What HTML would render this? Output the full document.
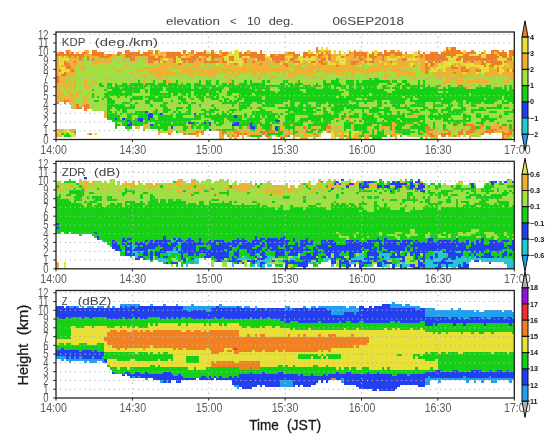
<!DOCTYPE html>
<html><head><meta charset="utf-8"><title>radar</title>
<style>html,body{margin:0;padding:0;background:#fff;}svg{display:block;}</style>
</head><body>
<svg width="550" height="439" viewBox="0 0 550 439">
<rect width="550" height="439" fill="#fff"/>
<defs><filter id="sf" x="0" y="0" width="1" height="1"><feGaussianBlur stdDeviation="0.45"/></filter></defs>
<g shape-rendering="crispEdges" filter="url(#sf)">
<path fill="#f0b030" d="M219.0 137.31H224.0V139.50H219.0zM229.1 137.31H231.7V139.50H229.1zM234.2 137.31H236.8V139.50H234.2zM241.9 137.31H244.4V139.50H241.9zM257.1 137.31H259.7V139.50H257.1zM292.8 137.31H295.3V139.50H292.8zM300.4 137.31H308.1V139.50H300.4zM313.2 137.31H315.7V139.50H313.2zM341.2 137.31H343.7V139.50H341.2zM346.3 137.31H348.8V139.50H346.3zM351.3 137.31H361.5V139.50H351.3zM364.1 137.31H369.2V139.50H364.1zM425.2 137.31H427.7V139.50H425.2zM435.4 137.31H437.9V139.50H435.4zM468.5 137.31H471.0V139.50H468.5zM504.1 137.31H506.7V139.50H504.1zM56.0 135.12H61.1V137.31H56.0zM196.0 135.12H198.6V137.31H196.0zM219.0 135.12H224.0V137.31H219.0zM234.2 135.12H236.8V137.31H234.2zM241.9 135.12H244.4V137.31H241.9zM247.0 135.12H249.5V137.31H247.0zM275.0 135.12H277.5V137.31H275.0zM280.1 135.12H285.1V137.31H280.1zM292.8 135.12H297.9V137.31H292.8zM303.0 135.12H310.6V137.31H303.0zM333.5 135.12H343.7V137.31H333.5zM346.3 135.12H348.8V137.31H346.3zM353.9 135.12H359.0V137.31H353.9zM364.1 135.12H369.2V137.31H364.1zM392.1 135.12H397.2V137.31H392.1zM422.6 135.12H427.7V137.31H422.6zM435.4 135.12H437.9V137.31H435.4zM448.1 135.12H450.6V137.31H448.1zM458.3 135.12H460.8V137.31H458.3zM468.5 135.12H476.1V137.31H468.5zM504.1 135.12H506.7V137.31H504.1zM56.0 132.92H58.5V135.12H56.0zM73.8 132.92H76.4V135.12H73.8zM157.8 132.92H160.4V135.12H157.8zM196.0 132.92H198.6V135.12H196.0zM201.1 132.92H203.7V135.12H201.1zM219.0 132.92H221.5V135.12H219.0zM229.1 132.92H236.8V135.12H229.1zM241.9 132.92H244.4V135.12H241.9zM247.0 132.92H262.2V135.12H247.0zM282.6 132.92H292.8V135.12H282.6zM295.3 132.92H300.4V135.12H295.3zM303.0 132.92H310.6V135.12H303.0zM315.7 132.92H320.8V135.12H315.7zM341.2 132.92H343.7V135.12H341.2zM356.4 132.92H359.0V135.12H356.4zM364.1 132.92H371.7V135.12H364.1zM387.0 132.92H402.3V135.12H387.0zM425.2 132.92H427.7V135.12H425.2zM435.4 132.92H440.5V135.12H435.4zM58.5 130.73H61.1V132.92H58.5zM71.3 130.73H73.8V132.92H71.3zM157.8 130.73H162.9V132.92H157.8zM168.0 130.73H173.1V132.92H168.0zM180.8 130.73H185.9V132.92H180.8zM193.5 130.73H196.0V132.92H193.5zM198.6 130.73H201.1V132.92H198.6zM219.0 130.73H221.5V132.92H219.0zM229.1 130.73H234.2V132.92H229.1zM239.3 130.73H259.7V132.92H239.3zM275.0 130.73H277.5V132.92H275.0zM282.6 130.73H292.8V132.92H282.6zM297.9 130.73H305.5V132.92H297.9zM320.8 130.73H323.3V132.92H320.8zM325.9 130.73H328.4V132.92H325.9zM333.5 130.73H346.3V132.92H333.5zM359.0 130.73H361.5V132.92H359.0zM369.2 130.73H371.7V132.92H369.2zM392.1 130.73H394.6V132.92H392.1zM420.1 130.73H422.6V132.92H420.1zM427.7 130.73H437.9V132.92H427.7zM440.5 130.73H443.0V132.92H440.5zM473.6 130.73H483.7V132.92H473.6zM493.9 130.73H501.6V132.92H493.9zM504.1 130.73H509.2V132.92H504.1zM56.0 128.54H63.6V130.73H56.0zM68.7 128.54H76.4V130.73H68.7zM168.0 128.54H173.1V130.73H168.0zM196.0 128.54H203.7V130.73H196.0zM211.3 128.54H213.9V130.73H211.3zM239.3 128.54H247.0V130.73H239.3zM254.6 128.54H264.8V130.73H254.6zM272.4 128.54H275.0V130.73H272.4zM280.1 128.54H287.7V130.73H280.1zM295.3 128.54H300.4V130.73H295.3zM303.0 128.54H305.5V130.73H303.0zM308.1 128.54H310.6V130.73H308.1zM315.7 128.54H318.2V130.73H315.7zM325.9 128.54H331.0V130.73H325.9zM333.5 128.54H336.1V130.73H333.5zM338.6 128.54H341.2V130.73H338.6zM374.3 128.54H376.8V130.73H374.3zM387.0 128.54H389.5V130.73H387.0zM392.1 128.54H394.6V130.73H392.1zM432.8 128.54H437.9V130.73H432.8zM450.6 128.54H455.7V130.73H450.6zM463.4 128.54H468.5V130.73H463.4zM476.1 128.54H483.7V130.73H476.1zM496.5 128.54H509.2V130.73H496.5zM134.9 126.34H137.5V128.54H134.9zM142.6 126.34H147.7V128.54H142.6zM188.4 126.34H190.9V128.54H188.4zM241.9 126.34H244.4V128.54H241.9zM257.1 126.34H262.2V128.54H257.1zM280.1 126.34H282.6V128.54H280.1zM297.9 126.34H300.4V128.54H297.9zM305.5 126.34H308.1V128.54H305.5zM310.6 126.34H313.2V128.54H310.6zM315.7 126.34H318.2V128.54H315.7zM333.5 126.34H338.6V128.54H333.5zM351.3 126.34H353.9V128.54H351.3zM366.6 126.34H369.2V128.54H366.6zM379.4 126.34H389.5V128.54H379.4zM392.1 126.34H394.6V128.54H392.1zM435.4 126.34H437.9V128.54H435.4zM453.2 126.34H455.7V128.54H453.2zM463.4 126.34H465.9V128.54H463.4zM468.5 126.34H471.0V128.54H468.5zM481.2 126.34H483.7V128.54H481.2zM491.4 126.34H499.0V128.54H491.4zM501.6 126.34H509.2V128.54H501.6zM119.7 124.15H122.2V126.34H119.7zM142.6 124.15H147.7V126.34H142.6zM290.2 124.15H292.8V126.34H290.2zM328.4 124.15H331.0V126.34H328.4zM351.3 124.15H353.9V126.34H351.3zM392.1 124.15H397.2V126.34H392.1zM407.4 124.15H412.5V126.34H407.4zM417.5 124.15H420.1V126.34H417.5zM473.6 124.15H476.1V126.34H473.6zM478.7 124.15H481.2V126.34H478.7zM493.9 124.15H499.0V126.34H493.9zM506.7 124.15H509.2V126.34H506.7zM359.0 121.96H364.1V124.15H359.0zM392.1 121.96H394.6V124.15H392.1zM415.0 121.96H417.5V124.15H415.0zM348.8 119.77H351.3V121.96H348.8zM336.1 117.58H341.2V119.77H336.1zM346.3 117.58H351.3V119.77H346.3zM353.9 117.58H356.4V119.77H353.9zM359.0 117.58H361.5V119.77H359.0zM104.4 115.38H106.9V117.58H104.4zM300.4 115.38H305.5V117.58H300.4zM346.3 115.38H348.8V117.58H346.3zM407.4 115.38H417.5V117.58H407.4zM104.4 113.19H106.9V115.38H104.4zM366.6 113.19H369.2V115.38H366.6zM412.5 113.19H417.5V115.38H412.5zM104.4 111.00H106.9V113.19H104.4zM71.3 106.61H76.4V108.81H71.3zM73.8 104.42H76.4V106.61H73.8zM81.5 104.42H84.0V106.61H81.5zM68.7 102.23H76.4V104.42H68.7zM84.0 102.23H86.6V104.42H84.0zM56.0 100.03H63.6V102.23H56.0zM68.7 100.03H76.4V102.23H68.7zM84.0 100.03H86.6V102.23H84.0zM56.0 97.84H73.8V100.03H56.0zM84.0 97.84H89.1V100.03H84.0zM56.0 95.65H61.1V97.84H56.0zM63.6 95.65H78.9V97.84H63.6zM81.5 95.65H84.0V97.84H81.5zM56.0 93.46H63.6V95.65H56.0zM68.7 93.46H73.8V95.65H68.7zM76.4 93.46H78.9V95.65H76.4zM86.6 93.46H89.1V95.65H86.6zM56.0 91.27H63.6V93.46H56.0zM66.2 91.27H71.3V93.46H66.2zM76.4 91.27H81.5V93.46H76.4zM56.0 89.07H61.1V91.27H56.0zM66.2 89.07H68.7V91.27H66.2zM73.8 89.07H76.4V91.27H73.8zM56.0 86.88H58.5V89.07H56.0zM71.3 86.88H76.4V89.07H71.3zM84.0 86.88H89.1V89.07H84.0zM465.9 86.88H468.5V89.07H465.9zM56.0 84.69H58.5V86.88H56.0zM61.1 84.69H76.4V86.88H61.1zM84.0 84.69H91.6V86.88H84.0zM465.9 84.69H468.5V86.88H465.9zM483.7 84.69H486.3V86.88H483.7zM56.0 82.50H71.3V84.69H56.0zM73.8 82.50H76.4V84.69H73.8zM84.0 82.50H86.6V84.69H84.0zM94.2 82.50H96.7V84.69H94.2zM127.3 82.50H129.8V84.69H127.3zM142.6 82.50H145.1V84.69H142.6zM236.8 82.50H239.3V84.69H236.8zM269.9 82.50H272.4V84.69H269.9zM308.1 82.50H310.6V84.69H308.1zM437.9 82.50H440.5V84.69H437.9zM443.0 82.50H445.6V84.69H443.0zM455.7 82.50H465.9V84.69H455.7zM483.7 82.50H486.3V84.69H483.7zM493.9 82.50H496.5V84.69H493.9zM58.5 80.30H66.2V82.50H58.5zM68.7 80.30H71.3V82.50H68.7zM73.8 80.30H76.4V82.50H73.8zM84.0 80.30H86.6V82.50H84.0zM91.6 80.30H94.2V82.50H91.6zM142.6 80.30H145.1V82.50H142.6zM165.5 80.30H170.6V82.50H165.5zM203.7 80.30H206.2V82.50H203.7zM226.6 80.30H231.7V82.50H226.6zM295.3 80.30H297.9V82.50H295.3zM389.5 80.30H392.1V82.50H389.5zM443.0 80.30H450.6V82.50H443.0zM455.7 80.30H463.4V82.50H455.7zM465.9 80.30H488.8V82.50H465.9zM504.1 80.30H509.2V82.50H504.1zM58.5 78.11H71.3V80.30H58.5zM73.8 78.11H76.4V80.30H73.8zM106.9 78.11H109.5V80.30H106.9zM134.9 78.11H137.5V80.30H134.9zM157.8 78.11H162.9V80.30H157.8zM165.5 78.11H168.0V80.30H165.5zM226.6 78.11H231.7V80.30H226.6zM257.1 78.11H259.7V80.30H257.1zM269.9 78.11H272.4V80.30H269.9zM285.1 78.11H290.2V80.30H285.1zM320.8 78.11H323.3V80.30H320.8zM338.6 78.11H341.2V80.30H338.6zM346.3 78.11H348.8V80.30H346.3zM366.6 78.11H369.2V80.30H366.6zM384.4 78.11H387.0V80.30H384.4zM392.1 78.11H394.6V80.30H392.1zM412.5 78.11H417.5V80.30H412.5zM425.2 78.11H430.3V80.30H425.2zM437.9 78.11H440.5V80.30H437.9zM445.6 78.11H458.3V80.30H445.6zM460.8 78.11H463.4V80.30H460.8zM473.6 78.11H483.7V80.30H473.6zM491.4 78.11H493.9V80.30H491.4zM506.7 78.11H514.3V80.30H506.7zM58.5 75.92H66.2V78.11H58.5zM68.7 75.92H71.3V78.11H68.7zM73.8 75.92H76.4V78.11H73.8zM84.0 75.92H89.1V78.11H84.0zM142.6 75.92H147.7V78.11H142.6zM155.3 75.92H162.9V78.11H155.3zM190.9 75.92H193.5V78.11H190.9zM208.8 75.92H211.3V78.11H208.8zM213.9 75.92H216.4V78.11H213.9zM224.0 75.92H226.6V78.11H224.0zM234.2 75.92H236.8V78.11H234.2zM257.1 75.92H262.2V78.11H257.1zM269.9 75.92H275.0V78.11H269.9zM290.2 75.92H295.3V78.11H290.2zM303.0 75.92H305.5V78.11H303.0zM308.1 75.92H318.2V78.11H308.1zM320.8 75.92H323.3V78.11H320.8zM351.3 75.92H353.9V78.11H351.3zM366.6 75.92H369.2V78.11H366.6zM374.3 75.92H376.8V78.11H374.3zM384.4 75.92H387.0V78.11H384.4zM397.2 75.92H399.7V78.11H397.2zM407.4 75.92H409.9V78.11H407.4zM412.5 75.92H415.0V78.11H412.5zM420.1 75.92H422.6V78.11H420.1zM432.8 75.92H435.4V78.11H432.8zM437.9 75.92H443.0V78.11H437.9zM445.6 75.92H465.9V78.11H445.6zM471.0 75.92H473.6V78.11H471.0zM486.3 75.92H488.8V78.11H486.3zM496.5 75.92H499.0V78.11H496.5zM501.6 75.92H504.1V78.11H501.6zM506.7 75.92H514.3V78.11H506.7zM56.0 73.73H58.5V75.92H56.0zM66.2 73.73H73.8V75.92H66.2zM140.0 73.73H145.1V75.92H140.0zM150.2 73.73H183.3V75.92H150.2zM188.4 73.73H193.5V75.92H188.4zM196.0 73.73H216.4V75.92H196.0zM226.6 73.73H229.1V75.92H226.6zM231.7 73.73H239.3V75.92H231.7zM252.1 73.73H257.1V75.92H252.1zM259.7 73.73H262.2V75.92H259.7zM282.6 73.73H285.1V75.92H282.6zM287.7 73.73H297.9V75.92H287.7zM305.5 73.73H310.6V75.92H305.5zM336.1 73.73H338.6V75.92H336.1zM341.2 73.73H343.7V75.92H341.2zM346.3 73.73H348.8V75.92H346.3zM351.3 73.73H353.9V75.92H351.3zM384.4 73.73H389.5V75.92H384.4zM394.6 73.73H399.7V75.92H394.6zM402.3 73.73H404.8V75.92H402.3zM407.4 73.73H415.0V75.92H407.4zM432.8 73.73H450.6V75.92H432.8zM458.3 73.73H473.6V75.92H458.3zM476.1 73.73H478.7V75.92H476.1zM483.7 73.73H514.3V75.92H483.7zM56.0 71.53H58.5V73.73H56.0zM66.2 71.53H76.4V73.73H66.2zM117.1 71.53H119.7V73.73H117.1zM129.8 71.53H134.9V73.73H129.8zM150.2 71.53H175.7V73.73H150.2zM180.8 71.53H193.5V73.73H180.8zM198.6 71.53H221.5V73.73H198.6zM224.0 71.53H229.1V73.73H224.0zM231.7 71.53H234.2V73.73H231.7zM236.8 71.53H247.0V73.73H236.8zM252.1 71.53H257.1V73.73H252.1zM259.7 71.53H267.3V73.73H259.7zM269.9 71.53H272.4V73.73H269.9zM275.0 71.53H280.1V73.73H275.0zM282.6 71.53H285.1V73.73H282.6zM287.7 71.53H315.7V73.73H287.7zM323.3 71.53H333.5V73.73H323.3zM336.1 71.53H343.7V73.73H336.1zM351.3 71.53H356.4V73.73H351.3zM361.5 71.53H374.3V73.73H361.5zM376.8 71.53H379.4V73.73H376.8zM394.6 71.53H415.0V73.73H394.6zM422.6 71.53H425.2V73.73H422.6zM427.7 71.53H430.3V73.73H427.7zM432.8 71.53H453.2V73.73H432.8zM455.7 71.53H463.4V73.73H455.7zM465.9 71.53H476.1V73.73H465.9zM483.7 71.53H499.0V73.73H483.7zM501.6 71.53H514.3V73.73H501.6zM56.0 69.34H58.5V71.53H56.0zM68.7 69.34H71.3V71.53H68.7zM73.8 69.34H76.4V71.53H73.8zM81.5 69.34H84.0V71.53H81.5zM117.1 69.34H119.7V71.53H117.1zM137.5 69.34H142.6V71.53H137.5zM147.7 69.34H170.6V71.53H147.7zM180.8 69.34H203.7V71.53H180.8zM206.2 69.34H219.0V71.53H206.2zM221.5 69.34H290.2V71.53H221.5zM292.8 69.34H313.2V71.53H292.8zM315.7 69.34H320.8V71.53H315.7zM323.3 69.34H381.9V71.53H323.3zM384.4 69.34H387.0V71.53H384.4zM389.5 69.34H409.9V71.53H389.5zM420.1 69.34H425.2V71.53H420.1zM427.7 69.34H430.3V71.53H427.7zM437.9 69.34H440.5V71.53H437.9zM445.6 69.34H460.8V71.53H445.6zM468.5 69.34H476.1V71.53H468.5zM488.8 69.34H496.5V71.53H488.8zM504.1 69.34H506.7V71.53H504.1zM56.0 67.15H58.5V69.34H56.0zM71.3 67.15H76.4V69.34H71.3zM78.9 67.15H86.6V69.34H78.9zM112.0 67.15H114.6V69.34H112.0zM122.2 67.15H124.7V69.34H122.2zM142.6 67.15H168.0V69.34H142.6zM173.1 67.15H190.9V69.34H173.1zM196.0 67.15H203.7V69.34H196.0zM208.8 67.15H224.0V69.34H208.8zM226.6 67.15H290.2V69.34H226.6zM292.8 67.15H325.9V69.34H292.8zM328.4 67.15H364.1V69.34H328.4zM366.6 67.15H389.5V69.34H366.6zM392.1 67.15H402.3V69.34H392.1zM409.9 67.15H412.5V69.34H409.9zM420.1 67.15H425.2V69.34H420.1zM432.8 67.15H435.4V69.34H432.8zM445.6 67.15H450.6V69.34H445.6zM458.3 67.15H460.8V69.34H458.3zM468.5 67.15H478.7V69.34H468.5zM488.8 67.15H493.9V69.34H488.8zM501.6 67.15H514.3V69.34H501.6zM56.0 64.95H58.5V67.15H56.0zM61.1 64.95H66.2V67.15H61.1zM71.3 64.95H76.4V67.15H71.3zM78.9 64.95H84.0V67.15H78.9zM104.4 64.95H106.9V67.15H104.4zM124.7 64.95H129.8V67.15H124.7zM157.8 64.95H183.3V67.15H157.8zM185.9 64.95H198.6V67.15H185.9zM203.7 64.95H208.8V67.15H203.7zM224.0 64.95H234.2V67.15H224.0zM236.8 64.95H239.3V67.15H236.8zM241.9 64.95H247.0V67.15H241.9zM252.1 64.95H272.4V67.15H252.1zM277.5 64.95H285.1V67.15H277.5zM287.7 64.95H300.4V67.15H287.7zM308.1 64.95H336.1V67.15H308.1zM338.6 64.95H353.9V67.15H338.6zM361.5 64.95H364.1V67.15H361.5zM371.7 64.95H409.9V67.15H371.7zM420.1 64.95H425.2V67.15H420.1zM432.8 64.95H437.9V67.15H432.8zM453.2 64.95H455.7V67.15H453.2zM458.3 64.95H465.9V67.15H458.3zM496.5 64.95H499.0V67.15H496.5zM504.1 64.95H506.7V67.15H504.1zM509.2 64.95H514.3V67.15H509.2zM56.0 62.76H58.5V64.95H56.0zM68.7 62.76H78.9V64.95H68.7zM81.5 62.76H84.0V64.95H81.5zM91.6 62.76H99.3V64.95H91.6zM124.7 62.76H127.3V64.95H124.7zM147.7 62.76H157.8V64.95H147.7zM160.4 62.76H175.7V64.95H160.4zM180.8 62.76H185.9V64.95H180.8zM190.9 62.76H201.1V64.95H190.9zM203.7 62.76H206.2V64.95H203.7zM208.8 62.76H213.9V64.95H208.8zM219.0 62.76H221.5V64.95H219.0zM224.0 62.76H226.6V64.95H224.0zM229.1 62.76H234.2V64.95H229.1zM236.8 62.76H239.3V64.95H236.8zM244.4 62.76H259.7V64.95H244.4zM262.2 62.76H269.9V64.95H262.2zM272.4 62.76H280.1V64.95H272.4zM287.7 62.76H290.2V64.95H287.7zM297.9 62.76H305.5V64.95H297.9zM308.1 62.76H313.2V64.95H308.1zM315.7 62.76H320.8V64.95H315.7zM325.9 62.76H328.4V64.95H325.9zM336.1 62.76H338.6V64.95H336.1zM346.3 62.76H351.3V64.95H346.3zM356.4 62.76H361.5V64.95H356.4zM371.7 62.76H374.3V64.95H371.7zM376.8 62.76H384.4V64.95H376.8zM387.0 62.76H392.1V64.95H387.0zM397.2 62.76H409.9V64.95H397.2zM415.0 62.76H417.5V64.95H415.0zM420.1 62.76H425.2V64.95H420.1zM435.4 62.76H437.9V64.95H435.4zM440.5 62.76H443.0V64.95H440.5zM453.2 62.76H460.8V64.95H453.2zM473.6 62.76H481.2V64.95H473.6zM506.7 62.76H514.3V64.95H506.7zM56.0 60.57H58.5V62.76H56.0zM66.2 60.57H73.8V62.76H66.2zM76.4 60.57H78.9V62.76H76.4zM81.5 60.57H84.0V62.76H81.5zM94.2 60.57H112.0V62.76H94.2zM117.1 60.57H119.7V62.76H117.1zM132.4 60.57H134.9V62.76H132.4zM145.1 60.57H147.7V62.76H145.1zM152.8 60.57H155.3V62.76H152.8zM165.5 60.57H173.1V62.76H165.5zM193.5 60.57H203.7V62.76H193.5zM219.0 60.57H221.5V62.76H219.0zM247.0 60.57H252.1V62.76H247.0zM254.6 60.57H275.0V62.76H254.6zM280.1 60.57H285.1V62.76H280.1zM287.7 60.57H292.8V62.76H287.7zM303.0 60.57H308.1V62.76H303.0zM323.3 60.57H328.4V62.76H323.3zM331.0 60.57H338.6V62.76H331.0zM346.3 60.57H351.3V62.76H346.3zM359.0 60.57H361.5V62.76H359.0zM366.6 60.57H369.2V62.76H366.6zM374.3 60.57H379.4V62.76H374.3zM381.9 60.57H389.5V62.76H381.9zM392.1 60.57H425.2V62.76H392.1zM440.5 60.57H443.0V62.76H440.5zM465.9 60.57H471.0V62.76H465.9zM473.6 60.57H481.2V62.76H473.6zM506.7 60.57H514.3V62.76H506.7zM56.0 58.38H58.5V60.57H56.0zM68.7 58.38H78.9V60.57H68.7zM81.5 58.38H84.0V60.57H81.5zM94.2 58.38H101.8V60.57H94.2zM104.4 58.38H112.0V60.57H104.4zM122.2 58.38H124.7V60.57H122.2zM134.9 58.38H137.5V60.57H134.9zM145.1 58.38H147.7V60.57H145.1zM160.4 58.38H162.9V60.57H160.4zM168.0 58.38H173.1V60.57H168.0zM196.0 58.38H198.6V60.57H196.0zM201.1 58.38H203.7V60.57H201.1zM213.9 58.38H221.5V60.57H213.9zM241.9 58.38H244.4V60.57H241.9zM247.0 58.38H254.6V60.57H247.0zM264.8 58.38H269.9V60.57H264.8zM285.1 58.38H287.7V60.57H285.1zM295.3 58.38H297.9V60.57H295.3zM315.7 58.38H320.8V60.57H315.7zM331.0 58.38H336.1V60.57H331.0zM346.3 58.38H359.0V60.57H346.3zM364.1 58.38H366.6V60.57H364.1zM374.3 58.38H381.9V60.57H374.3zM384.4 58.38H387.0V60.57H384.4zM397.2 58.38H402.3V60.57H397.2zM417.5 58.38H425.2V60.57H417.5zM56.0 56.19H58.5V58.38H56.0zM61.1 56.19H63.6V58.38H61.1zM66.2 56.19H68.7V58.38H66.2zM71.3 56.19H73.8V58.38H71.3zM76.4 56.19H78.9V58.38H76.4zM89.1 56.19H99.3V58.38H89.1zM109.5 56.19H114.6V58.38H109.5zM134.9 56.19H137.5V58.38H134.9zM140.0 56.19H147.7V58.38H140.0zM162.9 56.19H165.5V58.38H162.9zM185.9 56.19H190.9V58.38H185.9zM201.1 56.19H206.2V58.38H201.1zM221.5 56.19H224.0V58.38H221.5zM315.7 56.19H318.2V58.38H315.7zM320.8 56.19H325.9V58.38H320.8zM331.0 56.19H336.1V58.38H331.0zM343.7 56.19H353.9V58.38H343.7zM356.4 56.19H359.0V58.38H356.4zM361.5 56.19H364.1V58.38H361.5zM376.8 56.19H381.9V58.38H376.8zM384.4 56.19H387.0V58.38H384.4zM389.5 56.19H397.2V58.38H389.5zM399.7 56.19H402.3V58.38H399.7zM404.8 56.19H412.5V58.38H404.8zM417.5 56.19H420.1V58.38H417.5zM422.6 56.19H425.2V58.38H422.6zM84.0 53.99H91.6V56.19H84.0zM104.4 53.99H106.9V56.19H104.4zM112.0 53.99H117.1V56.19H112.0zM119.7 53.99H124.7V56.19H119.7zM150.2 53.99H162.9V56.19H150.2zM183.3 53.99H185.9V56.19H183.3zM188.4 53.99H193.5V56.19H188.4zM219.0 53.99H221.5V56.19H219.0zM275.0 53.99H277.5V56.19H275.0zM285.1 53.99H292.8V56.19H285.1zM323.3 53.99H328.4V56.19H323.3zM331.0 53.99H341.2V56.19H331.0zM348.8 53.99H353.9V56.19H348.8zM389.5 53.99H394.6V56.19H389.5zM402.3 53.99H412.5V56.19H402.3zM417.5 53.99H420.1V56.19H417.5zM422.6 53.99H425.2V56.19H422.6zM56.0 51.80H58.5V53.99H56.0zM68.7 51.80H71.3V53.99H68.7zM76.4 51.80H78.9V53.99H76.4zM86.6 51.80H89.1V53.99H86.6zM160.4 51.80H165.5V53.99H160.4zM188.4 51.80H190.9V53.99H188.4zM219.0 51.80H221.5V53.99H219.0zM247.0 51.80H249.5V53.99H247.0zM285.1 51.80H287.7V53.99H285.1zM310.6 51.80H313.2V53.99H310.6zM315.7 51.80H318.2V53.99H315.7zM328.4 51.80H331.0V53.99H328.4zM338.6 51.80H341.2V53.99H338.6zM351.3 51.80H353.9V53.99H351.3zM376.8 51.80H379.4V53.99H376.8zM68.7 49.61H71.3V51.80H68.7zM84.0 49.61H89.1V51.80H84.0zM137.5 49.61H140.0V51.80H137.5zM150.2 49.61H152.8V51.80H150.2zM219.0 49.61H221.5V51.80H219.0zM247.0 49.61H249.5V51.80H247.0zM318.2 49.61H320.8V51.80H318.2zM323.3 49.61H331.0V51.80H323.3zM397.2 49.61H399.7V51.80H397.2zM417.5 49.61H420.1V51.80H417.5z"/>
<path fill="#a0e040" d="M267.3 137.31H272.4V139.50H267.3zM338.6 137.31H341.2V139.50H338.6zM394.6 137.31H397.2V139.50H394.6zM430.3 137.31H435.4V139.50H430.3zM506.7 137.31H511.8V139.50H506.7zM229.1 135.12H231.7V137.31H229.1zM269.9 135.12H272.4V137.31H269.9zM297.9 135.12H303.0V137.31H297.9zM310.6 135.12H315.7V137.31H310.6zM318.2 135.12H320.8V137.31H318.2zM407.4 135.12H422.6V137.31H407.4zM427.7 135.12H430.3V137.31H427.7zM450.6 135.12H453.2V137.31H450.6zM455.7 135.12H458.3V137.31H455.7zM463.4 135.12H465.9V137.31H463.4zM476.1 135.12H481.2V137.31H476.1zM509.2 135.12H514.3V137.31H509.2zM63.6 132.92H66.2V135.12H63.6zM185.9 132.92H188.4V135.12H185.9zM224.0 132.92H229.1V135.12H224.0zM264.8 132.92H267.3V135.12H264.8zM300.4 132.92H303.0V135.12H300.4zM310.6 132.92H313.2V135.12H310.6zM333.5 132.92H338.6V135.12H333.5zM353.9 132.92H356.4V135.12H353.9zM359.0 132.92H361.5V135.12H359.0zM374.3 132.92H376.8V135.12H374.3zM384.4 132.92H387.0V135.12H384.4zM409.9 132.92H417.5V135.12H409.9zM422.6 132.92H425.2V135.12H422.6zM432.8 132.92H435.4V135.12H432.8zM450.6 132.92H458.3V135.12H450.6zM463.4 132.92H465.9V135.12H463.4zM468.5 132.92H481.2V135.12H468.5zM488.8 132.92H491.4V135.12H488.8zM511.8 132.92H514.3V135.12H511.8zM61.1 130.73H66.2V132.92H61.1zM162.9 130.73H168.0V132.92H162.9zM178.2 130.73H180.8V132.92H178.2zM185.9 130.73H193.5V132.92H185.9zM226.6 130.73H229.1V132.92H226.6zM313.2 130.73H318.2V132.92H313.2zM346.3 130.73H348.8V132.92H346.3zM374.3 130.73H376.8V132.92H374.3zM384.4 130.73H392.1V132.92H384.4zM415.0 130.73H417.5V132.92H415.0zM437.9 130.73H440.5V132.92H437.9zM443.0 130.73H448.1V132.92H443.0zM450.6 130.73H458.3V132.92H450.6zM463.4 130.73H465.9V132.92H463.4zM511.8 130.73H514.3V132.92H511.8zM127.3 128.54H129.8V130.73H127.3zM160.4 128.54H162.9V130.73H160.4zM173.1 128.54H183.3V130.73H173.1zM185.9 128.54H196.0V130.73H185.9zM213.9 128.54H216.4V130.73H213.9zM236.8 128.54H239.3V130.73H236.8zM247.0 128.54H249.5V130.73H247.0zM290.2 128.54H292.8V130.73H290.2zM300.4 128.54H303.0V130.73H300.4zM331.0 128.54H333.5V130.73H331.0zM336.1 128.54H338.6V130.73H336.1zM341.2 128.54H343.7V130.73H341.2zM348.8 128.54H353.9V130.73H348.8zM366.6 128.54H371.7V130.73H366.6zM379.4 128.54H381.9V130.73H379.4zM384.4 128.54H387.0V130.73H384.4zM409.9 128.54H417.5V130.73H409.9zM437.9 128.54H443.0V130.73H437.9zM448.1 128.54H450.6V130.73H448.1zM455.7 128.54H460.8V130.73H455.7zM483.7 128.54H486.3V130.73H483.7zM137.5 126.34H140.0V128.54H137.5zM147.7 126.34H150.2V128.54H147.7zM168.0 126.34H170.6V128.54H168.0zM173.1 126.34H183.3V128.54H173.1zM193.5 126.34H196.0V128.54H193.5zM201.1 126.34H203.7V128.54H201.1zM208.8 126.34H231.7V128.54H208.8zM234.2 126.34H239.3V128.54H234.2zM244.4 126.34H247.0V128.54H244.4zM272.4 126.34H275.0V128.54H272.4zM282.6 126.34H285.1V128.54H282.6zM295.3 126.34H297.9V128.54H295.3zM300.4 126.34H303.0V128.54H300.4zM313.2 126.34H315.7V128.54H313.2zM318.2 126.34H320.8V128.54H318.2zM331.0 126.34H333.5V128.54H331.0zM338.6 126.34H343.7V128.54H338.6zM369.2 126.34H374.3V128.54H369.2zM402.3 126.34H409.9V128.54H402.3zM430.3 126.34H432.8V128.54H430.3zM437.9 126.34H443.0V128.54H437.9zM445.6 126.34H453.2V128.54H445.6zM455.7 126.34H463.4V128.54H455.7zM465.9 126.34H468.5V128.54H465.9zM483.7 126.34H486.3V128.54H483.7zM511.8 126.34H514.3V128.54H511.8zM147.7 124.15H150.2V126.34H147.7zM157.8 124.15H160.4V126.34H157.8zM185.9 124.15H190.9V126.34H185.9zM196.0 124.15H198.6V126.34H196.0zM211.3 124.15H216.4V126.34H211.3zM221.5 124.15H231.7V126.34H221.5zM257.1 124.15H259.7V126.34H257.1zM272.4 124.15H282.6V126.34H272.4zM303.0 124.15H308.1V126.34H303.0zM331.0 124.15H343.7V126.34H331.0zM371.7 124.15H376.8V126.34H371.7zM379.4 124.15H381.9V126.34H379.4zM404.8 124.15H407.4V126.34H404.8zM427.7 124.15H432.8V126.34H427.7zM435.4 124.15H443.0V126.34H435.4zM445.6 124.15H453.2V126.34H445.6zM458.3 124.15H463.4V126.34H458.3zM476.1 124.15H478.7V126.34H476.1zM483.7 124.15H493.9V126.34H483.7zM499.0 124.15H501.6V126.34H499.0zM511.8 124.15H514.3V126.34H511.8zM117.1 121.96H122.2V124.15H117.1zM147.7 121.96H155.3V124.15H147.7zM170.6 121.96H173.1V124.15H170.6zM185.9 121.96H188.4V124.15H185.9zM198.6 121.96H201.1V124.15H198.6zM211.3 121.96H213.9V124.15H211.3zM216.4 121.96H219.0V124.15H216.4zM224.0 121.96H231.7V124.15H224.0zM262.2 121.96H264.8V124.15H262.2zM269.9 121.96H272.4V124.15H269.9zM280.1 121.96H282.6V124.15H280.1zM303.0 121.96H313.2V124.15H303.0zM331.0 121.96H343.7V124.15H331.0zM353.9 121.96H359.0V124.15H353.9zM412.5 121.96H415.0V124.15H412.5zM425.2 121.96H432.8V124.15H425.2zM435.4 121.96H448.1V124.15H435.4zM450.6 121.96H453.2V124.15H450.6zM460.8 121.96H463.4V124.15H460.8zM465.9 121.96H476.1V124.15H465.9zM483.7 121.96H496.5V124.15H483.7zM499.0 121.96H514.3V124.15H499.0zM142.6 119.77H145.1V121.96H142.6zM190.9 119.77H203.7V121.96H190.9zM208.8 119.77H213.9V121.96H208.8zM224.0 119.77H229.1V121.96H224.0zM259.7 119.77H264.8V121.96H259.7zM280.1 119.77H285.1V121.96H280.1zM295.3 119.77H297.9V121.96H295.3zM308.1 119.77H310.6V121.96H308.1zM320.8 119.77H323.3V121.96H320.8zM331.0 119.77H336.1V121.96H331.0zM338.6 119.77H346.3V121.96H338.6zM351.3 119.77H353.9V121.96H351.3zM356.4 119.77H359.0V121.96H356.4zM361.5 119.77H364.1V121.96H361.5zM376.8 119.77H381.9V121.96H376.8zM384.4 119.77H387.0V121.96H384.4zM399.7 119.77H402.3V121.96H399.7zM420.1 119.77H422.6V121.96H420.1zM425.2 119.77H443.0V121.96H425.2zM471.0 119.77H481.2V121.96H471.0zM486.3 119.77H488.8V121.96H486.3zM493.9 119.77H506.7V121.96H493.9zM511.8 119.77H514.3V121.96H511.8zM119.7 117.58H122.2V119.77H119.7zM132.4 117.58H134.9V119.77H132.4zM155.3 117.58H157.8V119.77H155.3zM201.1 117.58H211.3V119.77H201.1zM224.0 117.58H226.6V119.77H224.0zM241.9 117.58H247.0V119.77H241.9zM262.2 117.58H264.8V119.77H262.2zM277.5 117.58H285.1V119.77H277.5zM295.3 117.58H300.4V119.77H295.3zM320.8 117.58H323.3V119.77H320.8zM333.5 117.58H336.1V119.77H333.5zM343.7 117.58H346.3V119.77H343.7zM351.3 117.58H353.9V119.77H351.3zM356.4 117.58H359.0V119.77H356.4zM376.8 117.58H384.4V119.77H376.8zM397.2 117.58H399.7V119.77H397.2zM425.2 117.58H430.3V119.77H425.2zM432.8 117.58H435.4V119.77H432.8zM440.5 117.58H443.0V119.77H440.5zM448.1 117.58H450.6V119.77H448.1zM453.2 117.58H463.4V119.77H453.2zM465.9 117.58H468.5V119.77H465.9zM471.0 117.58H481.2V119.77H471.0zM496.5 117.58H514.3V119.77H496.5zM119.7 115.38H127.3V117.58H119.7zM132.4 115.38H137.5V117.58H132.4zM152.8 115.38H157.8V117.58H152.8zM173.1 115.38H175.7V117.58H173.1zM183.3 115.38H193.5V117.58H183.3zM201.1 115.38H203.7V117.58H201.1zM241.9 115.38H244.4V117.58H241.9zM247.0 115.38H249.5V117.58H247.0zM252.1 115.38H254.6V117.58H252.1zM259.7 115.38H262.2V117.58H259.7zM264.8 115.38H267.3V117.58H264.8zM275.0 115.38H277.5V117.58H275.0zM280.1 115.38H285.1V117.58H280.1zM295.3 115.38H300.4V117.58H295.3zM305.5 115.38H308.1V117.58H305.5zM338.6 115.38H341.2V117.58H338.6zM359.0 115.38H361.5V117.58H359.0zM374.3 115.38H379.4V117.58H374.3zM404.8 115.38H407.4V117.58H404.8zM425.2 115.38H427.7V117.58H425.2zM450.6 115.38H463.4V117.58H450.6zM471.0 115.38H476.1V117.58H471.0zM481.2 115.38H483.7V117.58H481.2zM488.8 115.38H499.0V117.58H488.8zM501.6 115.38H514.3V117.58H501.6zM117.1 113.19H119.7V115.38H117.1zM122.2 113.19H127.3V115.38H122.2zM162.9 113.19H170.6V115.38H162.9zM173.1 113.19H175.7V115.38H173.1zM190.9 113.19H193.5V115.38H190.9zM196.0 113.19H198.6V115.38H196.0zM206.2 113.19H208.8V115.38H206.2zM211.3 113.19H216.4V115.38H211.3zM219.0 113.19H221.5V115.38H219.0zM226.6 113.19H229.1V115.38H226.6zM231.7 113.19H244.4V115.38H231.7zM247.0 113.19H252.1V115.38H247.0zM277.5 113.19H280.1V115.38H277.5zM282.6 113.19H287.7V115.38H282.6zM313.2 113.19H323.3V115.38H313.2zM331.0 113.19H333.5V115.38H331.0zM338.6 113.19H343.7V115.38H338.6zM346.3 113.19H353.9V115.38H346.3zM359.0 113.19H361.5V115.38H359.0zM369.2 113.19H371.7V115.38H369.2zM374.3 113.19H376.8V115.38H374.3zM381.9 113.19H384.4V115.38H381.9zM387.0 113.19H389.5V115.38H387.0zM392.1 113.19H397.2V115.38H392.1zM399.7 113.19H402.3V115.38H399.7zM404.8 113.19H407.4V115.38H404.8zM417.5 113.19H430.3V115.38H417.5zM432.8 113.19H437.9V115.38H432.8zM440.5 113.19H443.0V115.38H440.5zM460.8 113.19H463.4V115.38H460.8zM465.9 113.19H476.1V115.38H465.9zM481.2 113.19H504.1V115.38H481.2zM509.2 113.19H514.3V115.38H509.2zM112.0 111.00H114.6V113.19H112.0zM117.1 111.00H122.2V113.19H117.1zM127.3 111.00H134.9V113.19H127.3zM147.7 111.00H152.8V113.19H147.7zM157.8 111.00H162.9V113.19H157.8zM168.0 111.00H173.1V113.19H168.0zM175.7 111.00H178.2V113.19H175.7zM180.8 111.00H185.9V113.19H180.8zM190.9 111.00H203.7V113.19H190.9zM213.9 111.00H221.5V113.19H213.9zM224.0 111.00H226.6V113.19H224.0zM229.1 111.00H231.7V113.19H229.1zM234.2 111.00H252.1V113.19H234.2zM272.4 111.00H285.1V113.19H272.4zM290.2 111.00H292.8V113.19H290.2zM315.7 111.00H323.3V113.19H315.7zM328.4 111.00H333.5V113.19H328.4zM341.2 111.00H348.8V113.19H341.2zM351.3 111.00H361.5V113.19H351.3zM364.1 111.00H369.2V113.19H364.1zM379.4 111.00H384.4V113.19H379.4zM392.1 111.00H397.2V113.19H392.1zM399.7 111.00H409.9V113.19H399.7zM420.1 111.00H430.3V113.19H420.1zM437.9 111.00H440.5V113.19H437.9zM443.0 111.00H448.1V113.19H443.0zM463.4 111.00H471.0V113.19H463.4zM473.6 111.00H488.8V113.19H473.6zM496.5 111.00H504.1V113.19H496.5zM91.6 108.81H106.9V111.00H91.6zM109.5 108.81H117.1V111.00H109.5zM119.7 108.81H122.2V111.00H119.7zM127.3 108.81H155.3V111.00H127.3zM157.8 108.81H162.9V111.00H157.8zM170.6 108.81H175.7V111.00H170.6zM178.2 108.81H188.4V111.00H178.2zM190.9 108.81H201.1V111.00H190.9zM206.2 108.81H208.8V111.00H206.2zM219.0 108.81H229.1V111.00H219.0zM236.8 108.81H239.3V111.00H236.8zM241.9 108.81H259.7V111.00H241.9zM264.8 108.81H287.7V111.00H264.8zM303.0 108.81H305.5V111.00H303.0zM313.2 108.81H315.7V111.00H313.2zM320.8 108.81H323.3V111.00H320.8zM325.9 108.81H331.0V111.00H325.9zM343.7 108.81H351.3V111.00H343.7zM353.9 108.81H361.5V111.00H353.9zM364.1 108.81H369.2V111.00H364.1zM389.5 108.81H407.4V111.00H389.5zM412.5 108.81H415.0V111.00H412.5zM417.5 108.81H420.1V111.00H417.5zM425.2 108.81H427.7V111.00H425.2zM437.9 108.81H440.5V111.00H437.9zM450.6 108.81H453.2V111.00H450.6zM465.9 108.81H471.0V111.00H465.9zM486.3 108.81H511.8V111.00H486.3zM89.1 106.61H106.9V108.81H89.1zM112.0 106.61H114.6V108.81H112.0zM134.9 106.61H162.9V108.81H134.9zM168.0 106.61H175.7V108.81H168.0zM183.3 106.61H185.9V108.81H183.3zM190.9 106.61H213.9V108.81H190.9zM216.4 106.61H239.3V108.81H216.4zM247.0 106.61H249.5V108.81H247.0zM252.1 106.61H257.1V108.81H252.1zM262.2 106.61H277.5V108.81H262.2zM315.7 106.61H323.3V108.81H315.7zM325.9 106.61H331.0V108.81H325.9zM343.7 106.61H346.3V108.81H343.7zM369.2 106.61H371.7V108.81H369.2zM379.4 106.61H384.4V108.81H379.4zM389.5 106.61H394.6V108.81H389.5zM409.9 106.61H422.6V108.81H409.9zM427.7 106.61H432.8V108.81H427.7zM435.4 106.61H445.6V108.81H435.4zM450.6 106.61H460.8V108.81H450.6zM465.9 106.61H478.7V108.81H465.9zM483.7 106.61H486.3V108.81H483.7zM501.6 106.61H504.1V108.81H501.6zM509.2 106.61H514.3V108.81H509.2zM71.3 104.42H73.8V106.61H71.3zM78.9 104.42H81.5V106.61H78.9zM89.1 104.42H106.9V106.61H89.1zM124.7 104.42H129.8V106.61H124.7zM134.9 104.42H150.2V106.61H134.9zM152.8 104.42H160.4V106.61H152.8zM165.5 104.42H188.4V106.61H165.5zM190.9 104.42H198.6V106.61H190.9zM201.1 104.42H211.3V106.61H201.1zM213.9 104.42H231.7V106.61H213.9zM234.2 104.42H239.3V106.61H234.2zM249.5 104.42H262.2V106.61H249.5zM275.0 104.42H285.1V106.61H275.0zM287.7 104.42H290.2V106.61H287.7zM295.3 104.42H297.9V106.61H295.3zM303.0 104.42H305.5V106.61H303.0zM310.6 104.42H315.7V106.61H310.6zM320.8 104.42H328.4V106.61H320.8zM331.0 104.42H333.5V106.61H331.0zM359.0 104.42H376.8V106.61H359.0zM381.9 104.42H392.1V106.61H381.9zM399.7 104.42H404.8V106.61H399.7zM407.4 104.42H409.9V106.61H407.4zM425.2 104.42H432.8V106.61H425.2zM443.0 104.42H448.1V106.61H443.0zM453.2 104.42H458.3V106.61H453.2zM463.4 104.42H471.0V106.61H463.4zM476.1 104.42H496.5V106.61H476.1zM501.6 104.42H514.3V106.61H501.6zM76.4 102.23H84.0V104.42H76.4zM86.6 102.23H106.9V104.42H86.6zM114.6 102.23H122.2V104.42H114.6zM129.8 102.23H134.9V104.42H129.8zM137.5 102.23H145.1V104.42H137.5zM150.2 102.23H162.9V104.42H150.2zM168.0 102.23H178.2V104.42H168.0zM180.8 102.23H183.3V104.42H180.8zM188.4 102.23H190.9V104.42H188.4zM196.0 102.23H221.5V104.42H196.0zM236.8 102.23H239.3V104.42H236.8zM252.1 102.23H257.1V104.42H252.1zM262.2 102.23H264.8V104.42H262.2zM282.6 102.23H290.2V104.42H282.6zM295.3 102.23H300.4V104.42H295.3zM308.1 102.23H315.7V104.42H308.1zM325.9 102.23H328.4V104.42H325.9zM348.8 102.23H356.4V104.42H348.8zM359.0 102.23H364.1V104.42H359.0zM366.6 102.23H376.8V104.42H366.6zM381.9 102.23H384.4V104.42H381.9zM387.0 102.23H389.5V104.42H387.0zM404.8 102.23H415.0V104.42H404.8zM425.2 102.23H432.8V104.42H425.2zM435.4 102.23H440.5V104.42H435.4zM450.6 102.23H458.3V104.42H450.6zM463.4 102.23H465.9V104.42H463.4zM468.5 102.23H471.0V104.42H468.5zM481.2 102.23H483.7V104.42H481.2zM493.9 102.23H501.6V104.42H493.9zM509.2 102.23H511.8V104.42H509.2zM76.4 100.03H84.0V102.23H76.4zM86.6 100.03H94.2V102.23H86.6zM99.3 100.03H106.9V102.23H99.3zM114.6 100.03H129.8V102.23H114.6zM132.4 100.03H145.1V102.23H132.4zM150.2 100.03H152.8V102.23H150.2zM162.9 100.03H170.6V102.23H162.9zM173.1 100.03H180.8V102.23H173.1zM185.9 100.03H201.1V102.23H185.9zM203.7 100.03H219.0V102.23H203.7zM221.5 100.03H224.0V102.23H221.5zM226.6 100.03H229.1V102.23H226.6zM231.7 100.03H234.2V102.23H231.7zM239.3 100.03H244.4V102.23H239.3zM287.7 100.03H290.2V102.23H287.7zM348.8 100.03H351.3V102.23H348.8zM374.3 100.03H376.8V102.23H374.3zM381.9 100.03H389.5V102.23H381.9zM404.8 100.03H409.9V102.23H404.8zM453.2 100.03H455.7V102.23H453.2zM463.4 100.03H465.9V102.23H463.4zM496.5 100.03H501.6V102.23H496.5zM504.1 100.03H506.7V102.23H504.1zM73.8 97.84H84.0V100.03H73.8zM89.1 97.84H101.8V100.03H89.1zM104.4 97.84H106.9V100.03H104.4zM112.0 97.84H129.8V100.03H112.0zM142.6 97.84H147.7V100.03H142.6zM162.9 97.84H178.2V100.03H162.9zM185.9 97.84H190.9V100.03H185.9zM193.5 97.84H198.6V100.03H193.5zM203.7 97.84H211.3V100.03H203.7zM219.0 97.84H224.0V100.03H219.0zM229.1 97.84H236.8V100.03H229.1zM241.9 97.84H244.4V100.03H241.9zM262.2 97.84H264.8V100.03H262.2zM356.4 97.84H361.5V100.03H356.4zM364.1 97.84H366.6V100.03H364.1zM407.4 97.84H409.9V100.03H407.4zM412.5 97.84H417.5V100.03H412.5zM440.5 97.84H443.0V100.03H440.5zM483.7 97.84H486.3V100.03H483.7zM501.6 97.84H504.1V100.03H501.6zM61.1 95.65H63.6V97.84H61.1zM78.9 95.65H81.5V97.84H78.9zM84.0 95.65H91.6V97.84H84.0zM94.2 95.65H96.7V97.84H94.2zM99.3 95.65H104.4V97.84H99.3zM109.5 95.65H117.1V97.84H109.5zM119.7 95.65H124.7V97.84H119.7zM127.3 95.65H132.4V97.84H127.3zM142.6 95.65H145.1V97.84H142.6zM155.3 95.65H157.8V97.84H155.3zM170.6 95.65H178.2V97.84H170.6zM183.3 95.65H188.4V97.84H183.3zM190.9 95.65H196.0V97.84H190.9zM203.7 95.65H206.2V97.84H203.7zM213.9 95.65H216.4V97.84H213.9zM219.0 95.65H221.5V97.84H219.0zM224.0 95.65H234.2V97.84H224.0zM236.8 95.65H239.3V97.84H236.8zM262.2 95.65H264.8V97.84H262.2zM336.1 95.65H338.6V97.84H336.1zM343.7 95.65H346.3V97.84H343.7zM402.3 95.65H404.8V97.84H402.3zM412.5 95.65H415.0V97.84H412.5zM501.6 95.65H504.1V97.84H501.6zM63.6 93.46H68.7V95.65H63.6zM73.8 93.46H76.4V95.65H73.8zM78.9 93.46H86.6V95.65H78.9zM89.1 93.46H91.6V95.65H89.1zM94.2 93.46H104.4V95.65H94.2zM132.4 93.46H150.2V95.65H132.4zM170.6 93.46H173.1V95.65H170.6zM178.2 93.46H180.8V95.65H178.2zM185.9 93.46H188.4V95.65H185.9zM190.9 93.46H193.5V95.65H190.9zM206.2 93.46H208.8V95.65H206.2zM219.0 93.46H226.6V95.65H219.0zM231.7 93.46H239.3V95.65H231.7zM252.1 93.46H254.6V95.65H252.1zM341.2 93.46H348.8V95.65H341.2zM369.2 93.46H371.7V95.65H369.2zM468.5 93.46H471.0V95.65H468.5zM63.6 91.27H66.2V93.46H63.6zM71.3 91.27H76.4V93.46H71.3zM81.5 91.27H106.9V93.46H81.5zM122.2 91.27H124.7V93.46H122.2zM140.0 91.27H145.1V93.46H140.0zM147.7 91.27H150.2V93.46H147.7zM160.4 91.27H168.0V93.46H160.4zM190.9 91.27H193.5V93.46H190.9zM216.4 91.27H219.0V93.46H216.4zM221.5 91.27H226.6V93.46H221.5zM275.0 91.27H277.5V93.46H275.0zM303.0 91.27H305.5V93.46H303.0zM343.7 91.27H348.8V93.46H343.7zM387.0 91.27H392.1V93.46H387.0zM437.9 91.27H443.0V93.46H437.9zM445.6 91.27H448.1V93.46H445.6zM61.1 89.07H66.2V91.27H61.1zM68.7 89.07H73.8V91.27H68.7zM76.4 89.07H91.6V91.27H76.4zM94.2 89.07H104.4V91.27H94.2zM106.9 89.07H112.0V91.27H106.9zM140.0 89.07H145.1V91.27H140.0zM147.7 89.07H150.2V91.27H147.7zM162.9 89.07H165.5V91.27H162.9zM221.5 89.07H229.1V91.27H221.5zM254.6 89.07H257.1V91.27H254.6zM262.2 89.07H264.8V91.27H262.2zM269.9 89.07H280.1V91.27H269.9zM300.4 89.07H305.5V91.27H300.4zM338.6 89.07H346.3V91.27H338.6zM384.4 89.07H394.6V91.27H384.4zM506.7 89.07H509.2V91.27H506.7zM58.5 86.88H71.3V89.07H58.5zM76.4 86.88H84.0V89.07H76.4zM89.1 86.88H106.9V89.07H89.1zM119.7 86.88H122.2V89.07H119.7zM145.1 86.88H150.2V89.07H145.1zM162.9 86.88H165.5V89.07H162.9zM190.9 86.88H193.5V89.07H190.9zM198.6 86.88H201.1V89.07H198.6zM208.8 86.88H211.3V89.07H208.8zM224.0 86.88H229.1V89.07H224.0zM249.5 86.88H252.1V89.07H249.5zM269.9 86.88H277.5V89.07H269.9zM315.7 86.88H323.3V89.07H315.7zM331.0 86.88H333.5V89.07H331.0zM336.1 86.88H341.2V89.07H336.1zM346.3 86.88H348.8V89.07H346.3zM353.9 86.88H356.4V89.07H353.9zM361.5 86.88H364.1V89.07H361.5zM376.8 86.88H381.9V89.07H376.8zM389.5 86.88H392.1V89.07H389.5zM399.7 86.88H402.3V89.07H399.7zM407.4 86.88H409.9V89.07H407.4zM420.1 86.88H422.6V89.07H420.1zM437.9 86.88H443.0V89.07H437.9zM445.6 86.88H448.1V89.07H445.6zM468.5 86.88H476.1V89.07H468.5zM491.4 86.88H493.9V89.07H491.4zM501.6 86.88H504.1V89.07H501.6zM506.7 86.88H509.2V89.07H506.7zM511.8 86.88H514.3V89.07H511.8zM58.5 84.69H61.1V86.88H58.5zM76.4 84.69H84.0V86.88H76.4zM91.6 84.69H99.3V86.88H91.6zM104.4 84.69H106.9V86.88H104.4zM112.0 84.69H114.6V86.88H112.0zM147.7 84.69H150.2V86.88H147.7zM190.9 84.69H193.5V86.88H190.9zM216.4 84.69H219.0V86.88H216.4zM287.7 84.69H290.2V86.88H287.7zM300.4 84.69H303.0V86.88H300.4zM310.6 84.69H313.2V86.88H310.6zM320.8 84.69H323.3V86.88H320.8zM331.0 84.69H333.5V86.88H331.0zM346.3 84.69H348.8V86.88H346.3zM353.9 84.69H356.4V86.88H353.9zM376.8 84.69H381.9V86.88H376.8zM387.0 84.69H394.6V86.88H387.0zM399.7 84.69H402.3V86.88H399.7zM425.2 84.69H427.7V86.88H425.2zM430.3 84.69H435.4V86.88H430.3zM440.5 84.69H448.1V86.88H440.5zM450.6 84.69H458.3V86.88H450.6zM463.4 84.69H465.9V86.88H463.4zM468.5 84.69H478.7V86.88H468.5zM481.2 84.69H483.7V86.88H481.2zM491.4 84.69H504.1V86.88H491.4zM506.7 84.69H509.2V86.88H506.7zM511.8 84.69H514.3V86.88H511.8zM71.3 82.50H73.8V84.69H71.3zM76.4 82.50H84.0V84.69H76.4zM86.6 82.50H94.2V84.69H86.6zM96.7 82.50H99.3V84.69H96.7zM101.8 82.50H106.9V84.69H101.8zM112.0 82.50H114.6V84.69H112.0zM117.1 82.50H122.2V84.69H117.1zM155.3 82.50H157.8V84.69H155.3zM165.5 82.50H168.0V84.69H165.5zM178.2 82.50H180.8V84.69H178.2zM183.3 82.50H185.9V84.69H183.3zM190.9 82.50H193.5V84.69H190.9zM201.1 82.50H206.2V84.69H201.1zM211.3 82.50H216.4V84.69H211.3zM219.0 82.50H221.5V84.69H219.0zM226.6 82.50H229.1V84.69H226.6zM234.2 82.50H236.8V84.69H234.2zM247.0 82.50H249.5V84.69H247.0zM264.8 82.50H269.9V84.69H264.8zM272.4 82.50H280.1V84.69H272.4zM285.1 82.50H287.7V84.69H285.1zM292.8 82.50H295.3V84.69H292.8zM303.0 82.50H308.1V84.69H303.0zM310.6 82.50H315.7V84.69H310.6zM318.2 82.50H323.3V84.69H318.2zM341.2 82.50H346.3V84.69H341.2zM353.9 82.50H356.4V84.69H353.9zM379.4 82.50H387.0V84.69H379.4zM392.1 82.50H397.2V84.69H392.1zM402.3 82.50H404.8V84.69H402.3zM409.9 82.50H417.5V84.69H409.9zM420.1 82.50H422.6V84.69H420.1zM425.2 82.50H437.9V84.69H425.2zM440.5 82.50H443.0V84.69H440.5zM445.6 82.50H455.7V84.69H445.6zM465.9 82.50H483.7V84.69H465.9zM486.3 82.50H493.9V84.69H486.3zM496.5 82.50H514.3V84.69H496.5zM66.2 80.30H68.7V82.50H66.2zM71.3 80.30H73.8V82.50H71.3zM76.4 80.30H84.0V82.50H76.4zM86.6 80.30H91.6V82.50H86.6zM94.2 80.30H137.5V82.50H94.2zM140.0 80.30H142.6V82.50H140.0zM145.1 80.30H152.8V82.50H145.1zM155.3 80.30H162.9V82.50H155.3zM170.6 80.30H175.7V82.50H170.6zM178.2 80.30H198.6V82.50H178.2zM201.1 80.30H203.7V82.50H201.1zM211.3 80.30H216.4V82.50H211.3zM219.0 80.30H226.6V82.50H219.0zM234.2 80.30H244.4V82.50H234.2zM247.0 80.30H249.5V82.50H247.0zM252.1 80.30H262.2V82.50H252.1zM264.8 80.30H267.3V82.50H264.8zM269.9 80.30H282.6V82.50H269.9zM287.7 80.30H295.3V82.50H287.7zM300.4 80.30H323.3V82.50H300.4zM325.9 80.30H331.0V82.50H325.9zM338.6 80.30H346.3V82.50H338.6zM353.9 80.30H356.4V82.50H353.9zM359.0 80.30H361.5V82.50H359.0zM397.2 80.30H402.3V82.50H397.2zM407.4 80.30H417.5V82.50H407.4zM420.1 80.30H422.6V82.50H420.1zM425.2 80.30H443.0V82.50H425.2zM450.6 80.30H455.7V82.50H450.6zM463.4 80.30H465.9V82.50H463.4zM488.8 80.30H504.1V82.50H488.8zM509.2 80.30H514.3V82.50H509.2zM71.3 78.11H73.8V80.30H71.3zM76.4 78.11H106.9V80.30H76.4zM109.5 78.11H134.9V80.30H109.5zM137.5 78.11H157.8V80.30H137.5zM162.9 78.11H165.5V80.30H162.9zM168.0 78.11H226.6V80.30H168.0zM231.7 78.11H257.1V80.30H231.7zM259.7 78.11H269.9V80.30H259.7zM272.4 78.11H285.1V80.30H272.4zM290.2 78.11H320.8V80.30H290.2zM323.3 78.11H336.1V80.30H323.3zM341.2 78.11H346.3V80.30H341.2zM348.8 78.11H366.6V80.30H348.8zM371.7 78.11H374.3V80.30H371.7zM379.4 78.11H384.4V80.30H379.4zM387.0 78.11H392.1V80.30H387.0zM394.6 78.11H412.5V80.30H394.6zM417.5 78.11H425.2V80.30H417.5zM430.3 78.11H437.9V80.30H430.3zM440.5 78.11H445.6V80.30H440.5zM458.3 78.11H460.8V80.30H458.3zM463.4 78.11H473.6V80.30H463.4zM483.7 78.11H491.4V80.30H483.7zM493.9 78.11H506.7V80.30H493.9zM66.2 75.92H68.7V78.11H66.2zM71.3 75.92H73.8V78.11H71.3zM76.4 75.92H84.0V78.11H76.4zM89.1 75.92H142.6V78.11H89.1zM147.7 75.92H155.3V78.11H147.7zM162.9 75.92H190.9V78.11H162.9zM193.5 75.92H208.8V78.11H193.5zM211.3 75.92H213.9V78.11H211.3zM216.4 75.92H224.0V78.11H216.4zM226.6 75.92H234.2V78.11H226.6zM236.8 75.92H257.1V78.11H236.8zM262.2 75.92H269.9V78.11H262.2zM275.0 75.92H290.2V78.11H275.0zM295.3 75.92H303.0V78.11H295.3zM305.5 75.92H308.1V78.11H305.5zM318.2 75.92H320.8V78.11H318.2zM323.3 75.92H351.3V78.11H323.3zM353.9 75.92H366.6V78.11H353.9zM369.2 75.92H374.3V78.11H369.2zM376.8 75.92H384.4V78.11H376.8zM387.0 75.92H397.2V78.11H387.0zM399.7 75.92H407.4V78.11H399.7zM409.9 75.92H412.5V78.11H409.9zM415.0 75.92H420.1V78.11H415.0zM422.6 75.92H432.8V78.11H422.6zM435.4 75.92H437.9V78.11H435.4zM443.0 75.92H445.6V78.11H443.0zM465.9 75.92H471.0V78.11H465.9zM473.6 75.92H486.3V78.11H473.6zM488.8 75.92H496.5V78.11H488.8zM499.0 75.92H501.6V78.11H499.0zM504.1 75.92H506.7V78.11H504.1zM73.8 73.73H140.0V75.92H73.8zM145.1 73.73H150.2V75.92H145.1zM183.3 73.73H188.4V75.92H183.3zM193.5 73.73H196.0V75.92H193.5zM216.4 73.73H226.6V75.92H216.4zM229.1 73.73H231.7V75.92H229.1zM239.3 73.73H252.1V75.92H239.3zM257.1 73.73H259.7V75.92H257.1zM262.2 73.73H282.6V75.92H262.2zM285.1 73.73H287.7V75.92H285.1zM297.9 73.73H305.5V75.92H297.9zM310.6 73.73H336.1V75.92H310.6zM338.6 73.73H341.2V75.92H338.6zM343.7 73.73H346.3V75.92H343.7zM348.8 73.73H351.3V75.92H348.8zM353.9 73.73H384.4V75.92H353.9zM389.5 73.73H394.6V75.92H389.5zM399.7 73.73H402.3V75.92H399.7zM404.8 73.73H407.4V75.92H404.8zM415.0 73.73H432.8V75.92H415.0zM450.6 73.73H458.3V75.92H450.6zM473.6 73.73H476.1V75.92H473.6zM478.7 73.73H483.7V75.92H478.7zM76.4 71.53H117.1V73.73H76.4zM119.7 71.53H129.8V73.73H119.7zM134.9 71.53H150.2V73.73H134.9zM175.7 71.53H180.8V73.73H175.7zM193.5 71.53H198.6V73.73H193.5zM221.5 71.53H224.0V73.73H221.5zM229.1 71.53H231.7V73.73H229.1zM234.2 71.53H236.8V73.73H234.2zM247.0 71.53H252.1V73.73H247.0zM257.1 71.53H259.7V73.73H257.1zM267.3 71.53H269.9V73.73H267.3zM272.4 71.53H275.0V73.73H272.4zM280.1 71.53H282.6V73.73H280.1zM285.1 71.53H287.7V73.73H285.1zM315.7 71.53H323.3V73.73H315.7zM333.5 71.53H336.1V73.73H333.5zM343.7 71.53H351.3V73.73H343.7zM356.4 71.53H361.5V73.73H356.4zM374.3 71.53H376.8V73.73H374.3zM379.4 71.53H394.6V73.73H379.4zM415.0 71.53H422.6V73.73H415.0zM430.3 71.53H432.8V73.73H430.3zM478.7 71.53H481.2V73.73H478.7zM76.4 69.34H81.5V71.53H76.4zM84.0 69.34H117.1V71.53H84.0zM119.7 69.34H137.5V71.53H119.7zM142.6 69.34H147.7V71.53H142.6zM170.6 69.34H180.8V71.53H170.6zM203.7 69.34H206.2V71.53H203.7zM219.0 69.34H221.5V71.53H219.0zM290.2 69.34H292.8V71.53H290.2zM313.2 69.34H315.7V71.53H313.2zM320.8 69.34H323.3V71.53H320.8zM381.9 69.34H384.4V71.53H381.9zM387.0 69.34H389.5V71.53H387.0zM409.9 69.34H420.1V71.53H409.9zM440.5 69.34H443.0V71.53H440.5zM76.4 67.15H78.9V69.34H76.4zM86.6 67.15H112.0V69.34H86.6zM114.6 67.15H122.2V69.34H114.6zM124.7 67.15H142.6V69.34H124.7zM168.0 67.15H173.1V69.34H168.0zM190.9 67.15H196.0V69.34H190.9zM203.7 67.15H208.8V69.34H203.7zM224.0 67.15H226.6V69.34H224.0zM290.2 67.15H292.8V69.34H290.2zM325.9 67.15H328.4V69.34H325.9zM364.1 67.15H366.6V69.34H364.1zM389.5 67.15H392.1V69.34H389.5zM402.3 67.15H409.9V69.34H402.3zM412.5 67.15H420.1V69.34H412.5zM76.4 64.95H78.9V67.15H76.4zM84.0 64.95H104.4V67.15H84.0zM106.9 64.95H124.7V67.15H106.9zM129.8 64.95H157.8V67.15H129.8zM183.3 64.95H185.9V67.15H183.3zM198.6 64.95H203.7V67.15H198.6zM208.8 64.95H224.0V67.15H208.8zM234.2 64.95H236.8V67.15H234.2zM247.0 64.95H252.1V67.15H247.0zM272.4 64.95H277.5V67.15H272.4zM300.4 64.95H308.1V67.15H300.4zM353.9 64.95H359.0V67.15H353.9zM364.1 64.95H371.7V67.15H364.1zM415.0 64.95H420.1V67.15H415.0zM78.9 62.76H81.5V64.95H78.9zM84.0 62.76H91.6V64.95H84.0zM99.3 62.76H124.7V64.95H99.3zM127.3 62.76H147.7V64.95H127.3zM157.8 62.76H160.4V64.95H157.8zM175.7 62.76H178.2V64.95H175.7zM185.9 62.76H190.9V64.95H185.9zM201.1 62.76H203.7V64.95H201.1zM206.2 62.76H208.8V64.95H206.2zM213.9 62.76H216.4V64.95H213.9zM221.5 62.76H224.0V64.95H221.5zM241.9 62.76H244.4V64.95H241.9zM269.9 62.76H272.4V64.95H269.9zM290.2 62.76H295.3V64.95H290.2zM305.5 62.76H308.1V64.95H305.5zM361.5 62.76H366.6V64.95H361.5zM374.3 62.76H376.8V64.95H374.3zM78.9 60.57H81.5V62.76H78.9zM84.0 60.57H94.2V62.76H84.0zM112.0 60.57H117.1V62.76H112.0zM119.7 60.57H132.4V62.76H119.7zM134.9 60.57H145.1V62.76H134.9zM185.9 60.57H188.4V62.76H185.9zM84.0 58.38H86.6V60.57H84.0zM89.1 58.38H91.6V60.57H89.1zM101.8 58.38H104.4V60.57H101.8zM112.0 58.38H122.2V60.57H112.0zM124.7 58.38H129.8V60.57H124.7zM137.5 58.38H145.1V60.57H137.5zM84.0 56.19H86.6V58.38H84.0zM114.6 56.19H124.7V58.38H114.6zM137.5 56.19H140.0V58.38H137.5z"/>
<path fill="#f07c28" d="M280.1 137.31H282.6V139.50H280.1zM501.6 137.31H504.1V139.50H501.6zM226.6 135.12H229.1V137.31H226.6zM231.7 135.12H234.2V137.31H231.7zM236.8 135.12H239.3V137.31H236.8zM264.8 135.12H269.9V137.31H264.8zM285.1 135.12H287.7V137.31H285.1zM315.7 135.12H318.2V137.31H315.7zM430.3 135.12H435.4V137.31H430.3zM440.5 135.12H445.6V137.31H440.5zM453.2 135.12H455.7V137.31H453.2zM501.6 135.12H504.1V137.31H501.6zM506.7 135.12H509.2V137.31H506.7zM89.1 132.92H91.6V135.12H89.1zM168.0 132.92H170.6V135.12H168.0zM183.3 132.92H185.9V135.12H183.3zM188.4 132.92H196.0V135.12H188.4zM221.5 132.92H224.0V135.12H221.5zM236.8 132.92H241.9V135.12H236.8zM244.4 132.92H247.0V135.12H244.4zM262.2 132.92H264.8V135.12H262.2zM313.2 132.92H315.7V135.12H313.2zM427.7 132.92H432.8V135.12H427.7zM440.5 132.92H450.6V135.12H440.5zM458.3 132.92H463.4V135.12H458.3zM465.9 132.92H468.5V135.12H465.9zM481.2 132.92H483.7V135.12H481.2zM501.6 132.92H511.8V135.12H501.6zM196.0 130.73H198.6V132.92H196.0zM201.1 130.73H203.7V132.92H201.1zM221.5 130.73H226.6V132.92H221.5zM234.2 130.73H239.3V132.92H234.2zM262.2 130.73H275.0V132.92H262.2zM328.4 130.73H331.0V132.92H328.4zM425.2 130.73H427.7V132.92H425.2zM448.1 130.73H450.6V132.92H448.1zM458.3 130.73H463.4V132.92H458.3zM465.9 130.73H473.6V132.92H465.9zM483.7 130.73H493.9V132.92H483.7zM501.6 130.73H504.1V132.92H501.6zM509.2 130.73H511.8V132.92H509.2zM216.4 128.54H221.5V130.73H216.4zM234.2 128.54H236.8V130.73H234.2zM249.5 128.54H252.1V130.73H249.5zM269.9 128.54H272.4V130.73H269.9zM287.7 128.54H290.2V130.73H287.7zM305.5 128.54H308.1V130.73H305.5zM425.2 128.54H432.8V130.73H425.2zM443.0 128.54H448.1V130.73H443.0zM460.8 128.54H463.4V130.73H460.8zM468.5 128.54H476.1V130.73H468.5zM486.3 128.54H496.5V130.73H486.3zM509.2 128.54H514.3V130.73H509.2zM247.0 126.34H249.5V128.54H247.0zM269.9 126.34H272.4V128.54H269.9zM303.0 126.34H305.5V128.54H303.0zM325.9 126.34H331.0V128.54H325.9zM425.2 126.34H430.3V128.54H425.2zM471.0 126.34H476.1V128.54H471.0zM478.7 126.34H481.2V128.54H478.7zM488.8 126.34H491.4V128.54H488.8zM499.0 126.34H501.6V128.54H499.0zM455.7 124.15H458.3V126.34H455.7zM465.9 124.15H473.6V126.34H465.9zM481.2 124.15H483.7V126.34H481.2zM84.0 108.81H86.6V111.00H84.0zM76.4 106.61H81.5V108.81H76.4zM84.0 106.61H89.1V108.81H84.0zM76.4 104.42H78.9V106.61H76.4zM84.0 104.42H89.1V106.61H84.0zM56.0 102.23H58.5V104.42H56.0zM63.6 102.23H66.2V104.42H63.6zM63.6 100.03H68.7V102.23H63.6zM56.0 80.30H58.5V82.50H56.0zM56.0 78.11H58.5V80.30H56.0zM56.0 75.92H58.5V78.11H56.0zM61.1 73.73H66.2V75.92H61.1zM63.6 71.53H66.2V73.73H63.6zM425.2 71.53H427.7V73.73H425.2zM453.2 71.53H455.7V73.73H453.2zM58.5 69.34H61.1V71.53H58.5zM71.3 69.34H73.8V71.53H71.3zM425.2 69.34H427.7V71.53H425.2zM460.8 69.34H468.5V71.53H460.8zM476.1 69.34H481.2V71.53H476.1zM496.5 69.34H499.0V71.53H496.5zM506.7 69.34H509.2V71.53H506.7zM511.8 69.34H514.3V71.53H511.8zM66.2 67.15H71.3V69.34H66.2zM425.2 67.15H430.3V69.34H425.2zM450.6 67.15H458.3V69.34H450.6zM460.8 67.15H465.9V69.34H460.8zM496.5 67.15H499.0V69.34H496.5zM66.2 64.95H71.3V67.15H66.2zM285.1 64.95H287.7V67.15H285.1zM336.1 64.95H338.6V67.15H336.1zM412.5 64.95H415.0V67.15H412.5zM425.2 64.95H427.7V67.15H425.2zM430.3 64.95H432.8V67.15H430.3zM450.6 64.95H453.2V67.15H450.6zM483.7 64.95H486.3V67.15H483.7zM488.8 64.95H493.9V67.15H488.8zM63.6 62.76H68.7V64.95H63.6zM178.2 62.76H180.8V64.95H178.2zM234.2 62.76H236.8V64.95H234.2zM259.7 62.76H262.2V64.95H259.7zM282.6 62.76H287.7V64.95H282.6zM320.8 62.76H325.9V64.95H320.8zM351.3 62.76H356.4V64.95H351.3zM425.2 62.76H427.7V64.95H425.2zM430.3 62.76H435.4V64.95H430.3zM481.2 62.76H486.3V64.95H481.2zM491.4 62.76H501.6V64.95H491.4zM63.6 60.57H66.2V62.76H63.6zM73.8 60.57H76.4V62.76H73.8zM147.7 60.57H152.8V62.76H147.7zM157.8 60.57H160.4V62.76H157.8zM162.9 60.57H165.5V62.76H162.9zM173.1 60.57H175.7V62.76H173.1zM183.3 60.57H185.9V62.76H183.3zM188.4 60.57H193.5V62.76H188.4zM203.7 60.57H219.0V62.76H203.7zM221.5 60.57H226.6V62.76H221.5zM244.4 60.57H247.0V62.76H244.4zM252.1 60.57H254.6V62.76H252.1zM275.0 60.57H280.1V62.76H275.0zM292.8 60.57H300.4V62.76H292.8zM310.6 60.57H315.7V62.76H310.6zM318.2 60.57H323.3V62.76H318.2zM351.3 60.57H359.0V62.76H351.3zM364.1 60.57H366.6V62.76H364.1zM369.2 60.57H374.3V62.76H369.2zM389.5 60.57H392.1V62.76H389.5zM427.7 60.57H432.8V62.76H427.7zM435.4 60.57H440.5V62.76H435.4zM463.4 60.57H465.9V62.76H463.4zM471.0 60.57H473.6V62.76H471.0zM481.2 60.57H483.7V62.76H481.2zM486.3 60.57H501.6V62.76H486.3zM504.1 60.57H506.7V62.76H504.1zM78.9 58.38H81.5V60.57H78.9zM86.6 58.38H89.1V60.57H86.6zM91.6 58.38H94.2V60.57H91.6zM129.8 58.38H134.9V60.57H129.8zM147.7 58.38H160.4V60.57H147.7zM173.1 58.38H175.7V60.57H173.1zM180.8 58.38H196.0V60.57H180.8zM198.6 58.38H201.1V60.57H198.6zM203.7 58.38H206.2V60.57H203.7zM211.3 58.38H213.9V60.57H211.3zM221.5 58.38H224.0V60.57H221.5zM229.1 58.38H234.2V60.57H229.1zM244.4 58.38H247.0V60.57H244.4zM257.1 58.38H264.8V60.57H257.1zM272.4 58.38H285.1V60.57H272.4zM290.2 58.38H295.3V60.57H290.2zM320.8 58.38H325.9V60.57H320.8zM328.4 58.38H331.0V60.57H328.4zM359.0 58.38H364.1V60.57H359.0zM371.7 58.38H374.3V60.57H371.7zM381.9 58.38H384.4V60.57H381.9zM402.3 58.38H407.4V60.57H402.3zM425.2 58.38H448.1V60.57H425.2zM455.7 58.38H460.8V60.57H455.7zM463.4 58.38H496.5V60.57H463.4zM506.7 58.38H511.8V60.57H506.7zM68.7 56.19H71.3V58.38H68.7zM73.8 56.19H76.4V58.38H73.8zM78.9 56.19H84.0V58.38H78.9zM86.6 56.19H89.1V58.38H86.6zM99.3 56.19H109.5V58.38H99.3zM124.7 56.19H134.9V58.38H124.7zM147.7 56.19H155.3V58.38H147.7zM157.8 56.19H162.9V58.38H157.8zM165.5 56.19H175.7V58.38H165.5zM178.2 56.19H180.8V58.38H178.2zM190.9 56.19H198.6V58.38H190.9zM206.2 56.19H208.8V58.38H206.2zM211.3 56.19H221.5V58.38H211.3zM229.1 56.19H234.2V58.38H229.1zM239.3 56.19H241.9V58.38H239.3zM249.5 56.19H264.8V58.38H249.5zM269.9 56.19H285.1V58.38H269.9zM292.8 56.19H297.9V58.38H292.8zM303.0 56.19H305.5V58.38H303.0zM308.1 56.19H310.6V58.38H308.1zM318.2 56.19H320.8V58.38H318.2zM328.4 56.19H331.0V58.38H328.4zM341.2 56.19H343.7V58.38H341.2zM353.9 56.19H356.4V58.38H353.9zM359.0 56.19H361.5V58.38H359.0zM364.1 56.19H366.6V58.38H364.1zM369.2 56.19H376.8V58.38H369.2zM381.9 56.19H384.4V58.38H381.9zM415.0 56.19H417.5V58.38H415.0zM420.1 56.19H422.6V58.38H420.1zM425.2 56.19H445.6V58.38H425.2zM450.6 56.19H453.2V58.38H450.6zM458.3 56.19H481.2V58.38H458.3zM486.3 56.19H499.0V58.38H486.3zM501.6 56.19H506.7V58.38H501.6zM509.2 56.19H511.8V58.38H509.2zM56.0 53.99H84.0V56.19H56.0zM91.6 53.99H104.4V56.19H91.6zM106.9 53.99H112.0V56.19H106.9zM117.1 53.99H119.7V56.19H117.1zM124.7 53.99H150.2V56.19H124.7zM165.5 53.99H183.3V56.19H165.5zM185.9 53.99H188.4V56.19H185.9zM193.5 53.99H219.0V56.19H193.5zM221.5 53.99H226.6V56.19H221.5zM239.3 53.99H264.8V56.19H239.3zM269.9 53.99H275.0V56.19H269.9zM277.5 53.99H285.1V56.19H277.5zM292.8 53.99H300.4V56.19H292.8zM303.0 53.99H315.7V56.19H303.0zM318.2 53.99H323.3V56.19H318.2zM328.4 53.99H331.0V56.19H328.4zM346.3 53.99H348.8V56.19H346.3zM353.9 53.99H366.6V56.19H353.9zM369.2 53.99H374.3V56.19H369.2zM376.8 53.99H389.5V56.19H376.8zM394.6 53.99H402.3V56.19H394.6zM420.1 53.99H422.6V56.19H420.1zM425.2 53.99H455.7V56.19H425.2zM463.4 53.99H468.5V56.19H463.4zM478.7 53.99H481.2V56.19H478.7zM486.3 53.99H496.5V56.19H486.3zM499.0 53.99H506.7V56.19H499.0zM509.2 53.99H514.3V56.19H509.2zM58.5 51.80H63.6V53.99H58.5zM66.2 51.80H68.7V53.99H66.2zM71.3 51.80H73.8V53.99H71.3zM81.5 51.80H86.6V53.99H81.5zM91.6 51.80H104.4V53.99H91.6zM117.1 51.80H122.2V53.99H117.1zM124.7 51.80H140.0V53.99H124.7zM142.6 51.80H152.8V53.99H142.6zM155.3 51.80H157.8V53.99H155.3zM165.5 51.80H180.8V53.99H165.5zM183.3 51.80H185.9V53.99H183.3zM190.9 51.80H193.5V53.99H190.9zM196.0 51.80H206.2V53.99H196.0zM211.3 51.80H213.9V53.99H211.3zM221.5 51.80H229.1V53.99H221.5zM239.3 51.80H241.9V53.99H239.3zM244.4 51.80H247.0V53.99H244.4zM249.5 51.80H257.1V53.99H249.5zM259.7 51.80H262.2V53.99H259.7zM287.7 51.80H295.3V53.99H287.7zM303.0 51.80H308.1V53.99H303.0zM320.8 51.80H323.3V53.99H320.8zM325.9 51.80H328.4V53.99H325.9zM348.8 51.80H351.3V53.99H348.8zM353.9 51.80H366.6V53.99H353.9zM371.7 51.80H374.3V53.99H371.7zM379.4 51.80H381.9V53.99H379.4zM384.4 51.80H402.3V53.99H384.4zM404.8 51.80H407.4V53.99H404.8zM417.5 51.80H420.1V53.99H417.5zM422.6 51.80H425.2V53.99H422.6zM430.3 51.80H437.9V53.99H430.3zM440.5 51.80H463.4V53.99H440.5zM465.9 51.80H476.1V53.99H465.9zM481.2 51.80H483.7V53.99H481.2zM491.4 51.80H493.9V53.99H491.4zM496.5 51.80H506.7V53.99H496.5zM509.2 51.80H514.3V53.99H509.2zM66.2 49.61H68.7V51.80H66.2zM91.6 49.61H96.7V51.80H91.6zM124.7 49.61H129.8V51.80H124.7zM147.7 49.61H150.2V51.80H147.7zM155.3 49.61H157.8V51.80H155.3zM183.3 49.61H185.9V51.80H183.3zM190.9 49.61H193.5V51.80H190.9zM203.7 49.61H206.2V51.80H203.7zM211.3 49.61H213.9V51.80H211.3zM259.7 49.61H262.2V51.80H259.7zM315.7 49.61H318.2V51.80H315.7zM353.9 49.61H356.4V51.80H353.9zM384.4 49.61H387.0V51.80H384.4zM389.5 49.61H394.6V51.80H389.5zM445.6 49.61H460.8V51.80H445.6zM471.0 49.61H473.6V51.80H471.0zM491.4 49.61H499.0V51.80H491.4zM501.6 49.61H504.1V51.80H501.6zM509.2 49.61H514.3V51.80H509.2zM315.7 47.42H318.2V49.61H315.7zM445.6 47.42H448.1V49.61H445.6zM450.6 47.42H455.7V49.61H450.6z"/>
<path fill="#18d018" d="M282.6 137.31H285.1V139.50H282.6zM348.8 137.31H351.3V139.50H348.8zM371.7 137.31H381.9V139.50H371.7zM420.1 137.31H422.6V139.50H420.1zM63.6 135.12H71.3V137.31H63.6zM249.5 135.12H262.2V137.31H249.5zM277.5 135.12H280.1V137.31H277.5zM287.7 135.12H290.2V137.31H287.7zM343.7 135.12H346.3V137.31H343.7zM348.8 135.12H351.3V137.31H348.8zM359.0 135.12H364.1V137.31H359.0zM369.2 135.12H387.0V137.31H369.2zM389.5 135.12H392.1V137.31H389.5zM399.7 135.12H402.3V137.31H399.7zM61.1 132.92H63.6V135.12H61.1zM66.2 132.92H68.7V135.12H66.2zM267.3 132.92H282.6V135.12H267.3zM292.8 132.92H295.3V135.12H292.8zM348.8 132.92H351.3V135.12H348.8zM361.5 132.92H364.1V135.12H361.5zM371.7 132.92H374.3V135.12H371.7zM376.8 132.92H384.4V135.12H376.8zM402.3 132.92H409.9V135.12H402.3zM417.5 132.92H422.6V135.12H417.5zM73.8 130.73H76.4V132.92H73.8zM175.7 130.73H178.2V132.92H175.7zM259.7 130.73H262.2V132.92H259.7zM277.5 130.73H282.6V132.92H277.5zM292.8 130.73H297.9V132.92H292.8zM305.5 130.73H313.2V132.92H305.5zM318.2 130.73H320.8V132.92H318.2zM348.8 130.73H351.3V132.92H348.8zM361.5 130.73H369.2V132.92H361.5zM371.7 130.73H374.3V132.92H371.7zM376.8 130.73H384.4V132.92H376.8zM394.6 130.73H415.0V132.92H394.6zM417.5 130.73H420.1V132.92H417.5zM422.6 130.73H425.2V132.92H422.6zM142.6 128.54H145.1V130.73H142.6zM157.8 128.54H160.4V130.73H157.8zM162.9 128.54H168.0V130.73H162.9zM183.3 128.54H185.9V130.73H183.3zM203.7 128.54H206.2V130.73H203.7zM221.5 128.54H234.2V130.73H221.5zM252.1 128.54H254.6V130.73H252.1zM264.8 128.54H269.9V130.73H264.8zM277.5 128.54H280.1V130.73H277.5zM292.8 128.54H295.3V130.73H292.8zM310.6 128.54H315.7V130.73H310.6zM318.2 128.54H325.9V130.73H318.2zM343.7 128.54H346.3V130.73H343.7zM353.9 128.54H366.6V130.73H353.9zM371.7 128.54H374.3V130.73H371.7zM376.8 128.54H379.4V130.73H376.8zM381.9 128.54H384.4V130.73H381.9zM389.5 128.54H392.1V130.73H389.5zM394.6 128.54H409.9V130.73H394.6zM417.5 128.54H425.2V130.73H417.5zM114.6 126.34H117.1V128.54H114.6zM124.7 126.34H132.4V128.54H124.7zM150.2 126.34H168.0V128.54H150.2zM183.3 126.34H188.4V128.54H183.3zM190.9 126.34H193.5V128.54H190.9zM196.0 126.34H201.1V128.54H196.0zM203.7 126.34H208.8V128.54H203.7zM231.7 126.34H234.2V128.54H231.7zM239.3 126.34H241.9V128.54H239.3zM254.6 126.34H257.1V128.54H254.6zM262.2 126.34H269.9V128.54H262.2zM277.5 126.34H280.1V128.54H277.5zM285.1 126.34H295.3V128.54H285.1zM308.1 126.34H310.6V128.54H308.1zM320.8 126.34H325.9V128.54H320.8zM343.7 126.34H351.3V128.54H343.7zM353.9 126.34H366.6V128.54H353.9zM374.3 126.34H379.4V128.54H374.3zM389.5 126.34H392.1V128.54H389.5zM394.6 126.34H402.3V128.54H394.6zM409.9 126.34H425.2V128.54H409.9zM432.8 126.34H435.4V128.54H432.8zM443.0 126.34H445.6V128.54H443.0zM476.1 126.34H478.7V128.54H476.1zM486.3 126.34H488.8V128.54H486.3zM509.2 126.34H511.8V128.54H509.2zM114.6 124.15H119.7V126.34H114.6zM122.2 124.15H127.3V126.34H122.2zM132.4 124.15H142.6V126.34H132.4zM152.8 124.15H157.8V126.34H152.8zM160.4 124.15H185.9V126.34H160.4zM190.9 124.15H196.0V126.34H190.9zM198.6 124.15H208.8V126.34H198.6zM216.4 124.15H221.5V126.34H216.4zM239.3 124.15H249.5V126.34H239.3zM252.1 124.15H257.1V126.34H252.1zM259.7 124.15H272.4V126.34H259.7zM282.6 124.15H290.2V126.34H282.6zM292.8 124.15H303.0V126.34H292.8zM308.1 124.15H328.4V126.34H308.1zM343.7 124.15H351.3V126.34H343.7zM353.9 124.15H371.7V126.34H353.9zM376.8 124.15H379.4V126.34H376.8zM381.9 124.15H392.1V126.34H381.9zM397.2 124.15H404.8V126.34H397.2zM412.5 124.15H417.5V126.34H412.5zM420.1 124.15H427.7V126.34H420.1zM432.8 124.15H435.4V126.34H432.8zM443.0 124.15H445.6V126.34H443.0zM453.2 124.15H455.7V126.34H453.2zM463.4 124.15H465.9V126.34H463.4zM501.6 124.15H506.7V126.34H501.6zM509.2 124.15H511.8V126.34H509.2zM114.6 121.96H117.1V124.15H114.6zM122.2 121.96H129.8V124.15H122.2zM132.4 121.96H147.7V124.15H132.4zM155.3 121.96H170.6V124.15H155.3zM173.1 121.96H185.9V124.15H173.1zM193.5 121.96H198.6V124.15H193.5zM201.1 121.96H203.7V124.15H201.1zM206.2 121.96H208.8V124.15H206.2zM213.9 121.96H216.4V124.15H213.9zM219.0 121.96H224.0V124.15H219.0zM231.7 121.96H234.2V124.15H231.7zM239.3 121.96H249.5V124.15H239.3zM252.1 121.96H262.2V124.15H252.1zM264.8 121.96H269.9V124.15H264.8zM272.4 121.96H280.1V124.15H272.4zM282.6 121.96H303.0V124.15H282.6zM313.2 121.96H331.0V124.15H313.2zM343.7 121.96H353.9V124.15H343.7zM364.1 121.96H392.1V124.15H364.1zM394.6 121.96H412.5V124.15H394.6zM417.5 121.96H425.2V124.15H417.5zM432.8 121.96H435.4V124.15H432.8zM448.1 121.96H450.6V124.15H448.1zM453.2 121.96H460.8V124.15H453.2zM463.4 121.96H465.9V124.15H463.4zM476.1 121.96H483.7V124.15H476.1zM496.5 121.96H499.0V124.15H496.5zM112.0 119.77H127.3V121.96H112.0zM129.8 119.77H137.5V121.96H129.8zM145.1 119.77H190.9V121.96H145.1zM203.7 119.77H208.8V121.96H203.7zM213.9 119.77H224.0V121.96H213.9zM229.1 119.77H259.7V121.96H229.1zM264.8 119.77H275.0V121.96H264.8zM285.1 119.77H295.3V121.96H285.1zM297.9 119.77H308.1V121.96H297.9zM310.6 119.77H320.8V121.96H310.6zM323.3 119.77H331.0V121.96H323.3zM336.1 119.77H338.6V121.96H336.1zM346.3 119.77H348.8V121.96H346.3zM353.9 119.77H356.4V121.96H353.9zM359.0 119.77H361.5V121.96H359.0zM364.1 119.77H376.8V121.96H364.1zM381.9 119.77H384.4V121.96H381.9zM387.0 119.77H399.7V121.96H387.0zM402.3 119.77H420.1V121.96H402.3zM422.6 119.77H425.2V121.96H422.6zM443.0 119.77H471.0V121.96H443.0zM481.2 119.77H486.3V121.96H481.2zM488.8 119.77H493.9V121.96H488.8zM506.7 119.77H511.8V121.96H506.7zM106.9 117.58H114.6V119.77H106.9zM117.1 117.58H119.7V119.77H117.1zM124.7 117.58H132.4V119.77H124.7zM134.9 117.58H137.5V119.77H134.9zM142.6 117.58H147.7V119.77H142.6zM150.2 117.58H155.3V119.77H150.2zM157.8 117.58H201.1V119.77H157.8zM211.3 117.58H224.0V119.77H211.3zM226.6 117.58H241.9V119.77H226.6zM247.0 117.58H262.2V119.77H247.0zM264.8 117.58H277.5V119.77H264.8zM285.1 117.58H295.3V119.77H285.1zM300.4 117.58H320.8V119.77H300.4zM323.3 117.58H333.5V119.77H323.3zM341.2 117.58H343.7V119.77H341.2zM361.5 117.58H376.8V119.77H361.5zM384.4 117.58H397.2V119.77H384.4zM399.7 117.58H425.2V119.77H399.7zM430.3 117.58H432.8V119.77H430.3zM435.4 117.58H440.5V119.77H435.4zM443.0 117.58H448.1V119.77H443.0zM450.6 117.58H453.2V119.77H450.6zM463.4 117.58H465.9V119.77H463.4zM468.5 117.58H471.0V119.77H468.5zM481.2 117.58H496.5V119.77H481.2zM106.9 115.38H119.7V117.58H106.9zM127.3 115.38H132.4V117.58H127.3zM137.5 115.38H147.7V117.58H137.5zM157.8 115.38H173.1V117.58H157.8zM175.7 115.38H183.3V117.58H175.7zM193.5 115.38H201.1V117.58H193.5zM203.7 115.38H234.2V117.58H203.7zM236.8 115.38H241.9V117.58H236.8zM244.4 115.38H247.0V117.58H244.4zM249.5 115.38H252.1V117.58H249.5zM254.6 115.38H259.7V117.58H254.6zM262.2 115.38H264.8V117.58H262.2zM267.3 115.38H275.0V117.58H267.3zM277.5 115.38H280.1V117.58H277.5zM285.1 115.38H295.3V117.58H285.1zM308.1 115.38H338.6V117.58H308.1zM341.2 115.38H346.3V117.58H341.2zM348.8 115.38H359.0V117.58H348.8zM361.5 115.38H374.3V117.58H361.5zM379.4 115.38H404.8V117.58H379.4zM417.5 115.38H425.2V117.58H417.5zM427.7 115.38H450.6V117.58H427.7zM463.4 115.38H471.0V117.58H463.4zM476.1 115.38H481.2V117.58H476.1zM483.7 115.38H488.8V117.58H483.7zM499.0 115.38H501.6V117.58H499.0zM106.9 113.19H117.1V115.38H106.9zM119.7 113.19H122.2V115.38H119.7zM127.3 113.19H147.7V115.38H127.3zM152.8 113.19H160.4V115.38H152.8zM170.6 113.19H173.1V115.38H170.6zM175.7 113.19H190.9V115.38H175.7zM198.6 113.19H206.2V115.38H198.6zM208.8 113.19H211.3V115.38H208.8zM216.4 113.19H219.0V115.38H216.4zM221.5 113.19H226.6V115.38H221.5zM229.1 113.19H231.7V115.38H229.1zM244.4 113.19H247.0V115.38H244.4zM252.1 113.19H277.5V115.38H252.1zM280.1 113.19H282.6V115.38H280.1zM287.7 113.19H313.2V115.38H287.7zM323.3 113.19H331.0V115.38H323.3zM333.5 113.19H338.6V115.38H333.5zM343.7 113.19H346.3V115.38H343.7zM353.9 113.19H359.0V115.38H353.9zM361.5 113.19H366.6V115.38H361.5zM371.7 113.19H374.3V115.38H371.7zM376.8 113.19H381.9V115.38H376.8zM384.4 113.19H387.0V115.38H384.4zM389.5 113.19H392.1V115.38H389.5zM397.2 113.19H399.7V115.38H397.2zM402.3 113.19H404.8V115.38H402.3zM407.4 113.19H412.5V115.38H407.4zM430.3 113.19H432.8V115.38H430.3zM437.9 113.19H440.5V115.38H437.9zM443.0 113.19H460.8V115.38H443.0zM463.4 113.19H465.9V115.38H463.4zM476.1 113.19H481.2V115.38H476.1zM504.1 113.19H509.2V115.38H504.1zM106.9 111.00H112.0V113.19H106.9zM114.6 111.00H117.1V113.19H114.6zM122.2 111.00H127.3V113.19H122.2zM134.9 111.00H145.1V113.19H134.9zM152.8 111.00H157.8V113.19H152.8zM162.9 111.00H168.0V113.19H162.9zM173.1 111.00H175.7V113.19H173.1zM178.2 111.00H180.8V113.19H178.2zM185.9 111.00H190.9V113.19H185.9zM203.7 111.00H213.9V113.19H203.7zM221.5 111.00H224.0V113.19H221.5zM226.6 111.00H229.1V113.19H226.6zM231.7 111.00H234.2V113.19H231.7zM252.1 111.00H272.4V113.19H252.1zM285.1 111.00H290.2V113.19H285.1zM292.8 111.00H315.7V113.19H292.8zM323.3 111.00H328.4V113.19H323.3zM333.5 111.00H341.2V113.19H333.5zM348.8 111.00H351.3V113.19H348.8zM361.5 111.00H364.1V113.19H361.5zM369.2 111.00H379.4V113.19H369.2zM384.4 111.00H392.1V113.19H384.4zM397.2 111.00H399.7V113.19H397.2zM409.9 111.00H420.1V113.19H409.9zM430.3 111.00H437.9V113.19H430.3zM440.5 111.00H443.0V113.19H440.5zM448.1 111.00H463.4V113.19H448.1zM471.0 111.00H473.6V113.19H471.0zM488.8 111.00H496.5V113.19H488.8zM504.1 111.00H514.3V113.19H504.1zM106.9 108.81H109.5V111.00H106.9zM117.1 108.81H119.7V111.00H117.1zM122.2 108.81H127.3V111.00H122.2zM155.3 108.81H157.8V111.00H155.3zM162.9 108.81H170.6V111.00H162.9zM175.7 108.81H178.2V111.00H175.7zM188.4 108.81H190.9V111.00H188.4zM201.1 108.81H206.2V111.00H201.1zM208.8 108.81H219.0V111.00H208.8zM229.1 108.81H236.8V111.00H229.1zM239.3 108.81H241.9V111.00H239.3zM259.7 108.81H264.8V111.00H259.7zM287.7 108.81H303.0V111.00H287.7zM305.5 108.81H313.2V111.00H305.5zM315.7 108.81H320.8V111.00H315.7zM323.3 108.81H325.9V111.00H323.3zM331.0 108.81H343.7V111.00H331.0zM351.3 108.81H353.9V111.00H351.3zM361.5 108.81H364.1V111.00H361.5zM369.2 108.81H389.5V111.00H369.2zM407.4 108.81H412.5V111.00H407.4zM415.0 108.81H417.5V111.00H415.0zM420.1 108.81H425.2V111.00H420.1zM427.7 108.81H437.9V111.00H427.7zM440.5 108.81H450.6V111.00H440.5zM453.2 108.81H465.9V111.00H453.2zM471.0 108.81H486.3V111.00H471.0zM511.8 108.81H514.3V111.00H511.8zM106.9 106.61H112.0V108.81H106.9zM114.6 106.61H134.9V108.81H114.6zM162.9 106.61H168.0V108.81H162.9zM175.7 106.61H183.3V108.81H175.7zM185.9 106.61H190.9V108.81H185.9zM213.9 106.61H216.4V108.81H213.9zM239.3 106.61H247.0V108.81H239.3zM249.5 106.61H252.1V108.81H249.5zM257.1 106.61H262.2V108.81H257.1zM277.5 106.61H315.7V108.81H277.5zM323.3 106.61H325.9V108.81H323.3zM331.0 106.61H343.7V108.81H331.0zM346.3 106.61H369.2V108.81H346.3zM371.7 106.61H379.4V108.81H371.7zM384.4 106.61H389.5V108.81H384.4zM394.6 106.61H409.9V108.81H394.6zM422.6 106.61H427.7V108.81H422.6zM432.8 106.61H435.4V108.81H432.8zM445.6 106.61H450.6V108.81H445.6zM460.8 106.61H465.9V108.81H460.8zM478.7 106.61H483.7V108.81H478.7zM486.3 106.61H501.6V108.81H486.3zM504.1 106.61H509.2V108.81H504.1zM106.9 104.42H124.7V106.61H106.9zM129.8 104.42H134.9V106.61H129.8zM150.2 104.42H152.8V106.61H150.2zM160.4 104.42H165.5V106.61H160.4zM188.4 104.42H190.9V106.61H188.4zM198.6 104.42H201.1V106.61H198.6zM211.3 104.42H213.9V106.61H211.3zM231.7 104.42H234.2V106.61H231.7zM239.3 104.42H249.5V106.61H239.3zM262.2 104.42H275.0V106.61H262.2zM285.1 104.42H287.7V106.61H285.1zM290.2 104.42H295.3V106.61H290.2zM297.9 104.42H303.0V106.61H297.9zM305.5 104.42H310.6V106.61H305.5zM315.7 104.42H320.8V106.61H315.7zM328.4 104.42H331.0V106.61H328.4zM333.5 104.42H359.0V106.61H333.5zM376.8 104.42H381.9V106.61H376.8zM392.1 104.42H399.7V106.61H392.1zM404.8 104.42H407.4V106.61H404.8zM409.9 104.42H425.2V106.61H409.9zM432.8 104.42H443.0V106.61H432.8zM448.1 104.42H453.2V106.61H448.1zM458.3 104.42H463.4V106.61H458.3zM471.0 104.42H476.1V106.61H471.0zM496.5 104.42H501.6V106.61H496.5zM106.9 102.23H114.6V104.42H106.9zM122.2 102.23H129.8V104.42H122.2zM134.9 102.23H137.5V104.42H134.9zM145.1 102.23H150.2V104.42H145.1zM162.9 102.23H168.0V104.42H162.9zM178.2 102.23H180.8V104.42H178.2zM183.3 102.23H188.4V104.42H183.3zM190.9 102.23H196.0V104.42H190.9zM221.5 102.23H236.8V104.42H221.5zM239.3 102.23H252.1V104.42H239.3zM257.1 102.23H262.2V104.42H257.1zM264.8 102.23H282.6V104.42H264.8zM290.2 102.23H295.3V104.42H290.2zM300.4 102.23H308.1V104.42H300.4zM315.7 102.23H325.9V104.42H315.7zM328.4 102.23H348.8V104.42H328.4zM356.4 102.23H359.0V104.42H356.4zM364.1 102.23H366.6V104.42H364.1zM376.8 102.23H381.9V104.42H376.8zM384.4 102.23H387.0V104.42H384.4zM389.5 102.23H404.8V104.42H389.5zM415.0 102.23H425.2V104.42H415.0zM432.8 102.23H435.4V104.42H432.8zM440.5 102.23H450.6V104.42H440.5zM458.3 102.23H463.4V104.42H458.3zM465.9 102.23H468.5V104.42H465.9zM471.0 102.23H481.2V104.42H471.0zM483.7 102.23H493.9V104.42H483.7zM501.6 102.23H509.2V104.42H501.6zM511.8 102.23H514.3V104.42H511.8zM94.2 100.03H99.3V102.23H94.2zM106.9 100.03H114.6V102.23H106.9zM129.8 100.03H132.4V102.23H129.8zM145.1 100.03H150.2V102.23H145.1zM152.8 100.03H162.9V102.23H152.8zM170.6 100.03H173.1V102.23H170.6zM180.8 100.03H185.9V102.23H180.8zM201.1 100.03H203.7V102.23H201.1zM219.0 100.03H221.5V102.23H219.0zM224.0 100.03H226.6V102.23H224.0zM229.1 100.03H231.7V102.23H229.1zM234.2 100.03H239.3V102.23H234.2zM244.4 100.03H287.7V102.23H244.4zM290.2 100.03H348.8V102.23H290.2zM351.3 100.03H374.3V102.23H351.3zM376.8 100.03H381.9V102.23H376.8zM389.5 100.03H404.8V102.23H389.5zM409.9 100.03H453.2V102.23H409.9zM455.7 100.03H463.4V102.23H455.7zM465.9 100.03H496.5V102.23H465.9zM501.6 100.03H504.1V102.23H501.6zM506.7 100.03H514.3V102.23H506.7zM101.8 97.84H104.4V100.03H101.8zM106.9 97.84H112.0V100.03H106.9zM129.8 97.84H142.6V100.03H129.8zM147.7 97.84H162.9V100.03H147.7zM178.2 97.84H185.9V100.03H178.2zM190.9 97.84H193.5V100.03H190.9zM198.6 97.84H203.7V100.03H198.6zM211.3 97.84H219.0V100.03H211.3zM224.0 97.84H229.1V100.03H224.0zM236.8 97.84H241.9V100.03H236.8zM244.4 97.84H262.2V100.03H244.4zM264.8 97.84H356.4V100.03H264.8zM361.5 97.84H364.1V100.03H361.5zM366.6 97.84H407.4V100.03H366.6zM409.9 97.84H412.5V100.03H409.9zM417.5 97.84H440.5V100.03H417.5zM443.0 97.84H483.7V100.03H443.0zM486.3 97.84H501.6V100.03H486.3zM504.1 97.84H514.3V100.03H504.1zM91.6 95.65H94.2V97.84H91.6zM96.7 95.65H99.3V97.84H96.7zM104.4 95.65H109.5V97.84H104.4zM117.1 95.65H119.7V97.84H117.1zM124.7 95.65H127.3V97.84H124.7zM132.4 95.65H142.6V97.84H132.4zM145.1 95.65H155.3V97.84H145.1zM157.8 95.65H170.6V97.84H157.8zM178.2 95.65H183.3V97.84H178.2zM188.4 95.65H190.9V97.84H188.4zM196.0 95.65H203.7V97.84H196.0zM206.2 95.65H213.9V97.84H206.2zM216.4 95.65H219.0V97.84H216.4zM221.5 95.65H224.0V97.84H221.5zM234.2 95.65H236.8V97.84H234.2zM239.3 95.65H262.2V97.84H239.3zM264.8 95.65H336.1V97.84H264.8zM338.6 95.65H343.7V97.84H338.6zM346.3 95.65H402.3V97.84H346.3zM404.8 95.65H412.5V97.84H404.8zM415.0 95.65H501.6V97.84H415.0zM504.1 95.65H514.3V97.84H504.1zM91.6 93.46H94.2V95.65H91.6zM104.4 93.46H132.4V95.65H104.4zM150.2 93.46H170.6V95.65H150.2zM173.1 93.46H178.2V95.65H173.1zM180.8 93.46H185.9V95.65H180.8zM188.4 93.46H190.9V95.65H188.4zM193.5 93.46H206.2V95.65H193.5zM208.8 93.46H219.0V95.65H208.8zM226.6 93.46H231.7V95.65H226.6zM239.3 93.46H252.1V95.65H239.3zM254.6 93.46H341.2V95.65H254.6zM348.8 93.46H369.2V95.65H348.8zM371.7 93.46H468.5V95.65H371.7zM471.0 93.46H514.3V95.65H471.0zM106.9 91.27H122.2V93.46H106.9zM124.7 91.27H140.0V93.46H124.7zM145.1 91.27H147.7V93.46H145.1zM150.2 91.27H160.4V93.46H150.2zM168.0 91.27H190.9V93.46H168.0zM193.5 91.27H216.4V93.46H193.5zM219.0 91.27H221.5V93.46H219.0zM226.6 91.27H275.0V93.46H226.6zM277.5 91.27H303.0V93.46H277.5zM305.5 91.27H343.7V93.46H305.5zM348.8 91.27H387.0V93.46H348.8zM392.1 91.27H437.9V93.46H392.1zM443.0 91.27H445.6V93.46H443.0zM448.1 91.27H514.3V93.46H448.1zM91.6 89.07H94.2V91.27H91.6zM104.4 89.07H106.9V91.27H104.4zM112.0 89.07H140.0V91.27H112.0zM145.1 89.07H147.7V91.27H145.1zM150.2 89.07H162.9V91.27H150.2zM165.5 89.07H221.5V91.27H165.5zM229.1 89.07H254.6V91.27H229.1zM257.1 89.07H262.2V91.27H257.1zM264.8 89.07H269.9V91.27H264.8zM280.1 89.07H300.4V91.27H280.1zM305.5 89.07H338.6V91.27H305.5zM346.3 89.07H384.4V91.27H346.3zM394.6 89.07H506.7V91.27H394.6zM509.2 89.07H514.3V91.27H509.2zM106.9 86.88H119.7V89.07H106.9zM122.2 86.88H145.1V89.07H122.2zM150.2 86.88H162.9V89.07H150.2zM165.5 86.88H190.9V89.07H165.5zM193.5 86.88H198.6V89.07H193.5zM201.1 86.88H208.8V89.07H201.1zM211.3 86.88H224.0V89.07H211.3zM229.1 86.88H249.5V89.07H229.1zM252.1 86.88H269.9V89.07H252.1zM277.5 86.88H315.7V89.07H277.5zM323.3 86.88H331.0V89.07H323.3zM333.5 86.88H336.1V89.07H333.5zM341.2 86.88H346.3V89.07H341.2zM348.8 86.88H353.9V89.07H348.8zM356.4 86.88H361.5V89.07H356.4zM364.1 86.88H376.8V89.07H364.1zM381.9 86.88H389.5V89.07H381.9zM392.1 86.88H399.7V89.07H392.1zM402.3 86.88H407.4V89.07H402.3zM409.9 86.88H420.1V89.07H409.9zM422.6 86.88H437.9V89.07H422.6zM443.0 86.88H445.6V89.07H443.0zM448.1 86.88H465.9V89.07H448.1zM476.1 86.88H491.4V89.07H476.1zM493.9 86.88H501.6V89.07H493.9zM504.1 86.88H506.7V89.07H504.1zM509.2 86.88H511.8V89.07H509.2zM99.3 84.69H104.4V86.88H99.3zM106.9 84.69H112.0V86.88H106.9zM114.6 84.69H147.7V86.88H114.6zM150.2 84.69H190.9V86.88H150.2zM193.5 84.69H216.4V86.88H193.5zM219.0 84.69H287.7V86.88H219.0zM290.2 84.69H300.4V86.88H290.2zM303.0 84.69H310.6V86.88H303.0zM313.2 84.69H320.8V86.88H313.2zM323.3 84.69H331.0V86.88H323.3zM333.5 84.69H346.3V86.88H333.5zM348.8 84.69H353.9V86.88H348.8zM356.4 84.69H376.8V86.88H356.4zM381.9 84.69H387.0V86.88H381.9zM394.6 84.69H399.7V86.88H394.6zM402.3 84.69H425.2V86.88H402.3zM427.7 84.69H430.3V86.88H427.7zM435.4 84.69H440.5V86.88H435.4zM448.1 84.69H450.6V86.88H448.1zM458.3 84.69H463.4V86.88H458.3zM478.7 84.69H481.2V86.88H478.7zM486.3 84.69H491.4V86.88H486.3zM504.1 84.69H506.7V86.88H504.1zM509.2 84.69H511.8V86.88H509.2zM99.3 82.50H101.8V84.69H99.3zM106.9 82.50H112.0V84.69H106.9zM114.6 82.50H117.1V84.69H114.6zM122.2 82.50H127.3V84.69H122.2zM129.8 82.50H142.6V84.69H129.8zM145.1 82.50H155.3V84.69H145.1zM157.8 82.50H165.5V84.69H157.8zM168.0 82.50H178.2V84.69H168.0zM180.8 82.50H183.3V84.69H180.8zM185.9 82.50H190.9V84.69H185.9zM193.5 82.50H201.1V84.69H193.5zM206.2 82.50H211.3V84.69H206.2zM216.4 82.50H219.0V84.69H216.4zM221.5 82.50H226.6V84.69H221.5zM229.1 82.50H234.2V84.69H229.1zM239.3 82.50H247.0V84.69H239.3zM249.5 82.50H264.8V84.69H249.5zM280.1 82.50H285.1V84.69H280.1zM287.7 82.50H292.8V84.69H287.7zM295.3 82.50H303.0V84.69H295.3zM315.7 82.50H318.2V84.69H315.7zM323.3 82.50H341.2V84.69H323.3zM346.3 82.50H353.9V84.69H346.3zM356.4 82.50H379.4V84.69H356.4zM387.0 82.50H392.1V84.69H387.0zM397.2 82.50H402.3V84.69H397.2zM404.8 82.50H409.9V84.69H404.8zM417.5 82.50H420.1V84.69H417.5zM422.6 82.50H425.2V84.69H422.6zM137.5 80.30H140.0V82.50H137.5zM152.8 80.30H155.3V82.50H152.8zM162.9 80.30H165.5V82.50H162.9zM175.7 80.30H178.2V82.50H175.7zM198.6 80.30H201.1V82.50H198.6zM206.2 80.30H211.3V82.50H206.2zM216.4 80.30H219.0V82.50H216.4zM231.7 80.30H234.2V82.50H231.7zM244.4 80.30H247.0V82.50H244.4zM249.5 80.30H252.1V82.50H249.5zM262.2 80.30H264.8V82.50H262.2zM267.3 80.30H269.9V82.50H267.3zM282.6 80.30H287.7V82.50H282.6zM297.9 80.30H300.4V82.50H297.9zM323.3 80.30H325.9V82.50H323.3zM331.0 80.30H338.6V82.50H331.0zM346.3 80.30H353.9V82.50H346.3zM356.4 80.30H359.0V82.50H356.4zM361.5 80.30H389.5V82.50H361.5zM392.1 80.30H397.2V82.50H392.1zM402.3 80.30H407.4V82.50H402.3zM417.5 80.30H420.1V82.50H417.5zM422.6 80.30H425.2V82.50H422.6zM336.1 78.11H338.6V80.30H336.1zM369.2 78.11H371.7V80.30H369.2zM374.3 78.11H379.4V80.30H374.3z"/>
<path fill="#e8e034" d="M331.0 137.31H336.1V139.50H331.0zM61.1 135.12H63.6V137.31H61.1zM71.3 135.12H76.4V137.31H71.3zM331.0 135.12H333.5V137.31H331.0zM351.3 135.12H353.9V137.31H351.3zM58.5 132.92H61.1V135.12H58.5zM68.7 132.92H73.8V135.12H68.7zM86.6 132.92H89.1V135.12H86.6zM94.2 132.92H96.7V135.12H94.2zM331.0 132.92H333.5V135.12H331.0zM338.6 132.92H341.2V135.12H338.6zM343.7 132.92H348.8V135.12H343.7zM351.3 132.92H353.9V135.12H351.3zM56.0 130.73H58.5V132.92H56.0zM66.2 130.73H71.3V132.92H66.2zM331.0 130.73H333.5V132.92H331.0zM351.3 130.73H359.0V132.92H351.3zM63.6 128.54H68.7V130.73H63.6zM346.3 128.54H348.8V130.73H346.3zM58.5 73.73H61.1V75.92H58.5zM58.5 71.53H63.6V73.73H58.5zM463.4 71.53H465.9V73.73H463.4zM476.1 71.53H478.7V73.73H476.1zM481.2 71.53H483.7V73.73H481.2zM499.0 71.53H501.6V73.73H499.0zM61.1 69.34H68.7V71.53H61.1zM430.3 69.34H437.9V71.53H430.3zM443.0 69.34H445.6V71.53H443.0zM481.2 69.34H488.8V71.53H481.2zM499.0 69.34H504.1V71.53H499.0zM509.2 69.34H511.8V71.53H509.2zM58.5 67.15H66.2V69.34H58.5zM430.3 67.15H432.8V69.34H430.3zM435.4 67.15H445.6V69.34H435.4zM465.9 67.15H468.5V69.34H465.9zM478.7 67.15H488.8V69.34H478.7zM493.9 67.15H496.5V69.34H493.9zM499.0 67.15H501.6V69.34H499.0zM58.5 64.95H61.1V67.15H58.5zM239.3 64.95H241.9V67.15H239.3zM359.0 64.95H361.5V67.15H359.0zM409.9 64.95H412.5V67.15H409.9zM427.7 64.95H430.3V67.15H427.7zM437.9 64.95H450.6V67.15H437.9zM455.7 64.95H458.3V67.15H455.7zM465.9 64.95H483.7V67.15H465.9zM486.3 64.95H488.8V67.15H486.3zM493.9 64.95H496.5V67.15H493.9zM499.0 64.95H504.1V67.15H499.0zM506.7 64.95H509.2V67.15H506.7zM58.5 62.76H63.6V64.95H58.5zM216.4 62.76H219.0V64.95H216.4zM226.6 62.76H229.1V64.95H226.6zM239.3 62.76H241.9V64.95H239.3zM280.1 62.76H282.6V64.95H280.1zM295.3 62.76H297.9V64.95H295.3zM313.2 62.76H315.7V64.95H313.2zM328.4 62.76H336.1V64.95H328.4zM338.6 62.76H346.3V64.95H338.6zM366.6 62.76H371.7V64.95H366.6zM384.4 62.76H387.0V64.95H384.4zM392.1 62.76H397.2V64.95H392.1zM409.9 62.76H415.0V64.95H409.9zM417.5 62.76H420.1V64.95H417.5zM427.7 62.76H430.3V64.95H427.7zM437.9 62.76H440.5V64.95H437.9zM443.0 62.76H453.2V64.95H443.0zM460.8 62.76H473.6V64.95H460.8zM486.3 62.76H491.4V64.95H486.3zM501.6 62.76H506.7V64.95H501.6zM58.5 60.57H63.6V62.76H58.5zM155.3 60.57H157.8V62.76H155.3zM160.4 60.57H162.9V62.76H160.4zM175.7 60.57H183.3V62.76H175.7zM226.6 60.57H244.4V62.76H226.6zM285.1 60.57H287.7V62.76H285.1zM300.4 60.57H303.0V62.76H300.4zM308.1 60.57H310.6V62.76H308.1zM315.7 60.57H318.2V62.76H315.7zM328.4 60.57H331.0V62.76H328.4zM338.6 60.57H346.3V62.76H338.6zM361.5 60.57H364.1V62.76H361.5zM379.4 60.57H381.9V62.76H379.4zM425.2 60.57H427.7V62.76H425.2zM432.8 60.57H435.4V62.76H432.8zM443.0 60.57H463.4V62.76H443.0zM483.7 60.57H486.3V62.76H483.7zM501.6 60.57H504.1V62.76H501.6zM58.5 58.38H68.7V60.57H58.5zM162.9 58.38H168.0V60.57H162.9zM175.7 58.38H180.8V60.57H175.7zM206.2 58.38H211.3V60.57H206.2zM224.0 58.38H229.1V60.57H224.0zM234.2 58.38H241.9V60.57H234.2zM254.6 58.38H257.1V60.57H254.6zM269.9 58.38H272.4V60.57H269.9zM287.7 58.38H290.2V60.57H287.7zM297.9 58.38H315.7V60.57H297.9zM325.9 58.38H328.4V60.57H325.9zM336.1 58.38H346.3V60.57H336.1zM366.6 58.38H371.7V60.57H366.6zM387.0 58.38H397.2V60.57H387.0zM407.4 58.38H417.5V60.57H407.4zM448.1 58.38H455.7V60.57H448.1zM460.8 58.38H463.4V60.57H460.8zM496.5 58.38H506.7V60.57H496.5zM511.8 58.38H514.3V60.57H511.8zM58.5 56.19H61.1V58.38H58.5zM63.6 56.19H66.2V58.38H63.6zM155.3 56.19H157.8V58.38H155.3zM175.7 56.19H178.2V58.38H175.7zM180.8 56.19H185.9V58.38H180.8zM198.6 56.19H201.1V58.38H198.6zM208.8 56.19H211.3V58.38H208.8zM224.0 56.19H229.1V58.38H224.0zM234.2 56.19H239.3V58.38H234.2zM241.9 56.19H249.5V58.38H241.9zM264.8 56.19H269.9V58.38H264.8zM285.1 56.19H292.8V58.38H285.1zM297.9 56.19H303.0V58.38H297.9zM305.5 56.19H308.1V58.38H305.5zM310.6 56.19H315.7V58.38H310.6zM325.9 56.19H328.4V58.38H325.9zM336.1 56.19H341.2V58.38H336.1zM366.6 56.19H369.2V58.38H366.6zM387.0 56.19H389.5V58.38H387.0zM397.2 56.19H399.7V58.38H397.2zM402.3 56.19H404.8V58.38H402.3zM412.5 56.19H415.0V58.38H412.5zM445.6 56.19H450.6V58.38H445.6zM453.2 56.19H458.3V58.38H453.2zM481.2 56.19H486.3V58.38H481.2zM499.0 56.19H501.6V58.38H499.0zM506.7 56.19H509.2V58.38H506.7zM511.8 56.19H514.3V58.38H511.8zM162.9 53.99H165.5V56.19H162.9zM226.6 53.99H239.3V56.19H226.6zM264.8 53.99H267.3V56.19H264.8zM315.7 53.99H318.2V56.19H315.7zM341.2 53.99H346.3V56.19H341.2zM366.6 53.99H369.2V56.19H366.6zM374.3 53.99H376.8V56.19H374.3zM412.5 53.99H417.5V56.19H412.5zM455.7 53.99H463.4V56.19H455.7zM468.5 53.99H478.7V56.19H468.5zM481.2 53.99H486.3V56.19H481.2zM496.5 53.99H499.0V56.19H496.5zM506.7 53.99H509.2V56.19H506.7zM157.8 51.80H160.4V53.99H157.8zM206.2 51.80H211.3V53.99H206.2zM213.9 51.80H216.4V53.99H213.9zM229.1 51.80H231.7V53.99H229.1zM234.2 51.80H239.3V53.99H234.2zM308.1 51.80H310.6V53.99H308.1zM318.2 51.80H320.8V53.99H318.2zM323.3 51.80H325.9V53.99H323.3zM333.5 51.80H336.1V53.99H333.5zM343.7 51.80H346.3V53.99H343.7zM366.6 51.80H369.2V53.99H366.6zM374.3 51.80H376.8V53.99H374.3zM412.5 51.80H417.5V53.99H412.5zM463.4 51.80H465.9V53.99H463.4zM483.7 51.80H486.3V53.99H483.7zM493.9 51.80H496.5V53.99H493.9zM157.8 49.61H160.4V51.80H157.8zM234.2 49.61H239.3V51.80H234.2zM308.1 49.61H310.6V51.80H308.1zM320.8 49.61H323.3V51.80H320.8zM333.5 49.61H336.1V51.80H333.5zM338.6 49.61H341.2V51.80H338.6zM348.8 49.61H351.3V51.80H348.8zM359.0 49.61H361.5V51.80H359.0zM374.3 49.61H376.8V51.80H374.3zM443.0 49.61H445.6V51.80H443.0zM463.4 49.61H465.9V51.80H463.4zM483.7 49.61H486.3V51.80H483.7zM320.8 47.42H323.3V49.61H320.8zM325.9 47.42H328.4V49.61H325.9zM448.1 47.42H450.6V49.61H448.1z"/>
<path fill="#2040f0" d="M208.8 128.54H211.3V130.73H208.8zM275.0 128.54H277.5V130.73H275.0zM170.6 126.34H173.1V128.54H170.6zM249.5 126.34H254.6V128.54H249.5zM275.0 126.34H277.5V128.54H275.0zM127.3 124.15H132.4V126.34H127.3zM150.2 124.15H152.8V126.34H150.2zM208.8 124.15H211.3V126.34H208.8zM231.7 124.15H239.3V126.34H231.7zM249.5 124.15H252.1V126.34H249.5zM129.8 121.96H132.4V124.15H129.8zM188.4 121.96H193.5V124.15H188.4zM203.7 121.96H206.2V124.15H203.7zM208.8 121.96H211.3V124.15H208.8zM234.2 121.96H239.3V124.15H234.2zM249.5 121.96H252.1V124.15H249.5zM127.3 119.77H129.8V121.96H127.3zM137.5 119.77H142.6V121.96H137.5zM275.0 119.77H280.1V121.96H275.0zM114.6 117.58H117.1V119.77H114.6zM122.2 117.58H124.7V119.77H122.2zM137.5 117.58H142.6V119.77H137.5zM147.7 117.58H150.2V119.77H147.7zM147.7 115.38H152.8V117.58H147.7zM234.2 115.38H236.8V117.58H234.2zM147.7 113.19H152.8V115.38H147.7zM160.4 113.19H162.9V115.38H160.4zM193.5 113.19H196.0V115.38H193.5zM145.1 111.00H147.7V113.19H145.1z"/>
<path fill="#f0b030" d="M56.0 266.61H58.5V268.80H56.0zM56.0 264.42H58.5V266.61H56.0zM56.0 262.22H58.5V264.42H56.0zM216.4 194.25H221.5V196.45H216.4zM277.5 194.25H280.1V196.45H277.5zM282.6 194.25H285.1V196.45H282.6zM320.8 194.25H323.3V196.45H320.8zM178.2 192.06H180.8V194.25H178.2zM188.4 192.06H193.5V194.25H188.4zM257.1 192.06H259.7V194.25H257.1zM264.8 192.06H282.6V194.25H264.8zM287.7 192.06H290.2V194.25H287.7zM295.3 192.06H297.9V194.25H295.3zM310.6 192.06H313.2V194.25H310.6zM61.1 189.87H63.6V192.06H61.1zM84.0 189.87H86.6V192.06H84.0zM117.1 189.87H122.2V192.06H117.1zM175.7 189.87H183.3V192.06H175.7zM193.5 189.87H201.1V192.06H193.5zM208.8 189.87H211.3V192.06H208.8zM236.8 189.87H247.0V192.06H236.8zM254.6 189.87H257.1V192.06H254.6zM264.8 189.87H285.1V192.06H264.8zM287.7 189.87H292.8V192.06H287.7zM295.3 189.87H297.9V192.06H295.3zM310.6 189.87H315.7V192.06H310.6zM320.8 189.87H323.3V192.06H320.8zM56.0 187.68H61.1V189.87H56.0zM99.3 187.68H101.8V189.87H99.3zM104.4 187.68H106.9V189.87H104.4zM129.8 187.68H132.4V189.87H129.8zM142.6 187.68H145.1V189.87H142.6zM147.7 187.68H150.2V189.87H147.7zM162.9 187.68H165.5V189.87H162.9zM168.0 187.68H170.6V189.87H168.0zM180.8 187.68H183.3V189.87H180.8zM185.9 187.68H190.9V189.87H185.9zM198.6 187.68H206.2V189.87H198.6zM208.8 187.68H211.3V189.87H208.8zM224.0 187.68H234.2V189.87H224.0zM236.8 187.68H249.5V189.87H236.8zM262.2 187.68H269.9V189.87H262.2zM277.5 187.68H280.1V189.87H277.5zM282.6 187.68H292.8V189.87H282.6zM313.2 187.68H318.2V189.87H313.2zM325.9 187.68H331.0V189.87H325.9zM364.1 187.68H369.2V189.87H364.1zM422.6 187.68H425.2V189.87H422.6zM58.5 185.49H61.1V187.68H58.5zM68.7 185.49H73.8V187.68H68.7zM81.5 185.49H89.1V187.68H81.5zM91.6 185.49H94.2V187.68H91.6zM106.9 185.49H109.5V187.68H106.9zM114.6 185.49H117.1V187.68H114.6zM124.7 185.49H127.3V187.68H124.7zM129.8 185.49H137.5V187.68H129.8zM147.7 185.49H157.8V187.68H147.7zM178.2 185.49H185.9V187.68H178.2zM188.4 185.49H193.5V187.68H188.4zM196.0 185.49H198.6V187.68H196.0zM201.1 185.49H203.7V187.68H201.1zM208.8 185.49H211.3V187.68H208.8zM219.0 185.49H221.5V187.68H219.0zM226.6 185.49H229.1V187.68H226.6zM231.7 185.49H254.6V187.68H231.7zM267.3 185.49H269.9V187.68H267.3zM272.4 185.49H277.5V187.68H272.4zM280.1 185.49H282.6V187.68H280.1zM290.2 185.49H292.8V187.68H290.2zM297.9 185.49H303.0V187.68H297.9zM308.1 185.49H310.6V187.68H308.1zM318.2 185.49H320.8V187.68H318.2zM328.4 185.49H338.6V187.68H328.4zM348.8 185.49H353.9V187.68H348.8zM369.2 185.49H376.8V187.68H369.2zM392.1 185.49H394.6V187.68H392.1zM402.3 185.49H404.8V187.68H402.3zM415.0 185.49H417.5V187.68H415.0zM58.5 183.29H61.1V185.49H58.5zM66.2 183.29H68.7V185.49H66.2zM84.0 183.29H86.6V185.49H84.0zM89.1 183.29H94.2V185.49H89.1zM122.2 183.29H134.9V185.49H122.2zM147.7 183.29H152.8V185.49H147.7zM155.3 183.29H160.4V185.49H155.3zM168.0 183.29H173.1V185.49H168.0zM175.7 183.29H180.8V185.49H175.7zM190.9 183.29H196.0V185.49H190.9zM241.9 183.29H247.0V185.49H241.9zM249.5 183.29H252.1V185.49H249.5zM269.9 183.29H272.4V185.49H269.9zM305.5 183.29H308.1V185.49H305.5zM328.4 183.29H333.5V185.49H328.4zM336.1 183.29H338.6V185.49H336.1zM346.3 183.29H348.8V185.49H346.3zM353.9 183.29H359.0V185.49H353.9zM369.2 183.29H376.8V185.49H369.2zM407.4 183.29H409.9V185.49H407.4zM415.0 183.29H417.5V185.49H415.0zM509.2 183.29H511.8V185.49H509.2zM78.9 181.10H81.5V183.29H78.9zM84.0 181.10H86.6V183.29H84.0zM91.6 181.10H94.2V183.29H91.6zM96.7 181.10H99.3V183.29H96.7zM124.7 181.10H127.3V183.29H124.7zM137.5 181.10H140.0V183.29H137.5zM175.7 181.10H183.3V183.29H175.7zM190.9 181.10H196.0V183.29H190.9zM219.0 181.10H221.5V183.29H219.0zM318.2 181.10H320.8V183.29H318.2zM325.9 181.10H328.4V183.29H325.9zM356.4 181.10H359.0V183.29H356.4zM402.3 181.10H404.8V183.29H402.3zM420.1 181.10H422.6V183.29H420.1zM460.8 181.10H463.4V183.29H460.8zM178.2 178.91H183.3V181.10H178.2zM193.5 178.91H196.0V181.10H193.5zM318.2 178.91H320.8V181.10H318.2zM333.5 178.91H336.1V181.10H333.5z"/>
<path fill="#e8e034" d="M63.6 266.61H66.2V268.80H63.6zM63.6 264.42H66.2V266.61H63.6zM63.6 262.22H66.2V264.42H63.6zM84.0 178.91H86.6V181.10H84.0z"/>
<path fill="#20c8d0" d="M259.7 266.61H264.8V268.80H259.7zM290.2 266.61H295.3V268.80H290.2zM420.1 266.61H422.6V268.80H420.1zM425.2 266.61H435.4V268.80H425.2zM440.5 266.61H443.0V268.80H440.5zM450.6 266.61H455.7V268.80H450.6zM506.7 266.61H514.3V268.80H506.7zM185.9 264.42H188.4V266.61H185.9zM231.7 264.42H234.2V266.61H231.7zM252.1 264.42H254.6V266.61H252.1zM257.1 264.42H259.7V266.61H257.1zM262.2 264.42H264.8V266.61H262.2zM267.3 264.42H272.4V266.61H267.3zM331.0 264.42H333.5V266.61H331.0zM366.6 264.42H371.7V266.61H366.6zM381.9 264.42H387.0V266.61H381.9zM394.6 264.42H397.2V266.61H394.6zM402.3 264.42H409.9V266.61H402.3zM425.2 264.42H437.9V266.61H425.2zM440.5 264.42H445.6V266.61H440.5zM448.1 264.42H458.3V266.61H448.1zM460.8 264.42H463.4V266.61H460.8zM506.7 264.42H514.3V266.61H506.7zM185.9 262.22H190.9V264.42H185.9zM193.5 262.22H198.6V264.42H193.5zM231.7 262.22H234.2V264.42H231.7zM254.6 262.22H259.7V264.42H254.6zM264.8 262.22H267.3V264.42H264.8zM308.1 262.22H313.2V264.42H308.1zM348.8 262.22H356.4V264.42H348.8zM381.9 262.22H384.4V264.42H381.9zM397.2 262.22H399.7V264.42H397.2zM402.3 262.22H404.8V264.42H402.3zM425.2 262.22H432.8V264.42H425.2zM453.2 262.22H463.4V264.42H453.2zM465.9 262.22H468.5V264.42H465.9zM504.1 262.22H514.3V264.42H504.1zM157.8 260.03H168.0V262.22H157.8zM185.9 260.03H188.4V262.22H185.9zM193.5 260.03H198.6V262.22H193.5zM221.5 260.03H226.6V262.22H221.5zM257.1 260.03H272.4V262.22H257.1zM277.5 260.03H282.6V262.22H277.5zM323.3 260.03H328.4V262.22H323.3zM361.5 260.03H366.6V262.22H361.5zM425.2 260.03H440.5V262.22H425.2zM445.6 260.03H471.0V262.22H445.6zM481.2 260.03H514.3V262.22H481.2zM147.7 257.84H150.2V260.03H147.7zM157.8 257.84H165.5V260.03H157.8zM175.7 257.84H178.2V260.03H175.7zM193.5 257.84H198.6V260.03H193.5zM203.7 257.84H206.2V260.03H203.7zM236.8 257.84H249.5V260.03H236.8zM264.8 257.84H272.4V260.03H264.8zM282.6 257.84H285.1V260.03H282.6zM290.2 257.84H295.3V260.03H290.2zM323.3 257.84H331.0V260.03H323.3zM351.3 257.84H364.1V260.03H351.3zM384.4 257.84H392.1V260.03H384.4zM394.6 257.84H399.7V260.03H394.6zM427.7 257.84H430.3V260.03H427.7zM432.8 257.84H443.0V260.03H432.8zM448.1 257.84H450.6V260.03H448.1zM455.7 257.84H511.8V260.03H455.7zM129.8 255.65H132.4V257.84H129.8zM134.9 255.65H137.5V257.84H134.9zM175.7 255.65H178.2V257.84H175.7zM244.4 255.65H247.0V257.84H244.4zM257.1 255.65H259.7V257.84H257.1zM267.3 255.65H275.0V257.84H267.3zM292.8 255.65H297.9V257.84H292.8zM356.4 255.65H364.1V257.84H356.4zM369.2 255.65H374.3V257.84H369.2zM379.4 255.65H381.9V257.84H379.4zM384.4 255.65H389.5V257.84H384.4zM432.8 255.65H435.4V257.84H432.8zM437.9 255.65H445.6V257.84H437.9zM455.7 255.65H458.3V257.84H455.7zM460.8 255.65H465.9V257.84H460.8zM468.5 255.65H471.0V257.84H468.5zM473.6 255.65H476.1V257.84H473.6zM134.9 253.45H137.5V255.65H134.9zM168.0 253.45H170.6V255.65H168.0zM257.1 253.45H259.7V255.65H257.1zM359.0 253.45H364.1V255.65H359.0zM379.4 253.45H389.5V255.65H379.4zM432.8 253.45H435.4V255.65H432.8zM437.9 253.45H448.1V255.65H437.9zM127.3 251.26H129.8V253.45H127.3zM132.4 251.26H137.5V253.45H132.4zM140.0 251.26H142.6V253.45H140.0zM165.5 251.26H178.2V253.45H165.5zM432.8 251.26H443.0V253.45H432.8zM455.7 251.26H460.8V253.45H455.7zM468.5 251.26H471.0V253.45H468.5zM122.2 249.07H124.7V251.26H122.2zM147.7 249.07H150.2V251.26H147.7zM173.1 249.07H175.7V251.26H173.1zM178.2 249.07H180.8V251.26H178.2zM132.4 246.88H134.9V249.07H132.4zM178.2 246.88H180.8V249.07H178.2zM127.3 244.68H129.8V246.88H127.3zM132.4 244.68H134.9V246.88H132.4zM178.2 242.49H180.8V244.68H178.2zM101.8 240.30H104.4V242.49H101.8zM170.6 240.30H173.1V242.49H170.6zM170.6 238.11H173.1V240.30H170.6zM175.7 238.11H178.2V240.30H175.7z"/>
<path fill="#2040f0" d="M285.1 266.61H287.7V268.80H285.1zM303.0 266.61H305.5V268.80H303.0zM338.6 266.61H341.2V268.80H338.6zM346.3 266.61H348.8V268.80H346.3zM359.0 266.61H361.5V268.80H359.0zM392.1 266.61H394.6V268.80H392.1zM399.7 266.61H402.3V268.80H399.7zM404.8 266.61H407.4V268.80H404.8zM412.5 266.61H420.1V268.80H412.5zM422.6 266.61H425.2V268.80H422.6zM435.4 266.61H440.5V268.80H435.4zM445.6 266.61H448.1V268.80H445.6zM458.3 266.61H468.5V268.80H458.3zM259.7 264.42H262.2V266.61H259.7zM285.1 264.42H287.7V266.61H285.1zM297.9 264.42H308.1V266.61H297.9zM338.6 264.42H341.2V266.61H338.6zM346.3 264.42H351.3V266.61H346.3zM353.9 264.42H356.4V266.61H353.9zM359.0 264.42H364.1V266.61H359.0zM376.8 264.42H381.9V266.61H376.8zM392.1 264.42H394.6V266.61H392.1zM399.7 264.42H402.3V266.61H399.7zM409.9 264.42H415.0V266.61H409.9zM417.5 264.42H425.2V266.61H417.5zM437.9 264.42H440.5V266.61H437.9zM445.6 264.42H448.1V266.61H445.6zM458.3 264.42H460.8V266.61H458.3zM463.4 264.42H468.5V266.61H463.4zM165.5 262.22H168.0V264.42H165.5zM170.6 262.22H178.2V264.42H170.6zM236.8 262.22H239.3V264.42H236.8zM241.9 262.22H244.4V264.42H241.9zM252.1 262.22H254.6V264.42H252.1zM259.7 262.22H264.8V264.42H259.7zM285.1 262.22H308.1V264.42H285.1zM331.0 262.22H336.1V264.42H331.0zM338.6 262.22H348.8V264.42H338.6zM359.0 262.22H371.7V264.42H359.0zM376.8 262.22H381.9V264.42H376.8zM384.4 262.22H392.1V264.42H384.4zM417.5 262.22H422.6V264.42H417.5zM432.8 262.22H453.2V264.42H432.8zM463.4 262.22H465.9V264.42H463.4zM488.8 262.22H491.4V264.42H488.8zM183.3 260.03H185.9V262.22H183.3zM216.4 260.03H221.5V262.22H216.4zM229.1 260.03H241.9V262.22H229.1zM247.0 260.03H257.1V262.22H247.0zM272.4 260.03H275.0V262.22H272.4zM282.6 260.03H287.7V262.22H282.6zM290.2 260.03H295.3V262.22H290.2zM303.0 260.03H310.6V262.22H303.0zM315.7 260.03H318.2V262.22H315.7zM331.0 260.03H336.1V262.22H331.0zM338.6 260.03H341.2V262.22H338.6zM343.7 260.03H348.8V262.22H343.7zM351.3 260.03H361.5V262.22H351.3zM366.6 260.03H369.2V262.22H366.6zM374.3 260.03H376.8V262.22H374.3zM381.9 260.03H387.0V262.22H381.9zM399.7 260.03H404.8V262.22H399.7zM417.5 260.03H420.1V262.22H417.5zM422.6 260.03H425.2V262.22H422.6zM440.5 260.03H445.6V262.22H440.5zM473.6 260.03H478.7V262.22H473.6zM134.9 257.84H140.0V260.03H134.9zM142.6 257.84H145.1V260.03H142.6zM150.2 257.84H152.8V260.03H150.2zM180.8 257.84H185.9V260.03H180.8zM190.9 257.84H193.5V260.03H190.9zM216.4 257.84H224.0V260.03H216.4zM231.7 257.84H236.8V260.03H231.7zM257.1 257.84H264.8V260.03H257.1zM300.4 257.84H318.2V260.03H300.4zM331.0 257.84H336.1V260.03H331.0zM341.2 257.84H346.3V260.03H341.2zM348.8 257.84H351.3V260.03H348.8zM364.1 257.84H379.4V260.03H364.1zM402.3 257.84H404.8V260.03H402.3zM415.0 257.84H417.5V260.03H415.0zM420.1 257.84H425.2V260.03H420.1zM430.3 257.84H432.8V260.03H430.3zM443.0 257.84H448.1V260.03H443.0zM450.6 257.84H455.7V260.03H450.6zM137.5 255.65H142.6V257.84H137.5zM150.2 255.65H152.8V257.84H150.2zM157.8 255.65H160.4V257.84H157.8zM162.9 255.65H168.0V257.84H162.9zM180.8 255.65H183.3V257.84H180.8zM203.7 255.65H211.3V257.84H203.7zM213.9 255.65H229.1V257.84H213.9zM231.7 255.65H234.2V257.84H231.7zM236.8 255.65H239.3V257.84H236.8zM254.6 255.65H257.1V257.84H254.6zM262.2 255.65H267.3V257.84H262.2zM275.0 255.65H277.5V257.84H275.0zM300.4 255.65H315.7V257.84H300.4zM320.8 255.65H325.9V257.84H320.8zM328.4 255.65H331.0V257.84H328.4zM333.5 255.65H343.7V257.84H333.5zM348.8 255.65H353.9V257.84H348.8zM366.6 255.65H369.2V257.84H366.6zM374.3 255.65H376.8V257.84H374.3zM381.9 255.65H384.4V257.84H381.9zM389.5 255.65H404.8V257.84H389.5zM415.0 255.65H417.5V257.84H415.0zM422.6 255.65H425.2V257.84H422.6zM430.3 255.65H432.8V257.84H430.3zM435.4 255.65H437.9V257.84H435.4zM448.1 255.65H455.7V257.84H448.1zM458.3 255.65H460.8V257.84H458.3zM476.1 255.65H478.7V257.84H476.1zM481.2 255.65H493.9V257.84H481.2zM496.5 255.65H499.0V257.84H496.5zM501.6 255.65H504.1V257.84H501.6zM124.7 253.45H134.9V255.65H124.7zM142.6 253.45H147.7V255.65H142.6zM150.2 253.45H152.8V255.65H150.2zM155.3 253.45H160.4V255.65H155.3zM180.8 253.45H183.3V255.65H180.8zM188.4 253.45H193.5V255.65H188.4zM196.0 253.45H198.6V255.65H196.0zM206.2 253.45H229.1V255.65H206.2zM234.2 253.45H239.3V255.65H234.2zM249.5 253.45H254.6V255.65H249.5zM259.7 253.45H264.8V255.65H259.7zM275.0 253.45H285.1V255.65H275.0zM287.7 253.45H297.9V255.65H287.7zM305.5 253.45H310.6V255.65H305.5zM313.2 253.45H318.2V255.65H313.2zM325.9 253.45H331.0V255.65H325.9zM333.5 253.45H338.6V255.65H333.5zM348.8 253.45H353.9V255.65H348.8zM366.6 253.45H379.4V255.65H366.6zM392.1 253.45H394.6V255.65H392.1zM397.2 253.45H399.7V255.65H397.2zM404.8 253.45H407.4V255.65H404.8zM409.9 253.45H412.5V255.65H409.9zM415.0 253.45H420.1V255.65H415.0zM422.6 253.45H425.2V255.65H422.6zM435.4 253.45H437.9V255.65H435.4zM448.1 253.45H463.4V255.65H448.1zM468.5 253.45H471.0V255.65H468.5zM473.6 253.45H476.1V255.65H473.6zM483.7 253.45H491.4V255.65H483.7zM501.6 253.45H506.7V255.65H501.6zM509.2 253.45H511.8V255.65H509.2zM124.7 251.26H127.3V253.45H124.7zM129.8 251.26H132.4V253.45H129.8zM137.5 251.26H140.0V253.45H137.5zM142.6 251.26H147.7V253.45H142.6zM150.2 251.26H152.8V253.45H150.2zM155.3 251.26H165.5V253.45H155.3zM178.2 251.26H229.1V253.45H178.2zM234.2 251.26H239.3V253.45H234.2zM247.0 251.26H259.7V253.45H247.0zM262.2 251.26H264.8V253.45H262.2zM275.0 251.26H285.1V253.45H275.0zM290.2 251.26H303.0V253.45H290.2zM313.2 251.26H320.8V253.45H313.2zM323.3 251.26H341.2V253.45H323.3zM343.7 251.26H346.3V253.45H343.7zM348.8 251.26H361.5V253.45H348.8zM366.6 251.26H376.8V253.45H366.6zM381.9 251.26H389.5V253.45H381.9zM394.6 251.26H399.7V253.45H394.6zM409.9 251.26H427.7V253.45H409.9zM443.0 251.26H455.7V253.45H443.0zM460.8 251.26H463.4V253.45H460.8zM471.0 251.26H473.6V253.45H471.0zM476.1 251.26H478.7V253.45H476.1zM481.2 251.26H483.7V253.45H481.2zM488.8 251.26H491.4V253.45H488.8zM496.5 251.26H499.0V253.45H496.5zM504.1 251.26H506.7V253.45H504.1zM114.6 249.07H122.2V251.26H114.6zM124.7 249.07H147.7V251.26H124.7zM160.4 249.07H173.1V251.26H160.4zM175.7 249.07H178.2V251.26H175.7zM180.8 249.07H196.0V251.26H180.8zM198.6 249.07H224.0V251.26H198.6zM226.6 249.07H231.7V251.26H226.6zM236.8 249.07H239.3V251.26H236.8zM247.0 249.07H262.2V251.26H247.0zM264.8 249.07H267.3V251.26H264.8zM269.9 249.07H310.6V251.26H269.9zM313.2 249.07H318.2V251.26H313.2zM323.3 249.07H364.1V251.26H323.3zM369.2 249.07H376.8V251.26H369.2zM379.4 249.07H381.9V251.26H379.4zM387.0 249.07H404.8V251.26H387.0zM407.4 249.07H409.9V251.26H407.4zM412.5 249.07H440.5V251.26H412.5zM445.6 249.07H486.3V251.26H445.6zM488.8 249.07H501.6V251.26H488.8zM511.8 249.07H514.3V251.26H511.8zM112.0 246.88H119.7V249.07H112.0zM124.7 246.88H132.4V249.07H124.7zM134.9 246.88H155.3V249.07H134.9zM162.9 246.88H173.1V249.07H162.9zM175.7 246.88H178.2V249.07H175.7zM180.8 246.88H196.0V249.07H180.8zM198.6 246.88H206.2V249.07H198.6zM211.3 246.88H231.7V249.07H211.3zM239.3 246.88H252.1V249.07H239.3zM257.1 246.88H262.2V249.07H257.1zM267.3 246.88H269.9V249.07H267.3zM272.4 246.88H277.5V249.07H272.4zM285.1 246.88H290.2V249.07H285.1zM292.8 246.88H303.0V249.07H292.8zM305.5 246.88H308.1V249.07H305.5zM313.2 246.88H315.7V249.07H313.2zM318.2 246.88H361.5V249.07H318.2zM364.1 246.88H371.7V249.07H364.1zM374.3 246.88H376.8V249.07H374.3zM379.4 246.88H381.9V249.07H379.4zM384.4 246.88H404.8V249.07H384.4zM407.4 246.88H409.9V249.07H407.4zM412.5 246.88H415.0V249.07H412.5zM417.5 246.88H465.9V249.07H417.5zM468.5 246.88H506.7V249.07H468.5zM509.2 246.88H514.3V249.07H509.2zM112.0 244.68H119.7V246.88H112.0zM124.7 244.68H127.3V246.88H124.7zM129.8 244.68H132.4V246.88H129.8zM137.5 244.68H140.0V246.88H137.5zM142.6 244.68H157.8V246.88H142.6zM160.4 244.68H175.7V246.88H160.4zM180.8 244.68H196.0V246.88H180.8zM211.3 244.68H229.1V246.88H211.3zM231.7 244.68H236.8V246.88H231.7zM239.3 244.68H254.6V246.88H239.3zM259.7 244.68H264.8V246.88H259.7zM267.3 244.68H277.5V246.88H267.3zM280.1 244.68H282.6V246.88H280.1zM285.1 244.68H297.9V246.88H285.1zM300.4 244.68H305.5V246.88H300.4zM315.7 244.68H328.4V246.88H315.7zM331.0 244.68H374.3V246.88H331.0zM379.4 244.68H407.4V246.88H379.4zM409.9 244.68H455.7V246.88H409.9zM458.3 244.68H465.9V246.88H458.3zM471.0 244.68H504.1V246.88H471.0zM506.7 244.68H514.3V246.88H506.7zM112.0 242.49H117.1V244.68H112.0zM122.2 242.49H124.7V244.68H122.2zM127.3 242.49H132.4V244.68H127.3zM134.9 242.49H145.1V244.68H134.9zM147.7 242.49H168.0V244.68H147.7zM170.6 242.49H178.2V244.68H170.6zM180.8 242.49H203.7V244.68H180.8zM206.2 242.49H216.4V244.68H206.2zM219.0 242.49H239.3V244.68H219.0zM241.9 242.49H259.7V244.68H241.9zM262.2 242.49H264.8V244.68H262.2zM267.3 242.49H287.7V244.68H267.3zM295.3 242.49H297.9V244.68H295.3zM300.4 242.49H313.2V244.68H300.4zM320.8 242.49H336.1V244.68H320.8zM346.3 242.49H374.3V244.68H346.3zM379.4 242.49H381.9V244.68H379.4zM384.4 242.49H397.2V244.68H384.4zM399.7 242.49H409.9V244.68H399.7zM412.5 242.49H468.5V244.68H412.5zM471.0 242.49H473.6V244.68H471.0zM476.1 242.49H483.7V244.68H476.1zM488.8 242.49H504.1V244.68H488.8zM511.8 242.49H514.3V244.68H511.8zM112.0 240.30H114.6V242.49H112.0zM122.2 240.30H127.3V242.49H122.2zM145.1 240.30H147.7V242.49H145.1zM150.2 240.30H152.8V242.49H150.2zM155.3 240.30H170.6V242.49H155.3zM175.7 240.30H183.3V242.49H175.7zM185.9 240.30H193.5V242.49H185.9zM198.6 240.30H201.1V242.49H198.6zM208.8 240.30H211.3V242.49H208.8zM213.9 240.30H224.0V242.49H213.9zM231.7 240.30H247.0V242.49H231.7zM252.1 240.30H262.2V242.49H252.1zM264.8 240.30H290.2V242.49H264.8zM292.8 240.30H295.3V242.49H292.8zM300.4 240.30H308.1V242.49H300.4zM310.6 240.30H313.2V242.49H310.6zM320.8 240.30H325.9V242.49H320.8zM328.4 240.30H333.5V242.49H328.4zM346.3 240.30H353.9V242.49H346.3zM356.4 240.30H359.0V242.49H356.4zM366.6 240.30H381.9V242.49H366.6zM384.4 240.30H399.7V242.49H384.4zM402.3 240.30H412.5V242.49H402.3zM415.0 240.30H417.5V242.49H415.0zM427.7 240.30H432.8V242.49H427.7zM437.9 240.30H450.6V242.49H437.9zM453.2 240.30H458.3V242.49H453.2zM465.9 240.30H468.5V242.49H465.9zM476.1 240.30H478.7V242.49H476.1zM481.2 240.30H483.7V242.49H481.2zM488.8 240.30H496.5V242.49H488.8zM501.6 240.30H509.2V242.49H501.6zM511.8 240.30H514.3V242.49H511.8zM96.7 238.11H99.3V240.30H96.7zM122.2 238.11H124.7V240.30H122.2zM127.3 238.11H132.4V240.30H127.3zM162.9 238.11H165.5V240.30H162.9zM173.1 238.11H175.7V240.30H173.1zM178.2 238.11H180.8V240.30H178.2zM188.4 238.11H190.9V240.30H188.4zM198.6 238.11H201.1V240.30H198.6zM236.8 238.11H239.3V240.30H236.8zM241.9 238.11H244.4V240.30H241.9zM254.6 238.11H257.1V240.30H254.6zM259.7 238.11H264.8V240.30H259.7zM267.3 238.11H277.5V240.30H267.3zM280.1 238.11H285.1V240.30H280.1zM292.8 238.11H295.3V240.30H292.8zM305.5 238.11H308.1V240.30H305.5zM376.8 238.11H379.4V240.30H376.8zM384.4 238.11H387.0V240.30H384.4zM427.7 238.11H432.8V240.30H427.7zM455.7 238.11H458.3V240.30H455.7zM481.2 238.11H483.7V240.30H481.2zM96.7 235.91H99.3V238.11H96.7zM162.9 235.91H165.5V238.11H162.9zM254.6 235.91H257.1V238.11H254.6zM282.6 235.91H285.1V238.11H282.6zM94.2 231.53H96.7V233.72H94.2zM56.0 227.14H58.5V229.34H56.0zM56.0 222.76H58.5V224.95H56.0zM389.5 189.87H392.1V192.06H389.5zM420.1 189.87H425.2V192.06H420.1zM331.0 187.68H333.5V189.87H331.0zM361.5 187.68H364.1V189.87H361.5zM394.6 187.68H397.2V189.87H394.6zM409.9 187.68H412.5V189.87H409.9zM415.0 187.68H422.6V189.87H415.0zM346.3 185.49H348.8V187.68H346.3zM359.0 185.49H369.2V187.68H359.0zM376.8 185.49H381.9V187.68H376.8zM384.4 185.49H389.5V187.68H384.4zM394.6 185.49H402.3V187.68H394.6zM409.9 185.49H415.0V187.68H409.9zM417.5 185.49H425.2V187.68H417.5zM471.0 185.49H473.6V187.68H471.0zM333.5 183.29H336.1V185.49H333.5zM338.6 183.29H341.2V185.49H338.6zM348.8 183.29H353.9V185.49H348.8zM359.0 183.29H361.5V185.49H359.0zM364.1 183.29H366.6V185.49H364.1zM389.5 183.29H407.4V185.49H389.5zM409.9 183.29H412.5V185.49H409.9zM420.1 183.29H422.6V185.49H420.1zM471.0 183.29H473.6V185.49H471.0zM491.4 183.29H493.9V185.49H491.4zM336.1 181.10H338.6V183.29H336.1zM364.1 181.10H374.3V183.29H364.1zM392.1 181.10H394.6V183.29H392.1zM397.2 181.10H399.7V183.29H397.2zM409.9 181.10H412.5V183.29H409.9zM415.0 181.10H420.1V183.29H415.0zM491.4 181.10H496.5V183.29H491.4zM504.1 181.10H506.7V183.29H504.1zM511.8 181.10H514.3V183.29H511.8zM341.2 178.91H343.7V181.10H341.2zM417.5 178.91H420.1V181.10H417.5zM84.0 176.72H86.6V178.91H84.0z"/>
<path fill="#a0e040" d="M381.9 266.61H384.4V268.80H381.9zM387.0 266.61H389.5V268.80H387.0zM409.9 266.61H412.5V268.80H409.9zM170.6 264.42H173.1V266.61H170.6zM211.3 264.42H213.9V266.61H211.3zM221.5 264.42H226.6V266.61H221.5zM244.4 264.42H247.0V266.61H244.4zM287.7 264.42H292.8V266.61H287.7zM336.1 264.42H338.6V266.61H336.1zM371.7 264.42H374.3V266.61H371.7zM387.0 264.42H389.5V266.61H387.0zM397.2 264.42H399.7V266.61H397.2zM415.0 264.42H417.5V266.61H415.0zM211.3 262.22H213.9V264.42H211.3zM221.5 262.22H226.6V264.42H221.5zM239.3 262.22H241.9V264.42H239.3zM244.4 262.22H247.0V264.42H244.4zM267.3 262.22H285.1V264.42H267.3zM315.7 262.22H318.2V264.42H315.7zM336.1 262.22H338.6V264.42H336.1zM356.4 262.22H359.0V264.42H356.4zM371.7 262.22H376.8V264.42H371.7zM399.7 262.22H402.3V264.42H399.7zM404.8 262.22H417.5V264.42H404.8zM173.1 260.03H178.2V262.22H173.1zM180.8 260.03H183.3V262.22H180.8zM211.3 260.03H213.9V262.22H211.3zM241.9 260.03H247.0V262.22H241.9zM275.0 260.03H277.5V262.22H275.0zM310.6 260.03H315.7V262.22H310.6zM336.1 260.03H338.6V262.22H336.1zM348.8 260.03H351.3V262.22H348.8zM387.0 260.03H392.1V262.22H387.0zM404.8 260.03H409.9V262.22H404.8zM415.0 260.03H417.5V262.22H415.0zM420.1 260.03H422.6V262.22H420.1zM152.8 257.84H155.3V260.03H152.8zM170.6 257.84H175.7V260.03H170.6zM185.9 257.84H188.4V260.03H185.9zM224.0 257.84H226.6V260.03H224.0zM254.6 257.84H257.1V260.03H254.6zM272.4 257.84H282.6V260.03H272.4zM287.7 257.84H290.2V260.03H287.7zM399.7 257.84H402.3V260.03H399.7zM404.8 257.84H412.5V260.03H404.8zM152.8 255.65H155.3V257.84H152.8zM241.9 255.65H244.4V257.84H241.9zM259.7 255.65H262.2V257.84H259.7zM287.7 255.65H292.8V257.84H287.7zM297.9 255.65H300.4V257.84H297.9zM315.7 255.65H318.2V257.84H315.7zM325.9 255.65H328.4V257.84H325.9zM331.0 255.65H333.5V257.84H331.0zM343.7 255.65H348.8V257.84H343.7zM404.8 255.65H412.5V257.84H404.8zM297.9 253.45H300.4V255.65H297.9zM331.0 253.45H333.5V255.65H331.0zM356.4 253.45H359.0V255.65H356.4zM394.6 253.45H397.2V255.65H394.6zM407.4 253.45H409.9V255.65H407.4zM420.1 253.45H422.6V255.65H420.1zM361.5 251.26H364.1V253.45H361.5zM399.7 251.26H402.3V253.45H399.7zM346.3 238.11H348.8V240.30H346.3zM361.5 238.11H364.1V240.30H361.5zM397.2 238.11H399.7V240.30H397.2zM493.9 238.11H496.5V240.30H493.9zM511.8 238.11H514.3V240.30H511.8zM338.6 235.91H348.8V238.11H338.6zM353.9 235.91H356.4V238.11H353.9zM366.6 235.91H369.2V238.11H366.6zM394.6 235.91H399.7V238.11H394.6zM407.4 235.91H409.9V238.11H407.4zM425.2 235.91H430.3V238.11H425.2zM437.9 235.91H445.6V238.11H437.9zM448.1 235.91H450.6V238.11H448.1zM455.7 235.91H458.3V238.11H455.7zM476.1 235.91H481.2V238.11H476.1zM486.3 235.91H491.4V238.11H486.3zM493.9 235.91H499.0V238.11H493.9zM506.7 235.91H509.2V238.11H506.7zM338.6 233.72H341.2V235.91H338.6zM353.9 233.72H356.4V235.91H353.9zM379.4 233.72H381.9V235.91H379.4zM387.0 233.72H397.2V235.91H387.0zM404.8 233.72H417.5V235.91H404.8zM425.2 233.72H430.3V235.91H425.2zM437.9 233.72H440.5V235.91H437.9zM448.1 233.72H450.6V235.91H448.1zM458.3 233.72H471.0V235.91H458.3zM486.3 233.72H496.5V235.91H486.3zM504.1 233.72H506.7V235.91H504.1zM511.8 233.72H514.3V235.91H511.8zM336.1 231.53H338.6V233.72H336.1zM356.4 231.53H359.0V233.72H356.4zM379.4 231.53H381.9V233.72H379.4zM394.6 231.53H402.3V233.72H394.6zM409.9 231.53H415.0V233.72H409.9zM427.7 231.53H430.3V233.72H427.7zM443.0 231.53H445.6V233.72H443.0zM458.3 231.53H463.4V233.72H458.3zM465.9 231.53H476.1V233.72H465.9zM483.7 231.53H493.9V233.72H483.7zM504.1 231.53H506.7V233.72H504.1zM409.9 229.34H415.0V231.53H409.9zM471.0 229.34H478.7V231.53H471.0zM359.0 209.60H361.5V211.80H359.0zM366.6 209.60H374.3V211.80H366.6zM404.8 209.60H409.9V211.80H404.8zM275.0 207.41H277.5V209.60H275.0zM282.6 207.41H290.2V209.60H282.6zM303.0 207.41H305.5V209.60H303.0zM325.9 207.41H331.0V209.60H325.9zM364.1 207.41H374.3V209.60H364.1zM376.8 207.41H379.4V209.60H376.8zM389.5 207.41H399.7V209.60H389.5zM404.8 207.41H412.5V209.60H404.8zM415.0 207.41H422.6V209.60H415.0zM437.9 207.41H440.5V209.60H437.9zM84.0 205.22H86.6V207.41H84.0zM91.6 205.22H94.2V207.41H91.6zM101.8 205.22H106.9V207.41H101.8zM122.2 205.22H124.7V207.41H122.2zM142.6 205.22H145.1V207.41H142.6zM259.7 205.22H262.2V207.41H259.7zM267.3 205.22H280.1V207.41H267.3zM282.6 205.22H290.2V207.41H282.6zM292.8 205.22H308.1V207.41H292.8zM315.7 205.22H331.0V207.41H315.7zM348.8 205.22H351.3V207.41H348.8zM356.4 205.22H359.0V207.41H356.4zM361.5 205.22H374.3V207.41H361.5zM379.4 205.22H384.4V207.41H379.4zM387.0 205.22H404.8V207.41H387.0zM407.4 205.22H425.2V207.41H407.4zM427.7 205.22H430.3V207.41H427.7zM432.8 205.22H435.4V207.41H432.8zM437.9 205.22H455.7V207.41H437.9zM458.3 205.22H463.4V207.41H458.3zM476.1 205.22H481.2V207.41H476.1zM501.6 205.22H504.1V207.41H501.6zM509.2 205.22H511.8V207.41H509.2zM81.5 203.03H86.6V205.22H81.5zM91.6 203.03H96.7V205.22H91.6zM101.8 203.03H109.5V205.22H101.8zM114.6 203.03H117.1V205.22H114.6zM122.2 203.03H124.7V205.22H122.2zM127.3 203.03H129.8V205.22H127.3zM145.1 203.03H147.7V205.22H145.1zM185.9 203.03H188.4V205.22H185.9zM196.0 203.03H198.6V205.22H196.0zM203.7 203.03H208.8V205.22H203.7zM231.7 203.03H241.9V205.22H231.7zM244.4 203.03H257.1V205.22H244.4zM259.7 203.03H315.7V205.22H259.7zM320.8 203.03H331.0V205.22H320.8zM333.5 203.03H336.1V205.22H333.5zM338.6 203.03H341.2V205.22H338.6zM346.3 203.03H348.8V205.22H346.3zM353.9 203.03H359.0V205.22H353.9zM366.6 203.03H374.3V205.22H366.6zM376.8 203.03H384.4V205.22H376.8zM387.0 203.03H399.7V205.22H387.0zM402.3 203.03H427.7V205.22H402.3zM440.5 203.03H455.7V205.22H440.5zM458.3 203.03H465.9V205.22H458.3zM468.5 203.03H473.6V205.22H468.5zM488.8 203.03H493.9V205.22H488.8zM496.5 203.03H499.0V205.22H496.5zM509.2 203.03H514.3V205.22H509.2zM71.3 200.83H73.8V203.03H71.3zM76.4 200.83H84.0V203.03H76.4zM86.6 200.83H89.1V203.03H86.6zM96.7 200.83H124.7V203.03H96.7zM134.9 200.83H140.0V203.03H134.9zM142.6 200.83H147.7V203.03H142.6zM157.8 200.83H160.4V203.03H157.8zM165.5 200.83H168.0V203.03H165.5zM185.9 200.83H198.6V203.03H185.9zM203.7 200.83H208.8V203.03H203.7zM211.3 200.83H221.5V203.03H211.3zM224.0 200.83H229.1V203.03H224.0zM231.7 200.83H234.2V203.03H231.7zM236.8 200.83H252.1V203.03H236.8zM257.1 200.83H272.4V203.03H257.1zM275.0 200.83H303.0V203.03H275.0zM305.5 200.83H333.5V203.03H305.5zM336.1 200.83H361.5V203.03H336.1zM364.1 200.83H374.3V203.03H364.1zM376.8 200.83H402.3V203.03H376.8zM404.8 200.83H412.5V203.03H404.8zM415.0 200.83H420.1V203.03H415.0zM422.6 200.83H425.2V203.03H422.6zM430.3 200.83H437.9V203.03H430.3zM443.0 200.83H445.6V203.03H443.0zM450.6 200.83H455.7V203.03H450.6zM458.3 200.83H460.8V203.03H458.3zM468.5 200.83H478.7V203.03H468.5zM486.3 200.83H496.5V203.03H486.3zM509.2 200.83H514.3V203.03H509.2zM68.7 198.64H73.8V200.83H68.7zM81.5 198.64H94.2V200.83H81.5zM101.8 198.64H106.9V200.83H101.8zM117.1 198.64H150.2V200.83H117.1zM157.8 198.64H160.4V200.83H157.8zM165.5 198.64H168.0V200.83H165.5zM173.1 198.64H175.7V200.83H173.1zM180.8 198.64H211.3V200.83H180.8zM219.0 198.64H303.0V200.83H219.0zM305.5 198.64H381.9V200.83H305.5zM384.4 198.64H389.5V200.83H384.4zM397.2 198.64H402.3V200.83H397.2zM417.5 198.64H425.2V200.83H417.5zM430.3 198.64H445.6V200.83H430.3zM450.6 198.64H455.7V200.83H450.6zM458.3 198.64H481.2V200.83H458.3zM488.8 198.64H496.5V200.83H488.8zM499.0 198.64H514.3V200.83H499.0zM61.1 196.45H73.8V198.64H61.1zM81.5 196.45H86.6V198.64H81.5zM89.1 196.45H91.6V198.64H89.1zM101.8 196.45H106.9V198.64H101.8zM112.0 196.45H140.0V198.64H112.0zM142.6 196.45H150.2V198.64H142.6zM155.3 196.45H282.6V198.64H155.3zM290.2 196.45H303.0V198.64H290.2zM305.5 196.45H323.3V198.64H305.5zM325.9 196.45H336.1V198.64H325.9zM338.6 196.45H361.5V198.64H338.6zM364.1 196.45H366.6V198.64H364.1zM371.7 196.45H374.3V198.64H371.7zM379.4 196.45H407.4V198.64H379.4zM409.9 196.45H412.5V198.64H409.9zM415.0 196.45H422.6V198.64H415.0zM425.2 196.45H427.7V198.64H425.2zM430.3 196.45H437.9V198.64H430.3zM440.5 196.45H448.1V198.64H440.5zM450.6 196.45H465.9V198.64H450.6zM471.0 196.45H476.1V198.64H471.0zM501.6 196.45H514.3V198.64H501.6zM56.0 194.25H58.5V196.45H56.0zM61.1 194.25H66.2V196.45H61.1zM71.3 194.25H76.4V196.45H71.3zM84.0 194.25H122.2V196.45H84.0zM124.7 194.25H140.0V196.45H124.7zM142.6 194.25H150.2V196.45H142.6zM152.8 194.25H190.9V196.45H152.8zM193.5 194.25H213.9V196.45H193.5zM221.5 194.25H226.6V196.45H221.5zM229.1 194.25H269.9V196.45H229.1zM272.4 194.25H277.5V196.45H272.4zM280.1 194.25H282.6V196.45H280.1zM285.1 194.25H320.8V196.45H285.1zM323.3 194.25H336.1V196.45H323.3zM338.6 194.25H407.4V196.45H338.6zM412.5 194.25H430.3V196.45H412.5zM432.8 194.25H435.4V196.45H432.8zM440.5 194.25H443.0V196.45H440.5zM448.1 194.25H450.6V196.45H448.1zM458.3 194.25H468.5V196.45H458.3zM481.2 194.25H483.7V196.45H481.2zM486.3 194.25H491.4V196.45H486.3zM506.7 194.25H514.3V196.45H506.7zM56.0 192.06H68.7V194.25H56.0zM84.0 192.06H89.1V194.25H84.0zM94.2 192.06H122.2V194.25H94.2zM127.3 192.06H132.4V194.25H127.3zM134.9 192.06H142.6V194.25H134.9zM147.7 192.06H178.2V194.25H147.7zM180.8 192.06H188.4V194.25H180.8zM198.6 192.06H219.0V194.25H198.6zM229.1 192.06H247.0V194.25H229.1zM249.5 192.06H257.1V194.25H249.5zM259.7 192.06H264.8V194.25H259.7zM282.6 192.06H287.7V194.25H282.6zM290.2 192.06H295.3V194.25H290.2zM297.9 192.06H310.6V194.25H297.9zM313.2 192.06H315.7V194.25H313.2zM318.2 192.06H341.2V194.25H318.2zM343.7 192.06H356.4V194.25H343.7zM359.0 192.06H379.4V194.25H359.0zM381.9 192.06H389.5V194.25H381.9zM394.6 192.06H407.4V194.25H394.6zM412.5 192.06H422.6V194.25H412.5zM425.2 192.06H427.7V194.25H425.2zM435.4 192.06H437.9V194.25H435.4zM448.1 192.06H465.9V194.25H448.1zM468.5 192.06H473.6V194.25H468.5zM476.1 192.06H486.3V194.25H476.1zM488.8 192.06H501.6V194.25H488.8zM509.2 192.06H511.8V194.25H509.2zM56.0 189.87H61.1V192.06H56.0zM63.6 189.87H68.7V192.06H63.6zM86.6 189.87H117.1V192.06H86.6zM122.2 189.87H124.7V192.06H122.2zM134.9 189.87H175.7V192.06H134.9zM185.9 189.87H193.5V192.06H185.9zM201.1 189.87H203.7V192.06H201.1zM211.3 189.87H226.6V192.06H211.3zM229.1 189.87H236.8V192.06H229.1zM247.0 189.87H254.6V192.06H247.0zM257.1 189.87H264.8V192.06H257.1zM285.1 189.87H287.7V192.06H285.1zM292.8 189.87H295.3V192.06H292.8zM297.9 189.87H310.6V192.06H297.9zM315.7 189.87H320.8V192.06H315.7zM323.3 189.87H328.4V192.06H323.3zM331.0 189.87H359.0V192.06H331.0zM371.7 189.87H374.3V192.06H371.7zM376.8 189.87H384.4V192.06H376.8zM387.0 189.87H389.5V192.06H387.0zM394.6 189.87H397.2V192.06H394.6zM399.7 189.87H415.0V192.06H399.7zM417.5 189.87H420.1V192.06H417.5zM425.2 189.87H427.7V192.06H425.2zM430.3 189.87H440.5V192.06H430.3zM453.2 189.87H460.8V192.06H453.2zM463.4 189.87H471.0V192.06H463.4zM476.1 189.87H481.2V192.06H476.1zM493.9 189.87H496.5V192.06H493.9zM499.0 189.87H504.1V192.06H499.0zM506.7 189.87H509.2V192.06H506.7zM511.8 189.87H514.3V192.06H511.8zM61.1 187.68H73.8V189.87H61.1zM76.4 187.68H81.5V189.87H76.4zM84.0 187.68H96.7V189.87H84.0zM101.8 187.68H104.4V189.87H101.8zM106.9 187.68H124.7V189.87H106.9zM127.3 187.68H129.8V189.87H127.3zM132.4 187.68H142.6V189.87H132.4zM145.1 187.68H147.7V189.87H145.1zM150.2 187.68H162.9V189.87H150.2zM165.5 187.68H168.0V189.87H165.5zM170.6 187.68H180.8V189.87H170.6zM183.3 187.68H185.9V189.87H183.3zM190.9 187.68H198.6V189.87H190.9zM206.2 187.68H208.8V189.87H206.2zM213.9 187.68H224.0V189.87H213.9zM234.2 187.68H236.8V189.87H234.2zM249.5 187.68H262.2V189.87H249.5zM269.9 187.68H277.5V189.87H269.9zM280.1 187.68H282.6V189.87H280.1zM292.8 187.68H308.1V189.87H292.8zM310.6 187.68H313.2V189.87H310.6zM318.2 187.68H325.9V189.87H318.2zM333.5 187.68H341.2V189.87H333.5zM343.7 187.68H359.0V189.87H343.7zM369.2 187.68H376.8V189.87H369.2zM379.4 187.68H381.9V189.87H379.4zM384.4 187.68H387.0V189.87H384.4zM399.7 187.68H407.4V189.87H399.7zM412.5 187.68H415.0V189.87H412.5zM425.2 187.68H435.4V189.87H425.2zM437.9 187.68H453.2V189.87H437.9zM476.1 187.68H481.2V189.87H476.1zM491.4 187.68H496.5V189.87H491.4zM499.0 187.68H514.3V189.87H499.0zM61.1 185.49H68.7V187.68H61.1zM73.8 185.49H78.9V187.68H73.8zM89.1 185.49H91.6V187.68H89.1zM94.2 185.49H106.9V187.68H94.2zM109.5 185.49H114.6V187.68H109.5zM117.1 185.49H124.7V187.68H117.1zM127.3 185.49H129.8V187.68H127.3zM137.5 185.49H147.7V187.68H137.5zM157.8 185.49H160.4V187.68H157.8zM162.9 185.49H178.2V187.68H162.9zM185.9 185.49H188.4V187.68H185.9zM198.6 185.49H201.1V187.68H198.6zM203.7 185.49H208.8V187.68H203.7zM211.3 185.49H219.0V187.68H211.3zM221.5 185.49H226.6V187.68H221.5zM254.6 185.49H257.1V187.68H254.6zM259.7 185.49H267.3V187.68H259.7zM269.9 185.49H272.4V187.68H269.9zM277.5 185.49H280.1V187.68H277.5zM282.6 185.49H287.7V187.68H282.6zM292.8 185.49H295.3V187.68H292.8zM303.0 185.49H305.5V187.68H303.0zM310.6 185.49H318.2V187.68H310.6zM320.8 185.49H325.9V187.68H320.8zM338.6 185.49H346.3V187.68H338.6zM353.9 185.49H359.0V187.68H353.9zM389.5 185.49H392.1V187.68H389.5zM425.2 185.49H427.7V187.68H425.2zM430.3 185.49H435.4V187.68H430.3zM440.5 185.49H450.6V187.68H440.5zM453.2 185.49H455.7V187.68H453.2zM460.8 185.49H471.0V187.68H460.8zM493.9 185.49H506.7V187.68H493.9zM56.0 183.29H58.5V185.49H56.0zM61.1 183.29H66.2V185.49H61.1zM68.7 183.29H76.4V185.49H68.7zM78.9 183.29H84.0V185.49H78.9zM86.6 183.29H89.1V185.49H86.6zM94.2 183.29H114.6V185.49H94.2zM117.1 183.29H119.7V185.49H117.1zM137.5 183.29H142.6V185.49H137.5zM145.1 183.29H147.7V185.49H145.1zM160.4 183.29H168.0V185.49H160.4zM173.1 183.29H175.7V185.49H173.1zM180.8 183.29H190.9V185.49H180.8zM196.0 183.29H229.1V185.49H196.0zM231.7 183.29H236.8V185.49H231.7zM239.3 183.29H241.9V185.49H239.3zM247.0 183.29H249.5V185.49H247.0zM262.2 183.29H269.9V185.49H262.2zM285.1 183.29H287.7V185.49H285.1zM300.4 183.29H303.0V185.49H300.4zM308.1 183.29H310.6V185.49H308.1zM315.7 183.29H328.4V185.49H315.7zM341.2 183.29H346.3V185.49H341.2zM384.4 183.29H387.0V185.49H384.4zM425.2 183.29H427.7V185.49H425.2zM443.0 183.29H445.6V185.49H443.0zM455.7 183.29H463.4V185.49H455.7zM473.6 183.29H476.1V185.49H473.6zM483.7 183.29H486.3V185.49H483.7zM488.8 183.29H491.4V185.49H488.8zM493.9 183.29H499.0V185.49H493.9zM504.1 183.29H509.2V185.49H504.1zM511.8 183.29H514.3V185.49H511.8zM56.0 181.10H61.1V183.29H56.0zM81.5 181.10H84.0V183.29H81.5zM86.6 181.10H89.1V183.29H86.6zM94.2 181.10H96.7V183.29H94.2zM99.3 181.10H101.8V183.29H99.3zM104.4 181.10H106.9V183.29H104.4zM109.5 181.10H114.6V183.29H109.5zM117.1 181.10H119.7V183.29H117.1zM132.4 181.10H134.9V183.29H132.4zM183.3 181.10H185.9V183.29H183.3zM196.0 181.10H198.6V183.29H196.0zM201.1 181.10H211.3V183.29H201.1zM213.9 181.10H219.0V183.29H213.9zM221.5 181.10H229.1V183.29H221.5zM234.2 181.10H236.8V183.29H234.2zM249.5 181.10H252.1V183.29H249.5zM267.3 181.10H269.9V183.29H267.3zM308.1 181.10H310.6V183.29H308.1zM328.4 181.10H333.5V183.29H328.4zM341.2 181.10H351.3V183.29H341.2zM359.0 181.10H361.5V183.29H359.0zM399.7 181.10H402.3V183.29H399.7zM458.3 181.10H460.8V183.29H458.3zM506.7 181.10H511.8V183.29H506.7zM78.9 178.91H81.5V181.10H78.9zM109.5 178.91H114.6V181.10H109.5zM190.9 178.91H193.5V181.10H190.9zM206.2 178.91H211.3V181.10H206.2zM219.0 178.91H224.0V181.10H219.0zM226.6 178.91H229.1V181.10H226.6zM328.4 178.91H331.0V181.10H328.4zM348.8 178.91H351.3V181.10H348.8zM399.7 178.91H402.3V181.10H399.7zM509.2 178.91H511.8V181.10H509.2z"/>
<path fill="#18d018" d="M402.3 266.61H404.8V268.80H402.3zM175.7 264.42H178.2V266.61H175.7zM180.8 264.42H183.3V266.61H180.8zM249.5 264.42H252.1V266.61H249.5zM275.0 264.42H282.6V266.61H275.0zM292.8 264.42H297.9V266.61H292.8zM313.2 264.42H318.2V266.61H313.2zM341.2 264.42H346.3V266.61H341.2zM364.1 264.42H366.6V266.61H364.1zM162.9 262.22H165.5V264.42H162.9zM168.0 262.22H170.6V264.42H168.0zM180.8 262.22H185.9V264.42H180.8zM190.9 262.22H193.5V264.42H190.9zM234.2 262.22H236.8V264.42H234.2zM249.5 262.22H252.1V264.42H249.5zM313.2 262.22H315.7V264.42H313.2zM318.2 262.22H320.8V264.42H318.2zM392.1 262.22H397.2V264.42H392.1zM422.6 262.22H425.2V264.42H422.6zM150.2 260.03H152.8V262.22H150.2zM168.0 260.03H173.1V262.22H168.0zM178.2 260.03H180.8V262.22H178.2zM188.4 260.03H193.5V262.22H188.4zM213.9 260.03H216.4V262.22H213.9zM226.6 260.03H229.1V262.22H226.6zM287.7 260.03H290.2V262.22H287.7zM295.3 260.03H303.0V262.22H295.3zM318.2 260.03H323.3V262.22H318.2zM341.2 260.03H343.7V262.22H341.2zM369.2 260.03H374.3V262.22H369.2zM376.8 260.03H381.9V262.22H376.8zM392.1 260.03H399.7V262.22H392.1zM409.9 260.03H415.0V262.22H409.9zM145.1 257.84H147.7V260.03H145.1zM155.3 257.84H157.8V260.03H155.3zM165.5 257.84H170.6V260.03H165.5zM178.2 257.84H180.8V260.03H178.2zM188.4 257.84H190.9V260.03H188.4zM211.3 257.84H216.4V260.03H211.3zM226.6 257.84H231.7V260.03H226.6zM249.5 257.84H254.6V260.03H249.5zM285.1 257.84H287.7V260.03H285.1zM295.3 257.84H300.4V260.03H295.3zM318.2 257.84H323.3V260.03H318.2zM336.1 257.84H341.2V260.03H336.1zM346.3 257.84H348.8V260.03H346.3zM379.4 257.84H384.4V260.03H379.4zM392.1 257.84H394.6V260.03H392.1zM412.5 257.84H415.0V260.03H412.5zM417.5 257.84H420.1V260.03H417.5zM425.2 257.84H427.7V260.03H425.2zM511.8 257.84H514.3V260.03H511.8zM142.6 255.65H150.2V257.84H142.6zM155.3 255.65H157.8V257.84H155.3zM160.4 255.65H162.9V257.84H160.4zM168.0 255.65H175.7V257.84H168.0zM178.2 255.65H180.8V257.84H178.2zM183.3 255.65H203.7V257.84H183.3zM211.3 255.65H213.9V257.84H211.3zM229.1 255.65H231.7V257.84H229.1zM234.2 255.65H236.8V257.84H234.2zM239.3 255.65H241.9V257.84H239.3zM247.0 255.65H254.6V257.84H247.0zM277.5 255.65H287.7V257.84H277.5zM318.2 255.65H320.8V257.84H318.2zM353.9 255.65H356.4V257.84H353.9zM364.1 255.65H366.6V257.84H364.1zM376.8 255.65H379.4V257.84H376.8zM412.5 255.65H415.0V257.84H412.5zM417.5 255.65H422.6V257.84H417.5zM425.2 255.65H430.3V257.84H425.2zM445.6 255.65H448.1V257.84H445.6zM465.9 255.65H468.5V257.84H465.9zM471.0 255.65H473.6V257.84H471.0zM478.7 255.65H481.2V257.84H478.7zM493.9 255.65H496.5V257.84H493.9zM499.0 255.65H501.6V257.84H499.0zM504.1 255.65H514.3V257.84H504.1zM119.7 253.45H124.7V255.65H119.7zM137.5 253.45H142.6V255.65H137.5zM147.7 253.45H150.2V255.65H147.7zM152.8 253.45H155.3V255.65H152.8zM160.4 253.45H168.0V255.65H160.4zM170.6 253.45H180.8V255.65H170.6zM183.3 253.45H188.4V255.65H183.3zM193.5 253.45H196.0V255.65H193.5zM198.6 253.45H206.2V255.65H198.6zM229.1 253.45H234.2V255.65H229.1zM239.3 253.45H249.5V255.65H239.3zM254.6 253.45H257.1V255.65H254.6zM264.8 253.45H275.0V255.65H264.8zM285.1 253.45H287.7V255.65H285.1zM300.4 253.45H305.5V255.65H300.4zM310.6 253.45H313.2V255.65H310.6zM318.2 253.45H325.9V255.65H318.2zM338.6 253.45H348.8V255.65H338.6zM353.9 253.45H356.4V255.65H353.9zM364.1 253.45H366.6V255.65H364.1zM389.5 253.45H392.1V255.65H389.5zM399.7 253.45H404.8V255.65H399.7zM412.5 253.45H415.0V255.65H412.5zM425.2 253.45H432.8V255.65H425.2zM463.4 253.45H468.5V255.65H463.4zM471.0 253.45H473.6V255.65H471.0zM476.1 253.45H483.7V255.65H476.1zM491.4 253.45H501.6V255.65H491.4zM506.7 253.45H509.2V255.65H506.7zM511.8 253.45H514.3V255.65H511.8zM119.7 251.26H124.7V253.45H119.7zM147.7 251.26H150.2V253.45H147.7zM152.8 251.26H155.3V253.45H152.8zM229.1 251.26H234.2V253.45H229.1zM239.3 251.26H247.0V253.45H239.3zM259.7 251.26H262.2V253.45H259.7zM264.8 251.26H275.0V253.45H264.8zM285.1 251.26H290.2V253.45H285.1zM303.0 251.26H313.2V253.45H303.0zM320.8 251.26H323.3V253.45H320.8zM341.2 251.26H343.7V253.45H341.2zM346.3 251.26H348.8V253.45H346.3zM364.1 251.26H366.6V253.45H364.1zM376.8 251.26H381.9V253.45H376.8zM389.5 251.26H394.6V253.45H389.5zM402.3 251.26H409.9V253.45H402.3zM427.7 251.26H432.8V253.45H427.7zM463.4 251.26H468.5V253.45H463.4zM473.6 251.26H476.1V253.45H473.6zM478.7 251.26H481.2V253.45H478.7zM483.7 251.26H488.8V253.45H483.7zM491.4 251.26H496.5V253.45H491.4zM499.0 251.26H504.1V253.45H499.0zM506.7 251.26H514.3V253.45H506.7zM150.2 249.07H160.4V251.26H150.2zM196.0 249.07H198.6V251.26H196.0zM224.0 249.07H226.6V251.26H224.0zM231.7 249.07H236.8V251.26H231.7zM239.3 249.07H247.0V251.26H239.3zM262.2 249.07H264.8V251.26H262.2zM267.3 249.07H269.9V251.26H267.3zM310.6 249.07H313.2V251.26H310.6zM318.2 249.07H323.3V251.26H318.2zM364.1 249.07H369.2V251.26H364.1zM376.8 249.07H379.4V251.26H376.8zM381.9 249.07H387.0V251.26H381.9zM404.8 249.07H407.4V251.26H404.8zM409.9 249.07H412.5V251.26H409.9zM440.5 249.07H445.6V251.26H440.5zM486.3 249.07H488.8V251.26H486.3zM501.6 249.07H511.8V251.26H501.6zM119.7 246.88H124.7V249.07H119.7zM155.3 246.88H162.9V249.07H155.3zM173.1 246.88H175.7V249.07H173.1zM196.0 246.88H198.6V249.07H196.0zM206.2 246.88H211.3V249.07H206.2zM231.7 246.88H239.3V249.07H231.7zM252.1 246.88H257.1V249.07H252.1zM262.2 246.88H267.3V249.07H262.2zM269.9 246.88H272.4V249.07H269.9zM277.5 246.88H285.1V249.07H277.5zM290.2 246.88H292.8V249.07H290.2zM303.0 246.88H305.5V249.07H303.0zM308.1 246.88H313.2V249.07H308.1zM315.7 246.88H318.2V249.07H315.7zM361.5 246.88H364.1V249.07H361.5zM371.7 246.88H374.3V249.07H371.7zM376.8 246.88H379.4V249.07H376.8zM381.9 246.88H384.4V249.07H381.9zM404.8 246.88H407.4V249.07H404.8zM409.9 246.88H412.5V249.07H409.9zM415.0 246.88H417.5V249.07H415.0zM465.9 246.88H468.5V249.07H465.9zM506.7 246.88H509.2V249.07H506.7zM109.5 244.68H112.0V246.88H109.5zM119.7 244.68H124.7V246.88H119.7zM134.9 244.68H137.5V246.88H134.9zM140.0 244.68H142.6V246.88H140.0zM157.8 244.68H160.4V246.88H157.8zM175.7 244.68H180.8V246.88H175.7zM196.0 244.68H211.3V246.88H196.0zM229.1 244.68H231.7V246.88H229.1zM236.8 244.68H239.3V246.88H236.8zM254.6 244.68H259.7V246.88H254.6zM264.8 244.68H267.3V246.88H264.8zM277.5 244.68H280.1V246.88H277.5zM282.6 244.68H285.1V246.88H282.6zM297.9 244.68H300.4V246.88H297.9zM305.5 244.68H315.7V246.88H305.5zM328.4 244.68H331.0V246.88H328.4zM374.3 244.68H379.4V246.88H374.3zM407.4 244.68H409.9V246.88H407.4zM455.7 244.68H458.3V246.88H455.7zM465.9 244.68H471.0V246.88H465.9zM504.1 244.68H506.7V246.88H504.1zM106.9 242.49H112.0V244.68H106.9zM117.1 242.49H122.2V244.68H117.1zM124.7 242.49H127.3V244.68H124.7zM132.4 242.49H134.9V244.68H132.4zM145.1 242.49H147.7V244.68H145.1zM168.0 242.49H170.6V244.68H168.0zM203.7 242.49H206.2V244.68H203.7zM216.4 242.49H219.0V244.68H216.4zM239.3 242.49H241.9V244.68H239.3zM259.7 242.49H262.2V244.68H259.7zM264.8 242.49H267.3V244.68H264.8zM287.7 242.49H295.3V244.68H287.7zM297.9 242.49H300.4V244.68H297.9zM313.2 242.49H320.8V244.68H313.2zM336.1 242.49H346.3V244.68H336.1zM374.3 242.49H379.4V244.68H374.3zM381.9 242.49H384.4V244.68H381.9zM397.2 242.49H399.7V244.68H397.2zM409.9 242.49H412.5V244.68H409.9zM468.5 242.49H471.0V244.68H468.5zM473.6 242.49H476.1V244.68H473.6zM483.7 242.49H488.8V244.68H483.7zM504.1 242.49H511.8V244.68H504.1zM104.4 240.30H112.0V242.49H104.4zM114.6 240.30H122.2V242.49H114.6zM127.3 240.30H145.1V242.49H127.3zM147.7 240.30H150.2V242.49H147.7zM152.8 240.30H155.3V242.49H152.8zM173.1 240.30H175.7V242.49H173.1zM183.3 240.30H185.9V242.49H183.3zM193.5 240.30H198.6V242.49H193.5zM201.1 240.30H208.8V242.49H201.1zM211.3 240.30H213.9V242.49H211.3zM224.0 240.30H231.7V242.49H224.0zM247.0 240.30H252.1V242.49H247.0zM262.2 240.30H264.8V242.49H262.2zM290.2 240.30H292.8V242.49H290.2zM295.3 240.30H300.4V242.49H295.3zM308.1 240.30H310.6V242.49H308.1zM313.2 240.30H320.8V242.49H313.2zM325.9 240.30H328.4V242.49H325.9zM333.5 240.30H346.3V242.49H333.5zM353.9 240.30H356.4V242.49H353.9zM359.0 240.30H366.6V242.49H359.0zM381.9 240.30H384.4V242.49H381.9zM399.7 240.30H402.3V242.49H399.7zM412.5 240.30H415.0V242.49H412.5zM417.5 240.30H427.7V242.49H417.5zM432.8 240.30H437.9V242.49H432.8zM450.6 240.30H453.2V242.49H450.6zM458.3 240.30H465.9V242.49H458.3zM468.5 240.30H476.1V242.49H468.5zM478.7 240.30H481.2V242.49H478.7zM483.7 240.30H488.8V242.49H483.7zM496.5 240.30H501.6V242.49H496.5zM509.2 240.30H511.8V242.49H509.2zM99.3 238.11H122.2V240.30H99.3zM124.7 238.11H127.3V240.30H124.7zM132.4 238.11H162.9V240.30H132.4zM165.5 238.11H170.6V240.30H165.5zM180.8 238.11H188.4V240.30H180.8zM190.9 238.11H198.6V240.30H190.9zM201.1 238.11H236.8V240.30H201.1zM239.3 238.11H241.9V240.30H239.3zM244.4 238.11H254.6V240.30H244.4zM257.1 238.11H259.7V240.30H257.1zM264.8 238.11H267.3V240.30H264.8zM277.5 238.11H280.1V240.30H277.5zM285.1 238.11H292.8V240.30H285.1zM295.3 238.11H305.5V240.30H295.3zM308.1 238.11H346.3V240.30H308.1zM348.8 238.11H361.5V240.30H348.8zM364.1 238.11H376.8V240.30H364.1zM379.4 238.11H384.4V240.30H379.4zM387.0 238.11H397.2V240.30H387.0zM399.7 238.11H427.7V240.30H399.7zM432.8 238.11H455.7V240.30H432.8zM458.3 238.11H481.2V240.30H458.3zM483.7 238.11H493.9V240.30H483.7zM496.5 238.11H511.8V240.30H496.5zM94.2 235.91H96.7V238.11H94.2zM99.3 235.91H162.9V238.11H99.3zM165.5 235.91H254.6V238.11H165.5zM257.1 235.91H282.6V238.11H257.1zM285.1 235.91H338.6V238.11H285.1zM348.8 235.91H353.9V238.11H348.8zM356.4 235.91H366.6V238.11H356.4zM369.2 235.91H394.6V238.11H369.2zM399.7 235.91H407.4V238.11H399.7zM409.9 235.91H425.2V238.11H409.9zM430.3 235.91H437.9V238.11H430.3zM445.6 235.91H448.1V238.11H445.6zM450.6 235.91H455.7V238.11H450.6zM458.3 235.91H476.1V238.11H458.3zM481.2 235.91H486.3V238.11H481.2zM491.4 235.91H493.9V238.11H491.4zM499.0 235.91H506.7V238.11H499.0zM509.2 235.91H514.3V238.11H509.2zM78.9 233.72H81.5V235.91H78.9zM91.6 233.72H338.6V235.91H91.6zM341.2 233.72H353.9V235.91H341.2zM356.4 233.72H379.4V235.91H356.4zM381.9 233.72H387.0V235.91H381.9zM397.2 233.72H404.8V235.91H397.2zM417.5 233.72H425.2V235.91H417.5zM430.3 233.72H437.9V235.91H430.3zM440.5 233.72H448.1V235.91H440.5zM450.6 233.72H458.3V235.91H450.6zM471.0 233.72H486.3V235.91H471.0zM496.5 233.72H504.1V235.91H496.5zM506.7 233.72H511.8V235.91H506.7zM56.0 231.53H61.1V233.72H56.0zM63.6 231.53H68.7V233.72H63.6zM71.3 231.53H94.2V233.72H71.3zM96.7 231.53H336.1V233.72H96.7zM338.6 231.53H356.4V233.72H338.6zM359.0 231.53H379.4V233.72H359.0zM381.9 231.53H394.6V233.72H381.9zM402.3 231.53H409.9V233.72H402.3zM415.0 231.53H427.7V233.72H415.0zM430.3 231.53H443.0V233.72H430.3zM445.6 231.53H458.3V233.72H445.6zM463.4 231.53H465.9V233.72H463.4zM476.1 231.53H483.7V233.72H476.1zM493.9 231.53H504.1V233.72H493.9zM506.7 231.53H514.3V233.72H506.7zM56.0 229.34H409.9V231.53H56.0zM415.0 229.34H471.0V231.53H415.0zM478.7 229.34H514.3V231.53H478.7zM58.5 227.14H514.3V229.34H58.5zM56.0 224.95H514.3V227.14H56.0zM58.5 222.76H514.3V224.95H58.5zM56.0 220.56H514.3V222.76H56.0zM56.0 218.37H514.3V220.56H56.0zM56.0 216.18H514.3V218.37H56.0zM56.0 213.99H514.3V216.18H56.0zM56.0 211.80H514.3V213.99H56.0zM56.0 209.60H359.0V211.80H56.0zM361.5 209.60H366.6V211.80H361.5zM374.3 209.60H404.8V211.80H374.3zM409.9 209.60H514.3V211.80H409.9zM56.0 207.41H275.0V209.60H56.0zM277.5 207.41H282.6V209.60H277.5zM290.2 207.41H303.0V209.60H290.2zM305.5 207.41H325.9V209.60H305.5zM331.0 207.41H364.1V209.60H331.0zM374.3 207.41H376.8V209.60H374.3zM379.4 207.41H389.5V209.60H379.4zM399.7 207.41H404.8V209.60H399.7zM412.5 207.41H415.0V209.60H412.5zM422.6 207.41H437.9V209.60H422.6zM440.5 207.41H514.3V209.60H440.5zM56.0 205.22H84.0V207.41H56.0zM86.6 205.22H91.6V207.41H86.6zM94.2 205.22H101.8V207.41H94.2zM106.9 205.22H122.2V207.41H106.9zM124.7 205.22H142.6V207.41H124.7zM145.1 205.22H259.7V207.41H145.1zM262.2 205.22H267.3V207.41H262.2zM280.1 205.22H282.6V207.41H280.1zM290.2 205.22H292.8V207.41H290.2zM308.1 205.22H315.7V207.41H308.1zM331.0 205.22H348.8V207.41H331.0zM351.3 205.22H356.4V207.41H351.3zM359.0 205.22H361.5V207.41H359.0zM374.3 205.22H379.4V207.41H374.3zM384.4 205.22H387.0V207.41H384.4zM404.8 205.22H407.4V207.41H404.8zM425.2 205.22H427.7V207.41H425.2zM430.3 205.22H432.8V207.41H430.3zM435.4 205.22H437.9V207.41H435.4zM455.7 205.22H458.3V207.41H455.7zM463.4 205.22H476.1V207.41H463.4zM481.2 205.22H501.6V207.41H481.2zM504.1 205.22H509.2V207.41H504.1zM511.8 205.22H514.3V207.41H511.8zM56.0 203.03H81.5V205.22H56.0zM86.6 203.03H91.6V205.22H86.6zM96.7 203.03H101.8V205.22H96.7zM109.5 203.03H114.6V205.22H109.5zM117.1 203.03H122.2V205.22H117.1zM124.7 203.03H127.3V205.22H124.7zM129.8 203.03H145.1V205.22H129.8zM147.7 203.03H185.9V205.22H147.7zM188.4 203.03H196.0V205.22H188.4zM198.6 203.03H203.7V205.22H198.6zM208.8 203.03H231.7V205.22H208.8zM241.9 203.03H244.4V205.22H241.9zM257.1 203.03H259.7V205.22H257.1zM315.7 203.03H320.8V205.22H315.7zM331.0 203.03H333.5V205.22H331.0zM336.1 203.03H338.6V205.22H336.1zM341.2 203.03H346.3V205.22H341.2zM348.8 203.03H353.9V205.22H348.8zM359.0 203.03H366.6V205.22H359.0zM374.3 203.03H376.8V205.22H374.3zM384.4 203.03H387.0V205.22H384.4zM399.7 203.03H402.3V205.22H399.7zM427.7 203.03H440.5V205.22H427.7zM455.7 203.03H458.3V205.22H455.7zM465.9 203.03H468.5V205.22H465.9zM473.6 203.03H488.8V205.22H473.6zM493.9 203.03H496.5V205.22H493.9zM499.0 203.03H509.2V205.22H499.0zM56.0 200.83H71.3V203.03H56.0zM73.8 200.83H76.4V203.03H73.8zM84.0 200.83H86.6V203.03H84.0zM89.1 200.83H96.7V203.03H89.1zM124.7 200.83H134.9V203.03H124.7zM140.0 200.83H142.6V203.03H140.0zM147.7 200.83H157.8V203.03H147.7zM160.4 200.83H165.5V203.03H160.4zM168.0 200.83H185.9V203.03H168.0zM198.6 200.83H203.7V203.03H198.6zM208.8 200.83H211.3V203.03H208.8zM221.5 200.83H224.0V203.03H221.5zM229.1 200.83H231.7V203.03H229.1zM234.2 200.83H236.8V203.03H234.2zM252.1 200.83H257.1V203.03H252.1zM272.4 200.83H275.0V203.03H272.4zM303.0 200.83H305.5V203.03H303.0zM333.5 200.83H336.1V203.03H333.5zM361.5 200.83H364.1V203.03H361.5zM374.3 200.83H376.8V203.03H374.3zM402.3 200.83H404.8V203.03H402.3zM412.5 200.83H415.0V203.03H412.5zM420.1 200.83H422.6V203.03H420.1zM425.2 200.83H430.3V203.03H425.2zM437.9 200.83H443.0V203.03H437.9zM445.6 200.83H450.6V203.03H445.6zM455.7 200.83H458.3V203.03H455.7zM460.8 200.83H468.5V203.03H460.8zM478.7 200.83H486.3V203.03H478.7zM496.5 200.83H509.2V203.03H496.5zM56.0 198.64H68.7V200.83H56.0zM73.8 198.64H81.5V200.83H73.8zM94.2 198.64H101.8V200.83H94.2zM106.9 198.64H117.1V200.83H106.9zM150.2 198.64H157.8V200.83H150.2zM160.4 198.64H165.5V200.83H160.4zM168.0 198.64H173.1V200.83H168.0zM175.7 198.64H180.8V200.83H175.7zM211.3 198.64H219.0V200.83H211.3zM303.0 198.64H305.5V200.83H303.0zM381.9 198.64H384.4V200.83H381.9zM389.5 198.64H397.2V200.83H389.5zM402.3 198.64H417.5V200.83H402.3zM425.2 198.64H430.3V200.83H425.2zM445.6 198.64H450.6V200.83H445.6zM455.7 198.64H458.3V200.83H455.7zM481.2 198.64H488.8V200.83H481.2zM496.5 198.64H499.0V200.83H496.5zM56.0 196.45H61.1V198.64H56.0zM73.8 196.45H81.5V198.64H73.8zM86.6 196.45H89.1V198.64H86.6zM91.6 196.45H101.8V198.64H91.6zM106.9 196.45H112.0V198.64H106.9zM140.0 196.45H142.6V198.64H140.0zM150.2 196.45H155.3V198.64H150.2zM282.6 196.45H290.2V198.64H282.6zM303.0 196.45H305.5V198.64H303.0zM323.3 196.45H325.9V198.64H323.3zM336.1 196.45H338.6V198.64H336.1zM361.5 196.45H364.1V198.64H361.5zM366.6 196.45H371.7V198.64H366.6zM374.3 196.45H379.4V198.64H374.3zM407.4 196.45H409.9V198.64H407.4zM412.5 196.45H415.0V198.64H412.5zM422.6 196.45H425.2V198.64H422.6zM427.7 196.45H430.3V198.64H427.7zM437.9 196.45H440.5V198.64H437.9zM448.1 196.45H450.6V198.64H448.1zM465.9 196.45H471.0V198.64H465.9zM476.1 196.45H501.6V198.64H476.1zM58.5 194.25H61.1V196.45H58.5zM66.2 194.25H71.3V196.45H66.2zM76.4 194.25H84.0V196.45H76.4zM122.2 194.25H124.7V196.45H122.2zM140.0 194.25H142.6V196.45H140.0zM150.2 194.25H152.8V196.45H150.2zM190.9 194.25H193.5V196.45H190.9zM213.9 194.25H216.4V196.45H213.9zM226.6 194.25H229.1V196.45H226.6zM269.9 194.25H272.4V196.45H269.9zM336.1 194.25H338.6V196.45H336.1zM407.4 194.25H412.5V196.45H407.4zM430.3 194.25H432.8V196.45H430.3zM435.4 194.25H440.5V196.45H435.4zM443.0 194.25H448.1V196.45H443.0zM450.6 194.25H458.3V196.45H450.6zM468.5 194.25H481.2V196.45H468.5zM483.7 194.25H486.3V196.45H483.7zM491.4 194.25H506.7V196.45H491.4zM68.7 192.06H84.0V194.25H68.7zM89.1 192.06H94.2V194.25H89.1zM122.2 192.06H127.3V194.25H122.2zM132.4 192.06H134.9V194.25H132.4zM142.6 192.06H147.7V194.25H142.6zM193.5 192.06H198.6V194.25H193.5zM219.0 192.06H229.1V194.25H219.0zM247.0 192.06H249.5V194.25H247.0zM315.7 192.06H318.2V194.25H315.7zM341.2 192.06H343.7V194.25H341.2zM356.4 192.06H359.0V194.25H356.4zM379.4 192.06H381.9V194.25H379.4zM389.5 192.06H394.6V194.25H389.5zM407.4 192.06H412.5V194.25H407.4zM422.6 192.06H425.2V194.25H422.6zM427.7 192.06H435.4V194.25H427.7zM437.9 192.06H448.1V194.25H437.9zM465.9 192.06H468.5V194.25H465.9zM473.6 192.06H476.1V194.25H473.6zM486.3 192.06H488.8V194.25H486.3zM501.6 192.06H509.2V194.25H501.6zM511.8 192.06H514.3V194.25H511.8zM68.7 189.87H84.0V192.06H68.7zM124.7 189.87H134.9V192.06H124.7zM183.3 189.87H185.9V192.06H183.3zM203.7 189.87H208.8V192.06H203.7zM226.6 189.87H229.1V192.06H226.6zM328.4 189.87H331.0V192.06H328.4zM359.0 189.87H371.7V192.06H359.0zM374.3 189.87H376.8V192.06H374.3zM384.4 189.87H387.0V192.06H384.4zM392.1 189.87H394.6V192.06H392.1zM397.2 189.87H399.7V192.06H397.2zM415.0 189.87H417.5V192.06H415.0zM427.7 189.87H430.3V192.06H427.7zM440.5 189.87H453.2V192.06H440.5zM460.8 189.87H463.4V192.06H460.8zM471.0 189.87H476.1V192.06H471.0zM481.2 189.87H493.9V192.06H481.2zM496.5 189.87H499.0V192.06H496.5zM504.1 189.87H506.7V192.06H504.1zM509.2 189.87H511.8V192.06H509.2zM73.8 187.68H76.4V189.87H73.8zM81.5 187.68H84.0V189.87H81.5zM96.7 187.68H99.3V189.87H96.7zM124.7 187.68H127.3V189.87H124.7zM211.3 187.68H213.9V189.87H211.3zM308.1 187.68H310.6V189.87H308.1zM341.2 187.68H343.7V189.87H341.2zM359.0 187.68H361.5V189.87H359.0zM376.8 187.68H379.4V189.87H376.8zM381.9 187.68H384.4V189.87H381.9zM387.0 187.68H394.6V189.87H387.0zM397.2 187.68H399.7V189.87H397.2zM407.4 187.68H409.9V189.87H407.4zM435.4 187.68H437.9V189.87H435.4zM453.2 187.68H476.1V189.87H453.2zM481.2 187.68H491.4V189.87H481.2zM496.5 187.68H499.0V189.87H496.5zM56.0 185.49H58.5V187.68H56.0zM78.9 185.49H81.5V187.68H78.9zM160.4 185.49H162.9V187.68H160.4zM193.5 185.49H196.0V187.68H193.5zM229.1 185.49H231.7V187.68H229.1zM257.1 185.49H259.7V187.68H257.1zM305.5 185.49H308.1V187.68H305.5zM325.9 185.49H328.4V187.68H325.9zM381.9 185.49H384.4V187.68H381.9zM404.8 185.49H409.9V187.68H404.8zM427.7 185.49H430.3V187.68H427.7zM435.4 185.49H440.5V187.68H435.4zM450.6 185.49H453.2V187.68H450.6zM455.7 185.49H460.8V187.68H455.7zM473.6 185.49H476.1V187.68H473.6zM483.7 185.49H493.9V187.68H483.7zM506.7 185.49H514.3V187.68H506.7zM76.4 183.29H78.9V185.49H76.4zM254.6 183.29H257.1V185.49H254.6zM259.7 183.29H262.2V185.49H259.7zM303.0 183.29H305.5V185.49H303.0zM361.5 183.29H364.1V185.49H361.5zM366.6 183.29H369.2V185.49H366.6zM376.8 183.29H384.4V185.49H376.8zM387.0 183.29H389.5V185.49H387.0zM412.5 183.29H415.0V185.49H412.5zM417.5 183.29H420.1V185.49H417.5zM422.6 183.29H425.2V185.49H422.6zM430.3 183.29H435.4V185.49H430.3zM437.9 183.29H440.5V185.49H437.9zM468.5 183.29H471.0V185.49H468.5zM486.3 183.29H488.8V185.49H486.3zM499.0 183.29H504.1V185.49H499.0zM63.6 181.10H76.4V183.29H63.6zM173.1 181.10H175.7V183.29H173.1zM320.8 181.10H323.3V183.29H320.8zM333.5 181.10H336.1V183.29H333.5zM361.5 181.10H364.1V183.29H361.5zM374.3 181.10H376.8V183.29H374.3zM379.4 181.10H384.4V183.29H379.4zM387.0 181.10H389.5V183.29H387.0zM394.6 181.10H397.2V183.29H394.6zM404.8 181.10H409.9V183.29H404.8zM488.8 181.10H491.4V183.29H488.8zM499.0 181.10H501.6V183.29H499.0zM68.7 178.91H71.3V181.10H68.7zM379.4 178.91H381.9V181.10H379.4zM404.8 178.91H407.4V181.10H404.8zM409.9 178.91H412.5V181.10H409.9zM506.7 178.91H509.2V181.10H506.7z"/>
<path fill="#2040f0" d="M371.7 389.23H376.8V391.42H371.7zM379.4 389.23H394.6V391.42H379.4zM241.9 387.04H252.1V389.23H241.9zM359.0 387.04H397.2V389.23H359.0zM239.3 384.85H257.1V387.04H239.3zM259.7 384.85H262.2V387.04H259.7zM264.8 384.85H280.1V387.04H264.8zM292.8 384.85H295.3V387.04H292.8zM297.9 384.85H300.4V387.04H297.9zM303.0 384.85H310.6V387.04H303.0zM356.4 384.85H399.7V387.04H356.4zM417.5 384.85H425.2V387.04H417.5zM231.7 382.65H280.1V384.85H231.7zM292.8 382.65H315.7V384.85H292.8zM343.7 382.65H425.2V384.85H343.7zM162.9 380.46H165.5V382.65H162.9zM168.0 380.46H170.6V382.65H168.0zM175.7 380.46H180.8V382.65H175.7zM231.7 380.46H280.1V382.65H231.7zM292.8 380.46H318.2V382.65H292.8zM320.8 380.46H323.3V382.65H320.8zM325.9 380.46H328.4V382.65H325.9zM343.7 380.46H425.2V382.65H343.7zM152.8 378.27H196.0V380.46H152.8zM198.6 378.27H213.9V380.46H198.6zM216.4 378.27H331.0V380.46H216.4zM336.1 378.27H341.2V380.46H336.1zM343.7 378.27H425.2V380.46H343.7zM129.8 376.07H132.4V378.27H129.8zM134.9 376.07H137.5V378.27H134.9zM140.0 376.07H183.3V378.27H140.0zM201.1 376.07H206.2V378.27H201.1zM208.8 376.07H211.3V378.27H208.8zM213.9 376.07H216.4V378.27H213.9zM219.0 376.07H221.5V378.27H219.0zM229.1 376.07H231.7V378.27H229.1zM234.2 376.07H236.8V378.27H234.2zM239.3 376.07H427.7V378.27H239.3zM430.3 376.07H463.4V378.27H430.3zM465.9 376.07H488.8V378.27H465.9zM491.4 376.07H514.3V378.27H491.4zM122.2 373.88H124.7V376.07H122.2zM127.3 373.88H173.1V376.07H127.3zM178.2 373.88H180.8V376.07H178.2zM239.3 373.88H297.9V376.07H239.3zM300.4 373.88H303.0V376.07H300.4zM310.6 373.88H313.2V376.07H310.6zM323.3 373.88H325.9V376.07H323.3zM328.4 373.88H392.1V376.07H328.4zM397.2 373.88H407.4V376.07H397.2zM409.9 373.88H514.3V376.07H409.9zM112.0 371.69H114.6V373.88H112.0zM124.7 371.69H129.8V373.88H124.7zM134.9 371.69H140.0V373.88H134.9zM145.1 371.69H147.7V373.88H145.1zM162.9 371.69H170.6V373.88H162.9zM249.5 371.69H252.1V373.88H249.5zM262.2 371.69H264.8V373.88H262.2zM277.5 371.69H282.6V373.88H277.5zM336.1 371.69H338.6V373.88H336.1zM346.3 371.69H351.3V373.88H346.3zM366.6 371.69H369.2V373.88H366.6zM376.8 371.69H379.4V373.88H376.8zM425.2 371.69H514.3V373.88H425.2zM435.4 369.50H440.5V371.69H435.4zM453.2 369.50H458.3V371.69H453.2zM471.0 369.50H481.2V371.69H471.0zM488.8 369.50H491.4V371.69H488.8zM496.5 369.50H501.6V371.69H496.5zM506.7 369.50H509.2V371.69H506.7zM104.4 360.73H106.9V362.92H104.4zM104.4 358.54H106.9V360.73H104.4zM66.2 356.34H68.7V358.54H66.2zM71.3 356.34H73.8V358.54H71.3zM76.4 356.34H78.9V358.54H76.4zM81.5 356.34H91.6V358.54H81.5zM94.2 356.34H101.8V358.54H94.2zM56.0 354.15H104.4V356.34H56.0zM56.0 351.96H104.4V354.15H56.0zM56.0 349.76H78.9V351.96H56.0zM81.5 349.76H91.6V351.96H81.5zM94.2 349.76H96.7V351.96H94.2zM61.1 347.57H63.6V349.76H61.1zM425.2 323.45H432.8V325.65H425.2zM435.4 323.45H437.9V325.65H435.4zM453.2 323.45H455.7V325.65H453.2zM463.4 323.45H465.9V325.65H463.4zM483.7 323.45H486.3V325.65H483.7zM509.2 323.45H511.8V325.65H509.2zM285.1 321.26H290.2V323.45H285.1zM297.9 321.26H318.2V323.45H297.9zM320.8 321.26H338.6V323.45H320.8zM341.2 321.26H346.3V323.45H341.2zM351.3 321.26H359.0V323.45H351.3zM364.1 321.26H389.5V323.45H364.1zM394.6 321.26H397.2V323.45H394.6zM399.7 321.26H420.1V323.45H399.7zM425.2 321.26H514.3V323.45H425.2zM280.1 319.07H514.3V321.26H280.1zM58.5 316.88H66.2V319.07H58.5zM68.7 316.88H71.3V319.07H68.7zM81.5 316.88H84.0V319.07H81.5zM89.1 316.88H91.6V319.07H89.1zM106.9 316.88H122.2V319.07H106.9zM124.7 316.88H132.4V319.07H124.7zM134.9 316.88H137.5V319.07H134.9zM140.0 316.88H147.7V319.07H140.0zM160.4 316.88H165.5V319.07H160.4zM168.0 316.88H170.6V319.07H168.0zM173.1 316.88H175.7V319.07H173.1zM178.2 316.88H180.8V319.07H178.2zM185.9 316.88H188.4V319.07H185.9zM190.9 316.88H213.9V319.07H190.9zM216.4 316.88H221.5V319.07H216.4zM224.0 316.88H249.5V319.07H224.0zM252.1 316.88H259.7V319.07H252.1zM262.2 316.88H267.3V319.07H262.2zM269.9 316.88H448.1V319.07H269.9zM450.6 316.88H458.3V319.07H450.6zM460.8 316.88H463.4V319.07H460.8zM468.5 316.88H481.2V319.07H468.5zM483.7 316.88H486.3V319.07H483.7zM491.4 316.88H504.1V319.07H491.4zM506.7 316.88H511.8V319.07H506.7zM56.0 314.69H425.2V316.88H56.0zM56.0 312.49H331.0V314.69H56.0zM343.7 312.49H353.9V314.69H343.7zM356.4 312.49H425.2V314.69H356.4zM56.0 310.30H188.4V312.49H56.0zM190.9 310.30H206.2V312.49H190.9zM211.3 310.30H331.0V312.49H211.3zM359.0 310.30H425.2V312.49H359.0zM56.0 308.11H183.3V310.30H56.0zM211.3 308.11H254.6V310.30H211.3zM257.1 308.11H264.8V310.30H257.1zM267.3 308.11H285.1V310.30H267.3zM287.7 308.11H290.2V310.30H287.7zM292.8 308.11H308.1V310.30H292.8zM310.6 308.11H325.9V310.30H310.6zM359.0 308.11H415.0V310.30H359.0zM420.1 308.11H425.2V310.30H420.1zM56.0 305.92H63.6V308.11H56.0zM66.2 305.92H68.7V308.11H66.2zM73.8 305.92H76.4V308.11H73.8zM119.7 305.92H122.2V308.11H119.7zM124.7 305.92H127.3V308.11H124.7zM129.8 305.92H134.9V308.11H129.8zM137.5 305.92H183.3V308.11H137.5zM216.4 305.92H219.0V308.11H216.4zM236.8 305.92H239.3V308.11H236.8zM359.0 305.92H364.1V308.11H359.0zM369.2 305.92H371.7V308.11H369.2zM374.3 305.92H389.5V308.11H374.3zM381.9 303.72H389.5V305.92H381.9z"/>
<path fill="#20a0f0" d="M236.8 387.04H239.3V389.23H236.8zM234.2 384.85H239.3V387.04H234.2zM280.1 384.85H292.8V387.04H280.1zM280.1 382.65H292.8V384.85H280.1zM425.2 382.65H430.3V384.85H425.2zM160.4 380.46H162.9V382.65H160.4zM165.5 380.46H168.0V382.65H165.5zM280.1 380.46H292.8V382.65H280.1zM341.2 380.46H343.7V382.65H341.2zM425.2 380.46H430.3V382.65H425.2zM437.9 380.46H440.5V382.65H437.9zM465.9 380.46H468.5V382.65H465.9zM473.6 380.46H476.1V382.65H473.6zM481.2 380.46H483.7V382.65H481.2zM491.4 380.46H496.5V382.65H491.4zM509.2 380.46H511.8V382.65H509.2zM145.1 378.27H147.7V380.46H145.1zM341.2 378.27H343.7V380.46H341.2zM425.2 378.27H514.3V380.46H425.2zM132.4 376.07H134.9V378.27H132.4zM137.5 376.07H140.0V378.27H137.5zM427.7 376.07H430.3V378.27H427.7zM463.4 376.07H465.9V378.27H463.4zM488.8 376.07H491.4V378.27H488.8zM68.7 360.73H71.3V362.92H68.7zM84.0 360.73H86.6V362.92H84.0zM89.1 360.73H96.7V362.92H89.1zM101.8 360.73H104.4V362.92H101.8zM61.1 358.54H63.6V360.73H61.1zM66.2 358.54H104.4V360.73H66.2zM56.0 356.34H66.2V358.54H56.0zM68.7 356.34H71.3V358.54H68.7zM73.8 356.34H76.4V358.54H73.8zM78.9 356.34H81.5V358.54H78.9zM91.6 356.34H94.2V358.54H91.6zM101.8 356.34H104.4V358.54H101.8zM448.1 316.88H450.6V319.07H448.1zM458.3 316.88H460.8V319.07H458.3zM463.4 316.88H468.5V319.07H463.4zM481.2 316.88H483.7V319.07H481.2zM486.3 316.88H491.4V319.07H486.3zM504.1 316.88H506.7V319.07H504.1zM511.8 316.88H514.3V319.07H511.8zM425.2 314.69H514.3V316.88H425.2zM331.0 312.49H343.7V314.69H331.0zM353.9 312.49H356.4V314.69H353.9zM425.2 312.49H514.3V314.69H425.2zM188.4 310.30H190.9V312.49H188.4zM206.2 310.30H211.3V312.49H206.2zM331.0 310.30H359.0V312.49H331.0zM425.2 310.30H473.6V312.49H425.2zM476.1 310.30H478.7V312.49H476.1zM483.7 310.30H501.6V312.49H483.7zM504.1 310.30H511.8V312.49H504.1zM183.3 308.11H211.3V310.30H183.3zM254.6 308.11H257.1V310.30H254.6zM264.8 308.11H267.3V310.30H264.8zM285.1 308.11H287.7V310.30H285.1zM290.2 308.11H292.8V310.30H290.2zM308.1 308.11H310.6V310.30H308.1zM325.9 308.11H359.0V310.30H325.9zM415.0 308.11H420.1V310.30H415.0zM425.2 308.11H435.4V310.30H425.2zM450.6 308.11H453.2V310.30H450.6zM458.3 308.11H460.8V310.30H458.3zM68.7 305.92H73.8V308.11H68.7zM76.4 305.92H78.9V308.11H76.4zM81.5 305.92H84.0V308.11H81.5zM86.6 305.92H94.2V308.11H86.6zM96.7 305.92H104.4V308.11H96.7zM106.9 305.92H109.5V308.11H106.9zM112.0 305.92H114.6V308.11H112.0zM122.2 305.92H124.7V308.11H122.2zM127.3 305.92H129.8V308.11H127.3zM134.9 305.92H137.5V308.11H134.9zM183.3 305.92H216.4V308.11H183.3zM219.0 305.92H236.8V308.11H219.0zM239.3 305.92H241.9V308.11H239.3zM244.4 305.92H249.5V308.11H244.4zM254.6 305.92H257.1V308.11H254.6zM285.1 305.92H290.2V308.11H285.1zM303.0 305.92H305.5V308.11H303.0zM310.6 305.92H315.7V308.11H310.6zM318.2 305.92H346.3V308.11H318.2zM348.8 305.92H356.4V308.11H348.8zM389.5 305.92H420.1V308.11H389.5zM119.7 303.72H140.0V305.92H119.7zM150.2 303.72H152.8V305.92H150.2zM162.9 303.72H165.5V305.92H162.9zM175.7 303.72H178.2V305.92H175.7zM190.9 303.72H193.5V305.92H190.9zM219.0 303.72H221.5V305.92H219.0zM389.5 303.72H402.3V305.92H389.5zM404.8 303.72H409.9V305.92H404.8zM392.1 301.53H394.6V303.72H392.1z"/>
<path fill="#f08020" d="M331.0 378.27H336.1V380.46H331.0zM239.3 367.31H249.5V369.50H239.3zM252.1 367.31H259.7V369.50H252.1zM211.3 365.11H259.7V367.31H211.3zM211.3 362.92H259.7V365.11H211.3zM211.3 360.73H213.9V362.92H211.3zM216.4 360.73H234.2V362.92H216.4zM239.3 360.73H259.7V362.92H239.3zM211.3 351.96H219.0V354.15H211.3zM234.2 351.96H239.3V354.15H234.2zM211.3 349.76H224.0V351.96H211.3zM226.6 349.76H231.7V351.96H226.6zM234.2 349.76H252.1V351.96H234.2zM254.6 349.76H262.2V351.96H254.6zM264.8 349.76H275.0V351.96H264.8zM277.5 349.76H282.6V351.96H277.5zM285.1 349.76H318.2V351.96H285.1zM320.8 349.76H323.3V351.96H320.8zM328.4 349.76H331.0V351.96H328.4zM117.1 347.57H119.7V349.76H117.1zM124.7 347.57H127.3V349.76H124.7zM142.6 347.57H145.1V349.76H142.6zM173.1 347.57H175.7V349.76H173.1zM178.2 347.57H183.3V349.76H178.2zM185.9 347.57H206.2V349.76H185.9zM208.8 347.57H224.0V349.76H208.8zM231.7 347.57H234.2V349.76H231.7zM236.8 347.57H331.0V349.76H236.8zM112.0 345.38H150.2V347.57H112.0zM152.8 345.38H353.9V347.57H152.8zM356.4 345.38H359.0V347.57H356.4zM106.9 343.19H366.6V345.38H106.9zM106.9 341.00H369.2V343.19H106.9zM104.4 338.80H369.2V341.00H104.4zM104.4 336.61H369.2V338.80H104.4zM106.9 334.42H239.3V336.61H106.9zM247.0 334.42H249.5V336.61H247.0zM254.6 334.42H257.1V336.61H254.6zM259.7 334.42H264.8V336.61H259.7zM287.7 334.42H290.2V336.61H287.7zM297.9 334.42H300.4V336.61H297.9zM303.0 334.42H305.5V336.61H303.0zM318.2 334.42H320.8V336.61H318.2zM328.4 334.42H336.1V336.61H328.4zM351.3 334.42H353.9V336.61H351.3zM106.9 332.23H239.3V334.42H106.9zM109.5 330.03H117.1V332.23H109.5zM119.7 330.03H127.3V332.23H119.7zM132.4 330.03H137.5V332.23H132.4zM140.0 330.03H142.6V332.23H140.0zM145.1 330.03H150.2V332.23H145.1zM152.8 330.03H180.8V332.23H152.8zM185.9 330.03H190.9V332.23H185.9zM193.5 330.03H201.1V332.23H193.5zM203.7 330.03H206.2V332.23H203.7zM208.8 330.03H239.3V332.23H208.8z"/>
<path fill="#18d018" d="M183.3 376.07H201.1V378.27H183.3zM206.2 376.07H208.8V378.27H206.2zM211.3 376.07H213.9V378.27H211.3zM216.4 376.07H219.0V378.27H216.4zM221.5 376.07H229.1V378.27H221.5zM231.7 376.07H234.2V378.27H231.7zM236.8 376.07H239.3V378.27H236.8zM173.1 373.88H178.2V376.07H173.1zM180.8 373.88H239.3V376.07H180.8zM297.9 373.88H300.4V376.07H297.9zM303.0 373.88H310.6V376.07H303.0zM313.2 373.88H323.3V376.07H313.2zM325.9 373.88H328.4V376.07H325.9zM392.1 373.88H397.2V376.07H392.1zM407.4 373.88H409.9V376.07H407.4zM114.6 371.69H124.7V373.88H114.6zM129.8 371.69H134.9V373.88H129.8zM140.0 371.69H145.1V373.88H140.0zM147.7 371.69H162.9V373.88H147.7zM170.6 371.69H249.5V373.88H170.6zM252.1 371.69H262.2V373.88H252.1zM264.8 371.69H277.5V373.88H264.8zM282.6 371.69H336.1V373.88H282.6zM338.6 371.69H346.3V373.88H338.6zM351.3 371.69H366.6V373.88H351.3zM369.2 371.69H376.8V373.88H369.2zM379.4 371.69H425.2V373.88H379.4zM112.0 369.50H435.4V371.69H112.0zM440.5 369.50H453.2V371.69H440.5zM458.3 369.50H471.0V371.69H458.3zM481.2 369.50H488.8V371.69H481.2zM491.4 369.50H496.5V371.69H491.4zM501.6 369.50H506.7V371.69H501.6zM509.2 369.50H514.3V371.69H509.2zM109.5 367.31H117.1V369.50H109.5zM119.7 367.31H127.3V369.50H119.7zM129.8 367.31H188.4V369.50H129.8zM193.5 367.31H196.0V369.50H193.5zM206.2 367.31H239.3V369.50H206.2zM249.5 367.31H252.1V369.50H249.5zM259.7 367.31H336.1V369.50H259.7zM338.6 367.31H341.2V369.50H338.6zM343.7 367.31H348.8V369.50H343.7zM351.3 367.31H356.4V369.50H351.3zM361.5 367.31H369.2V369.50H361.5zM381.9 367.31H384.4V369.50H381.9zM387.0 367.31H389.5V369.50H387.0zM415.0 367.31H417.5V369.50H415.0zM430.3 367.31H432.8V369.50H430.3zM437.9 367.31H514.3V369.50H437.9zM106.9 365.11H109.5V367.31H106.9zM150.2 365.11H155.3V367.31H150.2zM157.8 365.11H160.4V367.31H157.8zM277.5 365.11H282.6V367.31H277.5zM285.1 365.11H287.7V367.31H285.1zM292.8 365.11H295.3V367.31H292.8zM313.2 365.11H318.2V367.31H313.2zM325.9 365.11H328.4V367.31H325.9zM437.9 365.11H514.3V367.31H437.9zM437.9 362.92H514.3V365.11H437.9zM185.9 360.73H198.6V362.92H185.9zM437.9 360.73H514.3V362.92H437.9zM117.1 358.54H129.8V360.73H117.1zM134.9 358.54H157.8V360.73H134.9zM160.4 358.54H168.0V360.73H160.4zM170.6 358.54H173.1V360.73H170.6zM185.9 358.54H198.6V360.73H185.9zM425.2 358.54H435.4V360.73H425.2zM437.9 358.54H514.3V360.73H437.9zM104.4 356.34H173.1V358.54H104.4zM185.9 356.34H198.6V358.54H185.9zM297.9 356.34H310.6V358.54H297.9zM313.2 356.34H320.8V358.54H313.2zM323.3 356.34H325.9V358.54H323.3zM328.4 356.34H341.2V358.54H328.4zM412.5 356.34H415.0V358.54H412.5zM417.5 356.34H514.3V358.54H417.5zM104.4 354.15H173.1V356.34H104.4zM297.9 354.15H318.2V356.34H297.9zM320.8 354.15H323.3V356.34H320.8zM325.9 354.15H341.2V356.34H325.9zM397.2 354.15H402.3V356.34H397.2zM412.5 354.15H420.1V356.34H412.5zM422.6 354.15H514.3V356.34H422.6zM104.4 351.96H134.9V354.15H104.4zM137.5 351.96H147.7V354.15H137.5zM150.2 351.96H152.8V354.15H150.2zM157.8 351.96H160.4V354.15H157.8zM162.9 351.96H168.0V354.15H162.9zM425.2 351.96H427.7V354.15H425.2zM430.3 351.96H437.9V354.15H430.3zM440.5 351.96H445.6V354.15H440.5zM448.1 351.96H458.3V354.15H448.1zM463.4 351.96H491.4V354.15H463.4zM493.9 351.96H506.7V354.15H493.9zM509.2 351.96H514.3V354.15H509.2zM78.9 349.76H81.5V351.96H78.9zM91.6 349.76H94.2V351.96H91.6zM96.7 349.76H104.4V351.96H96.7zM56.0 347.57H61.1V349.76H56.0zM63.6 347.57H104.4V349.76H63.6zM56.0 345.38H104.4V347.57H56.0zM58.5 343.19H63.6V345.38H58.5zM66.2 343.19H71.3V345.38H66.2zM78.9 343.19H86.6V345.38H78.9zM96.7 343.19H104.4V345.38H96.7zM56.0 336.61H71.3V338.80H56.0zM56.0 334.42H71.3V336.61H56.0zM56.0 332.23H71.3V334.42H56.0zM432.8 332.23H435.4V334.42H432.8zM437.9 332.23H440.5V334.42H437.9zM445.6 332.23H448.1V334.42H445.6zM460.8 332.23H463.4V334.42H460.8zM471.0 332.23H473.6V334.42H471.0zM478.7 332.23H483.7V334.42H478.7zM491.4 332.23H493.9V334.42H491.4zM511.8 332.23H514.3V334.42H511.8zM56.0 330.03H71.3V332.23H56.0zM425.2 330.03H514.3V332.23H425.2zM56.0 327.84H71.3V330.03H56.0zM290.2 327.84H292.8V330.03H290.2zM295.3 327.84H308.1V330.03H295.3zM310.6 327.84H343.7V330.03H310.6zM346.3 327.84H356.4V330.03H346.3zM359.0 327.84H384.4V330.03H359.0zM387.0 327.84H392.1V330.03H387.0zM394.6 327.84H397.2V330.03H394.6zM399.7 327.84H409.9V330.03H399.7zM412.5 327.84H420.1V330.03H412.5zM422.6 327.84H514.3V330.03H422.6zM56.0 325.65H71.3V327.84H56.0zM76.4 325.65H84.0V327.84H76.4zM91.6 325.65H94.2V327.84H91.6zM106.9 325.65H114.6V327.84H106.9zM119.7 325.65H122.2V327.84H119.7zM127.3 325.65H129.8V327.84H127.3zM132.4 325.65H134.9V327.84H132.4zM137.5 325.65H147.7V327.84H137.5zM241.9 325.65H247.0V327.84H241.9zM249.5 325.65H259.7V327.84H249.5zM262.2 325.65H264.8V327.84H262.2zM272.4 325.65H275.0V327.84H272.4zM280.1 325.65H514.3V327.84H280.1zM56.0 323.45H147.7V325.65H56.0zM150.2 323.45H152.8V325.65H150.2zM155.3 323.45H157.8V325.65H155.3zM178.2 323.45H180.8V325.65H178.2zM185.9 323.45H188.4V325.65H185.9zM203.7 323.45H206.2V325.65H203.7zM208.8 323.45H211.3V325.65H208.8zM219.0 323.45H221.5V325.65H219.0zM224.0 323.45H226.6V325.65H224.0zM239.3 323.45H425.2V325.65H239.3zM432.8 323.45H435.4V325.65H432.8zM437.9 323.45H453.2V325.65H437.9zM455.7 323.45H463.4V325.65H455.7zM465.9 323.45H483.7V325.65H465.9zM486.3 323.45H509.2V325.65H486.3zM511.8 323.45H514.3V325.65H511.8zM56.0 321.26H285.1V323.45H56.0zM290.2 321.26H297.9V323.45H290.2zM318.2 321.26H320.8V323.45H318.2zM338.6 321.26H341.2V323.45H338.6zM346.3 321.26H351.3V323.45H346.3zM359.0 321.26H364.1V323.45H359.0zM389.5 321.26H394.6V323.45H389.5zM397.2 321.26H399.7V323.45H397.2zM420.1 321.26H425.2V323.45H420.1zM56.0 319.07H280.1V321.26H56.0zM56.0 316.88H58.5V319.07H56.0zM66.2 316.88H68.7V319.07H66.2zM71.3 316.88H81.5V319.07H71.3zM84.0 316.88H89.1V319.07H84.0zM91.6 316.88H106.9V319.07H91.6zM122.2 316.88H124.7V319.07H122.2zM132.4 316.88H134.9V319.07H132.4zM137.5 316.88H140.0V319.07H137.5zM147.7 316.88H160.4V319.07H147.7zM165.5 316.88H168.0V319.07H165.5zM170.6 316.88H173.1V319.07H170.6zM175.7 316.88H178.2V319.07H175.7zM180.8 316.88H185.9V319.07H180.8zM188.4 316.88H190.9V319.07H188.4zM213.9 316.88H216.4V319.07H213.9zM221.5 316.88H224.0V319.07H221.5zM249.5 316.88H252.1V319.07H249.5zM259.7 316.88H262.2V319.07H259.7zM267.3 316.88H269.9V319.07H267.3z"/>
<path fill="#e8e034" d="M117.1 367.31H119.7V369.50H117.1zM127.3 367.31H129.8V369.50H127.3zM188.4 367.31H193.5V369.50H188.4zM196.0 367.31H206.2V369.50H196.0zM336.1 367.31H338.6V369.50H336.1zM341.2 367.31H343.7V369.50H341.2zM348.8 367.31H351.3V369.50H348.8zM356.4 367.31H361.5V369.50H356.4zM369.2 367.31H381.9V369.50H369.2zM384.4 367.31H387.0V369.50H384.4zM389.5 367.31H415.0V369.50H389.5zM417.5 367.31H430.3V369.50H417.5zM432.8 367.31H437.9V369.50H432.8zM109.5 365.11H150.2V367.31H109.5zM155.3 365.11H157.8V367.31H155.3zM160.4 365.11H211.3V367.31H160.4zM259.7 365.11H277.5V367.31H259.7zM282.6 365.11H285.1V367.31H282.6zM287.7 365.11H292.8V367.31H287.7zM295.3 365.11H313.2V367.31H295.3zM318.2 365.11H325.9V367.31H318.2zM328.4 365.11H437.9V367.31H328.4zM106.9 362.92H211.3V365.11H106.9zM259.7 362.92H437.9V365.11H259.7zM106.9 360.73H185.9V362.92H106.9zM198.6 360.73H211.3V362.92H198.6zM213.9 360.73H216.4V362.92H213.9zM234.2 360.73H239.3V362.92H234.2zM259.7 360.73H437.9V362.92H259.7zM106.9 358.54H117.1V360.73H106.9zM129.8 358.54H134.9V360.73H129.8zM157.8 358.54H160.4V360.73H157.8zM168.0 358.54H170.6V360.73H168.0zM173.1 358.54H185.9V360.73H173.1zM198.6 358.54H425.2V360.73H198.6zM435.4 358.54H437.9V360.73H435.4zM173.1 356.34H185.9V358.54H173.1zM198.6 356.34H297.9V358.54H198.6zM310.6 356.34H313.2V358.54H310.6zM320.8 356.34H323.3V358.54H320.8zM325.9 356.34H328.4V358.54H325.9zM341.2 356.34H412.5V358.54H341.2zM415.0 356.34H417.5V358.54H415.0zM173.1 354.15H297.9V356.34H173.1zM318.2 354.15H320.8V356.34H318.2zM323.3 354.15H325.9V356.34H323.3zM341.2 354.15H397.2V356.34H341.2zM402.3 354.15H412.5V356.34H402.3zM420.1 354.15H422.6V356.34H420.1zM134.9 351.96H137.5V354.15H134.9zM147.7 351.96H150.2V354.15H147.7zM152.8 351.96H157.8V354.15H152.8zM160.4 351.96H162.9V354.15H160.4zM168.0 351.96H211.3V354.15H168.0zM219.0 351.96H234.2V354.15H219.0zM239.3 351.96H425.2V354.15H239.3zM427.7 351.96H430.3V354.15H427.7zM437.9 351.96H440.5V354.15H437.9zM445.6 351.96H448.1V354.15H445.6zM458.3 351.96H463.4V354.15H458.3zM491.4 351.96H493.9V354.15H491.4zM506.7 351.96H509.2V354.15H506.7zM104.4 349.76H211.3V351.96H104.4zM224.0 349.76H226.6V351.96H224.0zM231.7 349.76H234.2V351.96H231.7zM252.1 349.76H254.6V351.96H252.1zM262.2 349.76H264.8V351.96H262.2zM275.0 349.76H277.5V351.96H275.0zM282.6 349.76H285.1V351.96H282.6zM318.2 349.76H320.8V351.96H318.2zM323.3 349.76H328.4V351.96H323.3zM331.0 349.76H514.3V351.96H331.0zM104.4 347.57H117.1V349.76H104.4zM119.7 347.57H124.7V349.76H119.7zM127.3 347.57H142.6V349.76H127.3zM145.1 347.57H173.1V349.76H145.1zM175.7 347.57H178.2V349.76H175.7zM183.3 347.57H185.9V349.76H183.3zM206.2 347.57H208.8V349.76H206.2zM224.0 347.57H231.7V349.76H224.0zM331.0 347.57H514.3V349.76H331.0zM104.4 345.38H112.0V347.57H104.4zM150.2 345.38H152.8V347.57H150.2zM353.9 345.38H356.4V347.57H353.9zM359.0 345.38H514.3V347.57H359.0zM56.0 343.19H58.5V345.38H56.0zM63.6 343.19H66.2V345.38H63.6zM71.3 343.19H78.9V345.38H71.3zM86.6 343.19H96.7V345.38H86.6zM104.4 343.19H106.9V345.38H104.4zM366.6 343.19H514.3V345.38H366.6zM56.0 341.00H106.9V343.19H56.0zM369.2 341.00H514.3V343.19H369.2zM56.0 338.80H104.4V341.00H56.0zM369.2 338.80H514.3V341.00H369.2zM71.3 336.61H104.4V338.80H71.3zM369.2 336.61H514.3V338.80H369.2zM71.3 334.42H106.9V336.61H71.3zM239.3 334.42H247.0V336.61H239.3zM249.5 334.42H254.6V336.61H249.5zM257.1 334.42H259.7V336.61H257.1zM264.8 334.42H287.7V336.61H264.8zM290.2 334.42H297.9V336.61H290.2zM300.4 334.42H303.0V336.61H300.4zM305.5 334.42H318.2V336.61H305.5zM320.8 334.42H328.4V336.61H320.8zM336.1 334.42H351.3V336.61H336.1zM353.9 334.42H514.3V336.61H353.9zM71.3 332.23H106.9V334.42H71.3zM239.3 332.23H432.8V334.42H239.3zM435.4 332.23H437.9V334.42H435.4zM440.5 332.23H445.6V334.42H440.5zM448.1 332.23H460.8V334.42H448.1zM463.4 332.23H471.0V334.42H463.4zM473.6 332.23H478.7V334.42H473.6zM483.7 332.23H491.4V334.42H483.7zM493.9 332.23H511.8V334.42H493.9zM71.3 330.03H109.5V332.23H71.3zM117.1 330.03H119.7V332.23H117.1zM127.3 330.03H132.4V332.23H127.3zM137.5 330.03H140.0V332.23H137.5zM142.6 330.03H145.1V332.23H142.6zM150.2 330.03H152.8V332.23H150.2zM180.8 330.03H185.9V332.23H180.8zM190.9 330.03H193.5V332.23H190.9zM201.1 330.03H203.7V332.23H201.1zM206.2 330.03H208.8V332.23H206.2zM239.3 330.03H425.2V332.23H239.3zM71.3 327.84H290.2V330.03H71.3zM292.8 327.84H295.3V330.03H292.8zM308.1 327.84H310.6V330.03H308.1zM343.7 327.84H346.3V330.03H343.7zM356.4 327.84H359.0V330.03H356.4zM384.4 327.84H387.0V330.03H384.4zM392.1 327.84H394.6V330.03H392.1zM397.2 327.84H399.7V330.03H397.2zM409.9 327.84H412.5V330.03H409.9zM420.1 327.84H422.6V330.03H420.1zM71.3 325.65H76.4V327.84H71.3zM84.0 325.65H91.6V327.84H84.0zM94.2 325.65H106.9V327.84H94.2zM114.6 325.65H119.7V327.84H114.6zM122.2 325.65H127.3V327.84H122.2zM129.8 325.65H132.4V327.84H129.8zM134.9 325.65H137.5V327.84H134.9zM147.7 325.65H241.9V327.84H147.7zM247.0 325.65H249.5V327.84H247.0zM259.7 325.65H262.2V327.84H259.7zM264.8 325.65H272.4V327.84H264.8zM275.0 325.65H280.1V327.84H275.0zM147.7 323.45H150.2V325.65H147.7zM152.8 323.45H155.3V325.65H152.8zM157.8 323.45H178.2V325.65H157.8zM180.8 323.45H185.9V325.65H180.8zM188.4 323.45H203.7V325.65H188.4zM206.2 323.45H208.8V325.65H206.2zM211.3 323.45H219.0V325.65H211.3zM221.5 323.45H224.0V325.65H221.5zM226.6 323.45H239.3V325.65H226.6z"/>
<path fill="#f03030" d="M234.2 347.57H236.8V349.76H234.2z"/>
</g>
<path d="M56.5 130.73H513.3M56.5 121.96H513.3M56.5 113.19H513.3M56.5 104.42H513.3M56.5 95.65H513.3M56.5 86.88H513.3M56.5 78.11H513.3M56.5 69.34H513.3M56.5 60.57H513.3M56.5 51.80H513.3M56.5 43.03H513.3M56.5 34.26H513.3M132.38 33.0V138.5M208.77 33.0V138.5M285.15 33.0V138.5M361.53 33.0V138.5M437.92 33.0V138.5M56.5 260.03H513.3M56.5 251.26H513.3M56.5 242.49H513.3M56.5 233.72H513.3M56.5 224.95H513.3M56.5 216.18H513.3M56.5 207.41H513.3M56.5 198.64H513.3M56.5 189.87H513.3M56.5 181.10H513.3M56.5 172.33H513.3M56.5 163.56H513.3M132.38 162.3V267.8M208.77 162.3V267.8M285.15 162.3V267.8M361.53 162.3V267.8M437.92 162.3V267.8M56.5 389.23H513.3M56.5 380.46H513.3M56.5 371.69H513.3M56.5 362.92H513.3M56.5 354.15H513.3M56.5 345.38H513.3M56.5 336.61H513.3M56.5 327.84H513.3M56.5 319.07H513.3M56.5 310.30H513.3M56.5 301.53H513.3M56.5 292.76H513.3M132.38 291.5V397.0M208.77 291.5V397.0M285.15 291.5V397.0M361.53 291.5V397.0M437.92 291.5V397.0" stroke="#b4b4b4" stroke-width="1.1" stroke-dasharray="1.2 3.67" stroke-dashoffset="1.27" fill="none"/>
<rect x="56.0" y="32.0" width="458.3" height="107.5" fill="none" stroke="#222" stroke-width="1.3"/>
<rect x="56.0" y="161.3" width="458.3" height="107.5" fill="none" stroke="#222" stroke-width="1.3"/>
<rect x="56.0" y="290.5" width="458.3" height="107.5" fill="none" stroke="#222" stroke-width="1.3"/>
<path d="M53.2 139.50H56.0M53.2 130.73H56.0M53.2 121.96H56.0M53.2 113.19H56.0M53.2 104.42H56.0M53.2 95.65H56.0M53.2 86.88H56.0M53.2 78.11H56.0M53.2 69.34H56.0M53.2 60.57H56.0M53.2 51.80H56.0M53.2 43.03H56.0M53.2 34.26H56.0M56.00 139.5V142.1M132.38 139.5V142.1M208.77 139.5V142.1M285.15 139.5V142.1M361.53 139.5V142.1M437.92 139.5V142.1M514.30 139.5V142.1M53.2 268.80H56.0M53.2 260.03H56.0M53.2 251.26H56.0M53.2 242.49H56.0M53.2 233.72H56.0M53.2 224.95H56.0M53.2 216.18H56.0M53.2 207.41H56.0M53.2 198.64H56.0M53.2 189.87H56.0M53.2 181.10H56.0M53.2 172.33H56.0M53.2 163.56H56.0M56.00 268.8V271.4M132.38 268.8V271.4M208.77 268.8V271.4M285.15 268.8V271.4M361.53 268.8V271.4M437.92 268.8V271.4M514.30 268.8V271.4M53.2 398.00H56.0M53.2 389.23H56.0M53.2 380.46H56.0M53.2 371.69H56.0M53.2 362.92H56.0M53.2 354.15H56.0M53.2 345.38H56.0M53.2 336.61H56.0M53.2 327.84H56.0M53.2 319.07H56.0M53.2 310.30H56.0M53.2 301.53H56.0M53.2 292.76H56.0M56.00 398.0V400.6M132.38 398.0V400.6M208.77 398.0V400.6M285.15 398.0V400.6M361.53 398.0V400.6M437.92 398.0V400.6M514.30 398.0V400.6" stroke="#222" stroke-width="1" fill="none"/>
<g font-family="Liberation Sans, sans-serif" font-size="12.1" fill="#5a5a5a"><text x="48.4" y="143.80" text-anchor="end" transform="translate(48.4 0) scale(0.78 1) translate(-48.4 0)">0</text><text x="48.4" y="135.03" text-anchor="end" transform="translate(48.4 0) scale(0.78 1) translate(-48.4 0)">1</text><text x="48.4" y="126.26" text-anchor="end" transform="translate(48.4 0) scale(0.78 1) translate(-48.4 0)">2</text><text x="48.4" y="117.49" text-anchor="end" transform="translate(48.4 0) scale(0.78 1) translate(-48.4 0)">3</text><text x="48.4" y="108.72" text-anchor="end" transform="translate(48.4 0) scale(0.78 1) translate(-48.4 0)">4</text><text x="48.4" y="99.95" text-anchor="end" transform="translate(48.4 0) scale(0.78 1) translate(-48.4 0)">5</text><text x="48.4" y="91.18" text-anchor="end" transform="translate(48.4 0) scale(0.78 1) translate(-48.4 0)">6</text><text x="48.4" y="82.41" text-anchor="end" transform="translate(48.4 0) scale(0.78 1) translate(-48.4 0)">7</text><text x="48.4" y="73.64" text-anchor="end" transform="translate(48.4 0) scale(0.78 1) translate(-48.4 0)">8</text><text x="48.4" y="64.87" text-anchor="end" transform="translate(48.4 0) scale(0.78 1) translate(-48.4 0)">9</text><text x="48.4" y="56.10" text-anchor="end" transform="translate(48.4 0) scale(0.78 1) translate(-48.4 0)">10</text><text x="48.4" y="47.33" text-anchor="end" transform="translate(48.4 0) scale(0.78 1) translate(-48.4 0)">11</text><text x="48.4" y="38.56" text-anchor="end" transform="translate(48.4 0) scale(0.78 1) translate(-48.4 0)">12</text><text x="48.4" y="273.10" text-anchor="end" transform="translate(48.4 0) scale(0.78 1) translate(-48.4 0)">0</text><text x="48.4" y="264.33" text-anchor="end" transform="translate(48.4 0) scale(0.78 1) translate(-48.4 0)">1</text><text x="48.4" y="255.56" text-anchor="end" transform="translate(48.4 0) scale(0.78 1) translate(-48.4 0)">2</text><text x="48.4" y="246.79" text-anchor="end" transform="translate(48.4 0) scale(0.78 1) translate(-48.4 0)">3</text><text x="48.4" y="238.02" text-anchor="end" transform="translate(48.4 0) scale(0.78 1) translate(-48.4 0)">4</text><text x="48.4" y="229.25" text-anchor="end" transform="translate(48.4 0) scale(0.78 1) translate(-48.4 0)">5</text><text x="48.4" y="220.48" text-anchor="end" transform="translate(48.4 0) scale(0.78 1) translate(-48.4 0)">6</text><text x="48.4" y="211.71" text-anchor="end" transform="translate(48.4 0) scale(0.78 1) translate(-48.4 0)">7</text><text x="48.4" y="202.94" text-anchor="end" transform="translate(48.4 0) scale(0.78 1) translate(-48.4 0)">8</text><text x="48.4" y="194.17" text-anchor="end" transform="translate(48.4 0) scale(0.78 1) translate(-48.4 0)">9</text><text x="48.4" y="185.40" text-anchor="end" transform="translate(48.4 0) scale(0.78 1) translate(-48.4 0)">10</text><text x="48.4" y="176.63" text-anchor="end" transform="translate(48.4 0) scale(0.78 1) translate(-48.4 0)">11</text><text x="48.4" y="167.86" text-anchor="end" transform="translate(48.4 0) scale(0.78 1) translate(-48.4 0)">12</text><text x="48.4" y="402.30" text-anchor="end" transform="translate(48.4 0) scale(0.78 1) translate(-48.4 0)">0</text><text x="48.4" y="393.53" text-anchor="end" transform="translate(48.4 0) scale(0.78 1) translate(-48.4 0)">1</text><text x="48.4" y="384.76" text-anchor="end" transform="translate(48.4 0) scale(0.78 1) translate(-48.4 0)">2</text><text x="48.4" y="375.99" text-anchor="end" transform="translate(48.4 0) scale(0.78 1) translate(-48.4 0)">3</text><text x="48.4" y="367.22" text-anchor="end" transform="translate(48.4 0) scale(0.78 1) translate(-48.4 0)">4</text><text x="48.4" y="358.45" text-anchor="end" transform="translate(48.4 0) scale(0.78 1) translate(-48.4 0)">5</text><text x="48.4" y="349.68" text-anchor="end" transform="translate(48.4 0) scale(0.78 1) translate(-48.4 0)">6</text><text x="48.4" y="340.91" text-anchor="end" transform="translate(48.4 0) scale(0.78 1) translate(-48.4 0)">7</text><text x="48.4" y="332.14" text-anchor="end" transform="translate(48.4 0) scale(0.78 1) translate(-48.4 0)">8</text><text x="48.4" y="323.37" text-anchor="end" transform="translate(48.4 0) scale(0.78 1) translate(-48.4 0)">9</text><text x="48.4" y="314.60" text-anchor="end" transform="translate(48.4 0) scale(0.78 1) translate(-48.4 0)">10</text><text x="48.4" y="305.83" text-anchor="end" transform="translate(48.4 0) scale(0.78 1) translate(-48.4 0)">11</text><text x="48.4" y="297.06" text-anchor="end" transform="translate(48.4 0) scale(0.78 1) translate(-48.4 0)">12</text></g>
<g font-family="Liberation Sans, sans-serif" font-size="12" fill="#5a5a5a"><text x="40.3" y="153.6" textLength="26.6" lengthAdjust="spacingAndGlyphs">14:00</text><text x="119.6" y="153.6" textLength="26.6" lengthAdjust="spacingAndGlyphs">14:30</text><text x="195.8" y="153.6" textLength="26.6" lengthAdjust="spacingAndGlyphs">15:00</text><text x="271.7" y="153.6" textLength="26.6" lengthAdjust="spacingAndGlyphs">15:30</text><text x="348.7" y="153.6" textLength="26.6" lengthAdjust="spacingAndGlyphs">16:00</text><text x="424.7" y="153.6" textLength="26.6" lengthAdjust="spacingAndGlyphs">16:30</text><text x="504.0" y="153.6" textLength="26.6" lengthAdjust="spacingAndGlyphs">17:00</text><text x="40.3" y="282.9" textLength="26.6" lengthAdjust="spacingAndGlyphs">14:00</text><text x="119.6" y="282.9" textLength="26.6" lengthAdjust="spacingAndGlyphs">14:30</text><text x="195.8" y="282.9" textLength="26.6" lengthAdjust="spacingAndGlyphs">15:00</text><text x="271.7" y="282.9" textLength="26.6" lengthAdjust="spacingAndGlyphs">15:30</text><text x="348.7" y="282.9" textLength="26.6" lengthAdjust="spacingAndGlyphs">16:00</text><text x="424.7" y="282.9" textLength="26.6" lengthAdjust="spacingAndGlyphs">16:30</text><text x="504.0" y="282.9" textLength="26.6" lengthAdjust="spacingAndGlyphs">17:00</text><text x="40.3" y="412.1" textLength="26.6" lengthAdjust="spacingAndGlyphs">14:00</text><text x="119.6" y="412.1" textLength="26.6" lengthAdjust="spacingAndGlyphs">14:30</text><text x="195.8" y="412.1" textLength="26.6" lengthAdjust="spacingAndGlyphs">15:00</text><text x="271.7" y="412.1" textLength="26.6" lengthAdjust="spacingAndGlyphs">15:30</text><text x="348.7" y="412.1" textLength="26.6" lengthAdjust="spacingAndGlyphs">16:00</text><text x="424.7" y="412.1" textLength="26.6" lengthAdjust="spacingAndGlyphs">16:30</text><text x="504.0" y="412.1" textLength="26.6" lengthAdjust="spacingAndGlyphs">17:00</text></g>
<g font-family="Liberation Sans, sans-serif" font-size="11" fill="#444"><text x="61.8" y="46.4" textLength="23.5" lengthAdjust="spacingAndGlyphs">KDP</text><text x="94.8" y="46.4" textLength="63.2" lengthAdjust="spacingAndGlyphs">(deg./km)</text><text x="61.8" y="175.7" textLength="24.0" lengthAdjust="spacingAndGlyphs">ZDR</text><text x="94.1" y="175.7" textLength="25.9" lengthAdjust="spacingAndGlyphs">(dB)</text><text x="61.8" y="304.7" textLength="5.8" lengthAdjust="spacingAndGlyphs">Z</text><text x="77.8" y="304.7" textLength="33.5" lengthAdjust="spacingAndGlyphs">(dBZ)</text></g>
<g font-family="Liberation Sans, sans-serif" font-size="11.3" fill="#444"><text x="166.1" y="25.4" textLength="53.9" lengthAdjust="spacingAndGlyphs">elevation</text><text x="229.9" y="25.4" textLength="6.5" lengthAdjust="spacingAndGlyphs">&lt;</text><text x="246.9" y="25.4" textLength="13.5" lengthAdjust="spacingAndGlyphs">10</text><text x="268.7" y="25.4" textLength="25.1" lengthAdjust="spacingAndGlyphs">deg.</text><text x="332.4" y="25.4" textLength="71.6" lengthAdjust="spacingAndGlyphs">06SEP2018</text></g>
<g font-family="Liberation Sans, sans-serif" font-size="14.7" fill="#1a1a1a" stroke="#1a1a1a" stroke-width="0.3"><text x="249.3" y="429.6" textLength="29.6" lengthAdjust="spacingAndGlyphs">Time</text><text x="286.9" y="429.6" textLength="34.2" lengthAdjust="spacingAndGlyphs">(JST)</text></g>
<g transform="translate(28.2 0) rotate(-90)" font-family="Liberation Sans, sans-serif" font-size="15.2" fill="#1a1a1a" stroke="#1a1a1a" stroke-width="0.3"><text x="-385.5" y="0" textLength="41.8" lengthAdjust="spacingAndGlyphs">Height</text><text x="-335.2" y="0" textLength="30.6" lengthAdjust="spacingAndGlyphs">(km)</text></g>
<rect x="522.0" y="37.00" width="6.0" height="16.20" fill="#e8e034"/>
<rect x="522.0" y="53.20" width="6.0" height="16.20" fill="#f0b030"/>
<rect x="522.0" y="69.40" width="6.0" height="16.20" fill="#a0e040"/>
<rect x="522.0" y="85.60" width="6.0" height="16.20" fill="#18d018"/>
<rect x="522.0" y="101.80" width="6.0" height="16.20" fill="#2040f0"/>
<rect x="522.0" y="118.00" width="6.0" height="16.20" fill="#20c8d0"/>
<path d="M522.0 37.00L525.0 20.80L528.0 37.00z" fill="#f07c28" stroke="#111" stroke-width="1"/>
<path d="M522.0 134.20L525.0 150.40L528.0 134.20z" fill="#20a0f0" stroke="#111" stroke-width="1"/>
<rect x="522.0" y="37.00" width="6.0" height="97.20" fill="none" stroke="#111" stroke-width="1"/>
<path d="M522.0 53.20H528.0M522.0 69.40H528.0M522.0 85.60H528.0M522.0 101.80H528.0M522.0 118.00H528.0M528.0 37.00H529.5M528.0 53.20H529.5M528.0 69.40H529.5M528.0 85.60H529.5M528.0 101.80H529.5M528.0 118.00H529.5M528.0 134.20H529.5" stroke="#111" stroke-width="1.2" fill="none"/>
<g font-family="Liberation Sans, sans-serif" font-size="7.2" font-weight="bold" fill="#111"><text x="530" y="39.60">4</text><text x="530" y="55.80">3</text><text x="530" y="72.00">2</text><text x="530" y="88.20">1</text><text x="530" y="104.40">0</text><text x="530" y="120.60">&#8722;1</text><text x="530" y="136.80">&#8722;2</text></g>
<rect x="522.0" y="174.30" width="6.0" height="16.20" fill="#f0b030"/>
<rect x="522.0" y="190.50" width="6.0" height="16.20" fill="#a0e040"/>
<rect x="522.0" y="206.70" width="6.0" height="16.20" fill="#18d018"/>
<rect x="522.0" y="222.90" width="6.0" height="16.20" fill="#2040f0"/>
<rect x="522.0" y="239.10" width="6.0" height="16.20" fill="#20c8d0"/>
<path d="M522.0 174.30L525.0 158.10L528.0 174.30z" fill="#e8e034" stroke="#111" stroke-width="1"/>
<path d="M522.0 255.30L525.0 271.50L528.0 255.30z" fill="#20a0f0" stroke="#111" stroke-width="1"/>
<rect x="522.0" y="174.30" width="6.0" height="81.00" fill="none" stroke="#111" stroke-width="1"/>
<path d="M522.0 190.50H528.0M522.0 206.70H528.0M522.0 222.90H528.0M522.0 239.10H528.0M528.0 174.30H529.5M528.0 190.50H529.5M528.0 206.70H529.5M528.0 222.90H529.5M528.0 239.10H529.5M528.0 255.30H529.5" stroke="#111" stroke-width="1.2" fill="none"/>
<g font-family="Liberation Sans, sans-serif" font-size="7.2" font-weight="bold" fill="#111"><text x="530" y="176.90">0.6</text><text x="530" y="193.10">0.3</text><text x="530" y="209.30">0.1</text><text x="530" y="225.50">&#8722;0.1</text><text x="530" y="241.70">&#8722;0.3</text><text x="530" y="257.90">&#8722;0.6</text></g>
<rect x="522.0" y="287.80" width="6.0" height="16.20" fill="#9010e0"/>
<rect x="522.0" y="304.00" width="6.0" height="16.20" fill="#f03030"/>
<rect x="522.0" y="320.20" width="6.0" height="16.20" fill="#f08020"/>
<rect x="522.0" y="336.40" width="6.0" height="16.20" fill="#e8e034"/>
<rect x="522.0" y="352.60" width="6.0" height="16.20" fill="#18d018"/>
<rect x="522.0" y="368.80" width="6.0" height="16.20" fill="#2040f0"/>
<rect x="522.0" y="385.00" width="6.0" height="16.20" fill="#20a0f0"/>
<path d="M522.0 287.80L525.0 271.60L528.0 287.80z" fill="#b4b4b4" stroke="#111" stroke-width="1"/>
<path d="M522.0 401.20L525.0 417.40L528.0 401.20z" fill="#b4b4b4" stroke="#111" stroke-width="1"/>
<rect x="522.0" y="287.80" width="6.0" height="113.40" fill="none" stroke="#111" stroke-width="1"/>
<path d="M522.0 304.00H528.0M522.0 320.20H528.0M522.0 336.40H528.0M522.0 352.60H528.0M522.0 368.80H528.0M522.0 385.00H528.0M528.0 287.80H529.5M528.0 304.00H529.5M528.0 320.20H529.5M528.0 336.40H529.5M528.0 352.60H529.5M528.0 368.80H529.5M528.0 385.00H529.5M528.0 401.20H529.5" stroke="#111" stroke-width="1.2" fill="none"/>
<g font-family="Liberation Sans, sans-serif" font-size="7.2" font-weight="bold" fill="#111"><text x="530" y="290.40">18</text><text x="530" y="306.60">17</text><text x="530" y="322.80">16</text><text x="530" y="339.00">15</text><text x="530" y="355.20">14</text><text x="530" y="371.40">13</text><text x="530" y="387.60">12</text><text x="530" y="403.80">11</text></g>
</svg>
</body></html>
